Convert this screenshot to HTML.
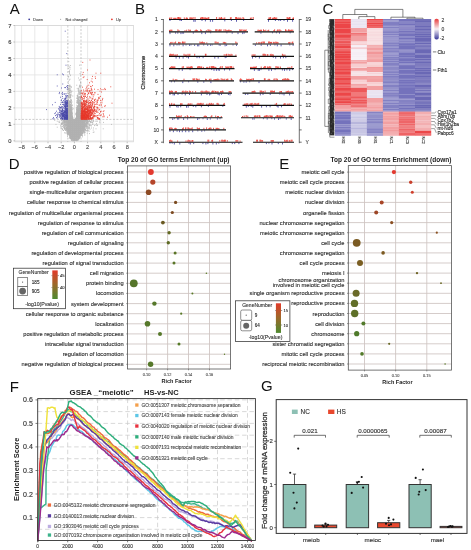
<!DOCTYPE html>
<html><head><meta charset="utf-8"><title>Figure</title>
<style>html,body{margin:0;padding:0;background:#fff;} svg{display:block;} text{font-family:'Liberation Sans',Arial,sans-serif;}</style>
</head><body>
<svg width="471" height="550" viewBox="0 0 471 550" style="font-family:'Liberation Sans',Arial,sans-serif">
<rect width="471" height="550" fill="#fff"/>
<text x="9.7" y="14" font-size="15" text-anchor="start" font-weight="normal" fill="#111" >A</text>
<text x="135.1" y="14" font-size="15" text-anchor="start" font-weight="normal" fill="#111" >B</text>
<text x="322.5" y="13.6" font-size="15" text-anchor="start" font-weight="normal" fill="#111" >C</text>
<text x="8.8" y="169.3" font-size="15" text-anchor="start" font-weight="normal" fill="#111" >D</text>
<text x="279.2" y="169.2" font-size="15" text-anchor="start" font-weight="normal" fill="#111" >E</text>
<text x="9.8" y="391.6" font-size="15" text-anchor="start" font-weight="normal" fill="#111" >F</text>
<text x="261" y="391.4" font-size="15" text-anchor="start" font-weight="normal" fill="#111" >G</text>
<path d="M21.6 25.5V141.8M34.8 25.5V141.8M48 25.5V141.8M61.2 25.5V141.8M74.4 25.5V141.8M87.6 25.5V141.8M100.8 25.5V141.8M114 25.5V141.8M127.2 25.5V141.8M14.9 140.8H133.4M14.9 124.3H133.4M14.9 107.9H133.4M14.9 91.4H133.4M14.9 74.9H133.4M14.9 58.5H133.4M14.9 42H133.4M14.9 25.5H133.4" stroke="#e2e2e2" stroke-width="0.8" fill="none"/>
<rect x="14.9" y="25.5" width="118.5" height="116.3" fill="none" stroke="#d6d6d6" stroke-width="0.8"/>
<path d="M21.6 141.8v1.5M34.8 141.8v1.5M48 141.8v1.5M61.2 141.8v1.5M74.4 141.8v1.5M87.6 141.8v1.5M100.8 141.8v1.5M114 141.8v1.5M127.2 141.8v1.5M14.9 140.8h-1.5M14.9 124.3h-1.5M14.9 107.9h-1.5M14.9 91.4h-1.5M14.9 74.9h-1.5M14.9 58.5h-1.5M14.9 42h-1.5M14.9 25.5h-1.5" stroke="#999" stroke-width="0.6"/>
<text x="21.6" y="149" font-size="5.6" text-anchor="middle" font-weight="normal" fill="#4a4a4a" stroke="#4a4a4a" stroke-width="0.12" >−8</text>
<text x="34.8" y="149" font-size="5.6" text-anchor="middle" font-weight="normal" fill="#4a4a4a" stroke="#4a4a4a" stroke-width="0.12" >−6</text>
<text x="48" y="149" font-size="5.6" text-anchor="middle" font-weight="normal" fill="#4a4a4a" stroke="#4a4a4a" stroke-width="0.12" >−4</text>
<text x="61.2" y="149" font-size="5.6" text-anchor="middle" font-weight="normal" fill="#4a4a4a" stroke="#4a4a4a" stroke-width="0.12" >−2</text>
<text x="74.4" y="149" font-size="5.6" text-anchor="middle" font-weight="normal" fill="#4a4a4a" stroke="#4a4a4a" stroke-width="0.12" >0</text>
<text x="87.6" y="149" font-size="5.6" text-anchor="middle" font-weight="normal" fill="#4a4a4a" stroke="#4a4a4a" stroke-width="0.12" >2</text>
<text x="100.8" y="149" font-size="5.6" text-anchor="middle" font-weight="normal" fill="#4a4a4a" stroke="#4a4a4a" stroke-width="0.12" >4</text>
<text x="114" y="149" font-size="5.6" text-anchor="middle" font-weight="normal" fill="#4a4a4a" stroke="#4a4a4a" stroke-width="0.12" >6</text>
<text x="127.2" y="149" font-size="5.6" text-anchor="middle" font-weight="normal" fill="#4a4a4a" stroke="#4a4a4a" stroke-width="0.12" >8</text>
<text x="11.4" y="142.8" font-size="5.8" text-anchor="end" font-weight="normal" fill="#3a3a3a" stroke="#3a3a3a" stroke-width="0.13" >0</text>
<text x="11.4" y="126.3" font-size="5.8" text-anchor="end" font-weight="normal" fill="#3a3a3a" stroke="#3a3a3a" stroke-width="0.13" >1</text>
<text x="11.4" y="109.9" font-size="5.8" text-anchor="end" font-weight="normal" fill="#3a3a3a" stroke="#3a3a3a" stroke-width="0.13" >2</text>
<text x="11.4" y="93.4" font-size="5.8" text-anchor="end" font-weight="normal" fill="#3a3a3a" stroke="#3a3a3a" stroke-width="0.13" >3</text>
<text x="11.4" y="76.9" font-size="5.8" text-anchor="end" font-weight="normal" fill="#3a3a3a" stroke="#3a3a3a" stroke-width="0.13" >4</text>
<text x="11.4" y="60.5" font-size="5.8" text-anchor="end" font-weight="normal" fill="#3a3a3a" stroke="#3a3a3a" stroke-width="0.13" >5</text>
<text x="11.4" y="44" font-size="5.8" text-anchor="end" font-weight="normal" fill="#3a3a3a" stroke="#3a3a3a" stroke-width="0.13" >6</text>
<text x="11.4" y="27.5" font-size="5.8" text-anchor="end" font-weight="normal" fill="#3a3a3a" stroke="#3a3a3a" stroke-width="0.13" >7</text>
<path d="M14.9 119.4H133.4M67.8 25.5V141.8M81 25.5V141.8" stroke="#aaa" stroke-width="0.6" stroke-dasharray="2 1.5" fill="none"/>
<circle cx="29.2" cy="19.3" r="0.9" fill="#3a3a9a"/>
<text x="33.1" y="21" font-size="3.9" text-anchor="start" font-weight="normal" fill="#444" stroke="#444" stroke-width="0.09" >Down</text>
<circle cx="60.6" cy="19.3" r="0.6" fill="#aaa"/>
<text x="65.4" y="21" font-size="3.9" text-anchor="start" font-weight="normal" fill="#444" stroke="#444" stroke-width="0.09" >Not changed</text>
<circle cx="111.9" cy="19.3" r="0.9" fill="#e53a30"/>
<text x="116" y="21" font-size="3.9" text-anchor="start" font-weight="normal" fill="#444" stroke="#444" stroke-width="0.09" >Up</text>
<path d="M68 43.6h0M68.4 58.4h0M68.8 61.6h0M68.8 65.2h0M79.6 65.2h0M70.4 65.6h0M68 66.4h0M69.2 66.8h0M70 67.6h0M68.4 68.4h0M70 69.2h0M69.6 70.8h0M68.8 71.6h0M69.6 71.6h0M69.6 72.4h0M69.6 73.6h0M80 73.6h0M80.8 74h0M70 74.4h0M70.4 75.6h0M80.4 76h0M68 76.8h0M68.4 76.8h0M68.8 76.8h0M78.4 78h0M70 79.2h0M69.6 80h0M79.2 80h0M80 80h0M68.4 81.2h0M80.4 82h0M80.4 82.4h0M80.4 82.8h0M68.4 83.2h0M80.8 84h0M69.2 85.2h0M70 85.2h0M76.8 85.2h0M79.6 85.2h0M80.8 85.2h0M68.4 85.6h0M68.8 86h0M69.6 86h0M70 86h0M79.6 86h0M80.4 86h0M70.8 86.4h0M79.6 86.4h0M69.6 86.8h0M71.2 86.8h0M80.4 86.8h0M79.2 87.2h0M68 87.6h0M71.2 87.6h0M80.8 87.6h0M70 88h0M80 88h0M68.4 88.4h0M68.8 88.4h0M69.2 88.4h0M70 88.4h0M77.2 88.4h0M78.4 88.4h0M68 88.8h0M68.8 89.2h0M69.2 89.2h0M78.4 89.2h0M68.8 89.6h0M70 89.6h0M68 90h0M68.4 90h0M70.8 90h0M78 90h0M79.2 90h0M69.2 90.4h0M69.6 90.4h0M78.8 90.4h0M80.8 90.4h0M70.4 90.8h0M70.8 90.8h0M80.8 90.8h0M69.6 91.2h0M72 91.2h0M78.8 91.2h0M79.2 91.2h0M80.8 91.2h0M68 91.6h0M68.4 91.6h0M71.2 91.6h0M78.8 91.6h0M80.4 91.6h0M69.2 92h0M80 92h0M80.4 92h0M69.6 92.4h0M70 92.4h0M78.8 92.4h0M80.8 92.4h0M69.6 92.8h0M70.8 92.8h0M71.2 92.8h0M79.2 92.8h0M80 92.8h0M68.8 93.2h0M79.6 93.2h0M68 93.6h0M68.4 93.6h0M78.8 93.6h0M80.4 93.6h0M69.2 94h0M69.6 94h0M78 94h0M80.8 94h0M70 94.4h0M70.8 94.4h0M79.6 94.4h0M80.8 94.4h0M68.8 94.8h0M70.8 94.8h0M78.8 94.8h0M71.2 95.2h0M77.6 95.2h0M69.2 95.6h0M70 95.6h0M70.4 95.6h0M77.2 95.6h0M68.4 96h0M68.8 96h0M70.4 96h0M72.8 96h0M77.2 96h0M77.6 96h0M78 96h0M80.4 96h0M68.8 96.4h0M80 96.4h0M80.4 96.4h0M68.4 96.8h0M68.8 96.8h0M70 96.8h0M70.4 96.8h0M70.8 96.8h0M77.6 96.8h0M78.4 96.8h0M79.2 96.8h0M80 96.8h0M80.4 96.8h0M80.8 96.8h0M69.2 97.2h0M80.8 97.2h0M68.4 97.6h0M70 97.6h0M70.4 97.6h0M77.2 97.6h0M78.4 97.6h0M79.2 97.6h0M80 97.6h0M68 98h0M69.6 98h0M70.8 98h0M77.2 98h0M78.8 98h0M79.6 98h0M80.4 98h0M68 98.4h0M76.8 98.4h0M77.6 98.4h0M80.4 98.4h0M78 98.8h0M78.8 98.8h0M80.4 98.8h0M80.8 98.8h0M77.6 99.2h0M78 99.2h0M78.4 99.2h0M78.8 99.2h0M80.8 99.2h0M68.4 99.6h0M70.8 99.6h0M78.4 99.6h0M68 100h0M70.8 100h0M71.6 100h0M79.6 100h0M80 100h0M68.4 100.4h0M68.8 100.4h0M71.6 100.4h0M77.6 100.4h0M78 100.4h0M78.4 100.4h0M79.2 100.4h0M79.6 100.4h0M80.4 100.4h0M80.8 100.4h0M68 100.8h0M68.4 100.8h0M68.8 100.8h0M70.4 100.8h0M76.8 100.8h0M78 100.8h0M80.4 100.8h0M69.2 101.2h0M69.6 101.2h0M70 101.2h0M71.6 101.2h0M79.2 101.2h0M79.6 101.2h0M80 101.2h0M80.4 101.2h0M68 101.6h0M70 101.6h0M70.4 101.6h0M77.6 101.6h0M78.4 101.6h0M78.8 101.6h0M80.8 101.6h0M68.8 102h0M69.2 102h0M69.6 102h0M70.4 102h0M70.8 102h0M72 102h0M76.8 102h0M77.6 102h0M80.4 102h0M68 102.4h0M68.8 102.4h0M70 102.4h0M70.4 102.4h0M78 102.4h0M78.4 102.4h0M78.8 102.4h0M79.2 102.4h0M80 102.4h0M80.4 102.4h0M80.8 102.4h0M68 102.8h0M69.2 102.8h0M70 102.8h0M71.2 102.8h0M71.6 102.8h0M76.8 102.8h0M77.2 102.8h0M77.6 102.8h0M78.4 102.8h0M78.8 102.8h0M79.2 102.8h0M80.8 102.8h0M68 103.2h0M68.4 103.2h0M70 103.2h0M78 103.2h0M78.8 103.2h0M79.2 103.2h0M79.6 103.2h0M80 103.2h0M80.4 103.2h0M68 103.6h0M69.6 103.6h0M71.2 103.6h0M78 103.6h0M78.4 103.6h0M79.2 103.6h0M80.4 103.6h0M80.8 103.6h0M68 104h0M68.4 104h0M68.8 104h0M69.2 104h0M71.6 104h0M78.4 104h0M78.8 104h0M79.2 104h0M79.6 104h0M80 104h0M80.4 104h0M80.8 104h0M68 104.4h0M68.8 104.4h0M69.2 104.4h0M70.4 104.4h0M78.8 104.4h0M79.6 104.4h0M80 104.4h0M80.8 104.4h0M69.6 104.8h0M70 104.8h0M70.4 104.8h0M70.8 104.8h0M71.2 104.8h0M78.8 104.8h0M79.2 104.8h0M79.6 104.8h0M80 104.8h0M80.8 104.8h0M68 105.2h0M68.8 105.2h0M69.6 105.2h0M70.4 105.2h0M70.8 105.2h0M72 105.2h0M72.4 105.2h0M76.8 105.2h0M78.4 105.2h0M78.8 105.2h0M79.6 105.2h0M80 105.2h0M80.4 105.2h0M80.8 105.2h0M68 105.6h0M68.4 105.6h0M68.8 105.6h0M69.6 105.6h0M71.6 105.6h0M78 105.6h0M78.4 105.6h0M79.2 105.6h0M80 105.6h0M80.8 105.6h0M69.2 106h0M69.6 106h0M70.8 106h0M77.2 106h0M77.6 106h0M78.4 106h0M78.8 106h0M79.2 106h0M79.6 106h0M68 106.4h0M68.4 106.4h0M69.2 106.4h0M70 106.4h0M70.4 106.4h0M71.6 106.4h0M77.2 106.4h0M79.6 106.4h0M80.4 106.4h0M80.8 106.4h0M68.4 106.8h0M68.8 106.8h0M69.6 106.8h0M70 106.8h0M70.8 106.8h0M77.2 106.8h0M77.6 106.8h0M78.4 106.8h0M78.8 106.8h0M79.2 106.8h0M79.6 106.8h0M80 106.8h0M80.8 106.8h0M68.8 107.2h0M69.2 107.2h0M69.6 107.2h0M70.4 107.2h0M70.8 107.2h0M71.2 107.2h0M72 107.2h0M78 107.2h0M78.4 107.2h0M78.8 107.2h0M79.2 107.2h0M80 107.2h0M80.4 107.2h0M80.8 107.2h0M68.8 107.6h0M70 107.6h0M70.4 107.6h0M70.8 107.6h0M71.2 107.6h0M71.6 107.6h0M72 107.6h0M76.4 107.6h0M77.2 107.6h0M77.6 107.6h0M78 107.6h0M78.8 107.6h0M79.2 107.6h0M79.6 107.6h0M80 107.6h0M80.4 107.6h0M80.8 107.6h0M68.8 108h0M70 108h0M70.8 108h0M71.2 108h0M71.6 108h0M76.8 108h0M77.6 108h0M78.4 108h0M79.2 108h0M79.6 108h0M80 108h0M80.4 108h0M80.8 108h0M68 108.4h0M69.2 108.4h0M70 108.4h0M70.4 108.4h0M70.8 108.4h0M71.6 108.4h0M77.6 108.4h0M78 108.4h0M78.4 108.4h0M79.2 108.4h0M79.6 108.4h0M80 108.4h0M80.4 108.4h0M80.8 108.4h0M68 108.8h0M68.4 108.8h0M68.8 108.8h0M70 108.8h0M70.4 108.8h0M70.8 108.8h0M71.2 108.8h0M72 108.8h0M73.2 108.8h0M76.8 108.8h0M78 108.8h0M78.4 108.8h0M78.8 108.8h0M79.2 108.8h0M80.8 108.8h0M68 109.2h0M68.4 109.2h0M68.8 109.2h0M69.2 109.2h0M69.6 109.2h0M70 109.2h0M70.4 109.2h0M71.2 109.2h0M71.6 109.2h0M72.4 109.2h0M76.4 109.2h0M76.8 109.2h0M77.2 109.2h0M77.6 109.2h0M78 109.2h0M79.2 109.2h0M79.6 109.2h0M80 109.2h0M80.4 109.2h0M80.8 109.2h0M68 109.6h0M68.4 109.6h0M68.8 109.6h0M69.6 109.6h0M70 109.6h0M70.4 109.6h0M70.8 109.6h0M71.2 109.6h0M76.8 109.6h0M77.2 109.6h0M77.6 109.6h0M78.4 109.6h0M78.8 109.6h0M79.2 109.6h0M79.6 109.6h0M80 109.6h0M80.4 109.6h0M68 110h0M69.2 110h0M69.6 110h0M70 110h0M70.4 110h0M70.8 110h0M72 110h0M77.6 110h0M78.4 110h0M78.8 110h0M79.2 110h0M79.6 110h0M80 110h0M80.4 110h0M80.8 110h0M68 110.4h0M68.4 110.4h0M69.2 110.4h0M69.6 110.4h0M70 110.4h0M70.4 110.4h0M71.2 110.4h0M71.6 110.4h0M76.4 110.4h0M77.2 110.4h0M77.6 110.4h0M78 110.4h0M78.4 110.4h0M78.8 110.4h0M79.2 110.4h0M79.6 110.4h0M80 110.4h0M80.4 110.4h0M80.8 110.4h0M68.4 110.8h0M68.8 110.8h0M69.2 110.8h0M69.6 110.8h0M70 110.8h0M70.4 110.8h0M70.8 110.8h0M71.6 110.8h0M72 110.8h0M77.2 110.8h0M77.6 110.8h0M78 110.8h0M78.4 110.8h0M78.8 110.8h0M79.2 110.8h0M79.6 110.8h0M80 110.8h0M80.4 110.8h0M80.8 110.8h0M68.4 111.2h0M68.8 111.2h0M69.2 111.2h0M69.6 111.2h0M70 111.2h0M70.8 111.2h0M71.2 111.2h0M76.4 111.2h0M77.2 111.2h0M78 111.2h0M78.4 111.2h0M78.8 111.2h0M79.2 111.2h0M79.6 111.2h0M80 111.2h0M80.4 111.2h0M80.8 111.2h0M68 111.6h0M68.4 111.6h0M68.8 111.6h0M69.2 111.6h0M69.6 111.6h0M70.8 111.6h0M71.2 111.6h0M71.6 111.6h0M72 111.6h0M77.2 111.6h0M77.6 111.6h0M78 111.6h0M78.4 111.6h0M78.8 111.6h0M79.2 111.6h0M79.6 111.6h0M80 111.6h0M80.4 111.6h0M80.8 111.6h0M68 112h0M68.4 112h0M69.2 112h0M69.6 112h0M70 112h0M70.4 112h0M70.8 112h0M71.2 112h0M71.6 112h0M76.4 112h0M76.8 112h0M78 112h0M78.4 112h0M78.8 112h0M79.2 112h0M79.6 112h0M80 112h0M80.4 112h0M68 112.4h0M68.4 112.4h0M68.8 112.4h0M69.2 112.4h0M69.6 112.4h0M70 112.4h0M70.4 112.4h0M70.8 112.4h0M71.6 112.4h0M72 112.4h0M76.4 112.4h0M77.2 112.4h0M77.6 112.4h0M78.8 112.4h0M79.2 112.4h0M79.6 112.4h0M80 112.4h0M80.4 112.4h0M80.8 112.4h0M68 112.8h0M68.4 112.8h0M68.8 112.8h0M69.2 112.8h0M69.6 112.8h0M70 112.8h0M70.4 112.8h0M70.8 112.8h0M71.2 112.8h0M71.6 112.8h0M72 112.8h0M76.4 112.8h0M77.2 112.8h0M77.6 112.8h0M78 112.8h0M78.4 112.8h0M78.8 112.8h0M79.2 112.8h0M79.6 112.8h0M80 112.8h0M80.4 112.8h0M80.8 112.8h0M68 113.2h0M68.4 113.2h0M68.8 113.2h0M69.2 113.2h0M69.6 113.2h0M70 113.2h0M70.4 113.2h0M70.8 113.2h0M71.2 113.2h0M72 113.2h0M72.4 113.2h0M76 113.2h0M76.4 113.2h0M77.2 113.2h0M77.6 113.2h0M78 113.2h0M78.4 113.2h0M78.8 113.2h0M79.2 113.2h0M79.6 113.2h0M80 113.2h0M80.4 113.2h0M80.8 113.2h0M68 113.6h0M68.4 113.6h0M69.2 113.6h0M69.6 113.6h0M70 113.6h0M70.4 113.6h0M70.8 113.6h0M71.6 113.6h0M72 113.6h0M76 113.6h0M76.4 113.6h0M76.8 113.6h0M77.2 113.6h0M77.6 113.6h0M78 113.6h0M78.4 113.6h0M78.8 113.6h0M79.2 113.6h0M79.6 113.6h0M80 113.6h0M80.4 113.6h0M80.8 113.6h0M68 114h0M68.4 114h0M68.8 114h0M69.2 114h0M69.6 114h0M70.4 114h0M70.8 114h0M71.2 114h0M71.6 114h0M72 114h0M76.8 114h0M77.6 114h0M78 114h0M78.4 114h0M79.2 114h0M79.6 114h0M80 114h0M80.4 114h0M80.8 114h0M68 114.4h0M68.4 114.4h0M69.2 114.4h0M70 114.4h0M70.4 114.4h0M70.8 114.4h0M71.6 114.4h0M76 114.4h0M76.4 114.4h0M76.8 114.4h0M77.2 114.4h0M77.6 114.4h0M78 114.4h0M78.4 114.4h0M78.8 114.4h0M79.2 114.4h0M79.6 114.4h0M80.8 114.4h0M68 114.8h0M68.4 114.8h0M69.2 114.8h0M69.6 114.8h0M70 114.8h0M70.4 114.8h0M70.8 114.8h0M71.2 114.8h0M71.6 114.8h0M72 114.8h0M72.4 114.8h0M76 114.8h0M76.8 114.8h0M77.2 114.8h0M77.6 114.8h0M78 114.8h0M78.4 114.8h0M78.8 114.8h0M79.2 114.8h0M79.6 114.8h0M80 114.8h0M80.4 114.8h0M80.8 114.8h0M68 115.2h0M68.4 115.2h0M68.8 115.2h0M69.6 115.2h0M70 115.2h0M71.2 115.2h0M71.6 115.2h0M76.8 115.2h0M77.2 115.2h0M77.6 115.2h0M78.4 115.2h0M78.8 115.2h0M79.2 115.2h0M79.6 115.2h0M80 115.2h0M80.4 115.2h0M80.8 115.2h0M68 115.6h0M68.4 115.6h0M68.8 115.6h0M69.2 115.6h0M69.6 115.6h0M70 115.6h0M70.4 115.6h0M70.8 115.6h0M71.2 115.6h0M71.6 115.6h0M72 115.6h0M76.4 115.6h0M76.8 115.6h0M77.2 115.6h0M77.6 115.6h0M78 115.6h0M78.4 115.6h0M78.8 115.6h0M79.2 115.6h0M79.6 115.6h0M80 115.6h0M80.4 115.6h0M80.8 115.6h0M68 116h0M68.4 116h0M68.8 116h0M69.2 116h0M69.6 116h0M70 116h0M70.4 116h0M70.8 116h0M71.2 116h0M71.6 116h0M72 116h0M72.4 116h0M76.4 116h0M76.8 116h0M77.2 116h0M77.6 116h0M78 116h0M78.4 116h0M78.8 116h0M79.2 116h0M79.6 116h0M80 116h0M80.4 116h0M80.8 116h0M68 116.4h0M68.4 116.4h0M68.8 116.4h0M69.2 116.4h0M69.6 116.4h0M70 116.4h0M70.4 116.4h0M70.8 116.4h0M71.2 116.4h0M71.6 116.4h0M72 116.4h0M72.4 116.4h0M76.8 116.4h0M77.2 116.4h0M77.6 116.4h0M78 116.4h0M78.4 116.4h0M78.8 116.4h0M79.2 116.4h0M79.6 116.4h0M80 116.4h0M80.4 116.4h0M80.8 116.4h0M68 116.8h0M68.4 116.8h0M68.8 116.8h0M69.2 116.8h0M69.6 116.8h0M70 116.8h0M70.4 116.8h0M70.8 116.8h0M71.2 116.8h0M71.6 116.8h0M72 116.8h0M72.4 116.8h0M76.4 116.8h0M76.8 116.8h0M77.2 116.8h0M77.6 116.8h0M78 116.8h0M78.4 116.8h0M78.8 116.8h0M79.2 116.8h0M79.6 116.8h0M80 116.8h0M80.4 116.8h0M80.8 116.8h0M68 117.2h0M68.4 117.2h0M68.8 117.2h0M69.2 117.2h0M69.6 117.2h0M70.4 117.2h0M70.8 117.2h0M71.2 117.2h0M71.6 117.2h0M76.4 117.2h0M76.8 117.2h0M77.2 117.2h0M77.6 117.2h0M78 117.2h0M78.4 117.2h0M78.8 117.2h0M79.2 117.2h0M79.6 117.2h0M80 117.2h0M80.4 117.2h0M80.8 117.2h0M68 117.6h0M68.4 117.6h0M69.2 117.6h0M69.6 117.6h0M70 117.6h0M70.4 117.6h0M70.8 117.6h0M71.6 117.6h0M72 117.6h0M72.4 117.6h0M72.8 117.6h0M76.4 117.6h0M76.8 117.6h0M77.2 117.6h0M77.6 117.6h0M78 117.6h0M78.4 117.6h0M78.8 117.6h0M79.2 117.6h0M79.6 117.6h0M80 117.6h0M80.4 117.6h0M80.8 117.6h0M68 118h0M68.4 118h0M68.8 118h0M69.2 118h0M69.6 118h0M70 118h0M70.4 118h0M71.2 118h0M71.6 118h0M72 118h0M72.4 118h0M72.8 118h0M76 118h0M76.4 118h0M77.2 118h0M77.6 118h0M78 118h0M78.4 118h0M78.8 118h0M79.2 118h0M79.6 118h0M80 118h0M80.4 118h0M80.8 118h0M68 118.4h0M68.4 118.4h0M68.8 118.4h0M69.2 118.4h0M69.6 118.4h0M70 118.4h0M70.4 118.4h0M70.8 118.4h0M71.2 118.4h0M71.6 118.4h0M72 118.4h0M72.4 118.4h0M75.6 118.4h0M76 118.4h0M76.4 118.4h0M76.8 118.4h0M77.2 118.4h0M77.6 118.4h0M78 118.4h0M78.4 118.4h0M78.8 118.4h0M79.2 118.4h0M79.6 118.4h0M80 118.4h0M80.4 118.4h0M80.8 118.4h0M68 118.8h0M68.4 118.8h0M68.8 118.8h0M69.2 118.8h0M69.6 118.8h0M70 118.8h0M70.4 118.8h0M70.8 118.8h0M71.2 118.8h0M71.6 118.8h0M72 118.8h0M72.8 118.8h0M76 118.8h0M76.8 118.8h0M77.2 118.8h0M77.6 118.8h0M78 118.8h0M78.4 118.8h0M78.8 118.8h0M79.2 118.8h0M79.6 118.8h0M80 118.8h0M80.4 118.8h0M80.8 118.8h0M64.8 119.2h0M68.4 119.2h0M68.8 119.2h0M69.2 119.2h0M69.6 119.2h0M70 119.2h0M70.4 119.2h0M70.8 119.2h0M71.2 119.2h0M71.6 119.2h0M72 119.2h0M72.4 119.2h0M72.8 119.2h0M73.2 119.2h0M76 119.2h0M76.4 119.2h0M76.8 119.2h0M77.2 119.2h0M77.6 119.2h0M78 119.2h0M78.4 119.2h0M78.8 119.2h0M79.2 119.2h0M79.6 119.2h0M80 119.2h0M80.4 119.2h0M80.8 119.2h0M61.2 119.6h0M62.8 119.6h0M64 119.6h0M64.8 119.6h0M65.2 119.6h0M66 119.6h0M66.4 119.6h0M67.2 119.6h0M67.6 119.6h0M68 119.6h0M68.4 119.6h0M68.8 119.6h0M69.2 119.6h0M69.6 119.6h0M70 119.6h0M70.4 119.6h0M70.8 119.6h0M71.2 119.6h0M71.6 119.6h0M72 119.6h0M72.4 119.6h0M72.8 119.6h0M73.2 119.6h0M73.6 119.6h0M74.4 119.6h0M74.8 119.6h0M75.2 119.6h0M75.6 119.6h0M76.4 119.6h0M76.8 119.6h0M77.2 119.6h0M77.6 119.6h0M78 119.6h0M78.4 119.6h0M78.8 119.6h0M79.2 119.6h0M79.6 119.6h0M80 119.6h0M80.4 119.6h0M80.8 119.6h0M81.2 119.6h0M81.6 119.6h0M82 119.6h0M82.4 119.6h0M82.8 119.6h0M83.2 119.6h0M83.6 119.6h0M84 119.6h0M84.4 119.6h0M85.2 119.6h0M85.6 119.6h0M86 119.6h0M86.8 119.6h0M87.2 119.6h0M88.4 119.6h0M88.8 119.6h0M90 119.6h0M64.4 120h0M65.2 120h0M66.8 120h0M68 120h0M68.4 120h0M68.8 120h0M69.2 120h0M69.6 120h0M70 120h0M70.4 120h0M70.8 120h0M71.2 120h0M71.6 120h0M72 120h0M72.4 120h0M72.8 120h0M73.2 120h0M74 120h0M74.4 120h0M74.8 120h0M75.2 120h0M75.6 120h0M76 120h0M76.4 120h0M76.8 120h0M77.2 120h0M77.6 120h0M78 120h0M78.4 120h0M78.8 120h0M79.2 120h0M79.6 120h0M80 120h0M80.4 120h0M80.8 120h0M81.2 120h0M81.6 120h0M82 120h0M82.4 120h0M82.8 120h0M83.2 120h0M83.6 120h0M84 120h0M84.4 120h0M85.6 120h0M86 120h0M86.4 120h0M86.8 120h0M87.2 120h0M89.6 120h0M54.8 120.4h0M61.6 120.4h0M63.6 120.4h0M64.8 120.4h0M65.6 120.4h0M66.8 120.4h0M68.4 120.4h0M68.8 120.4h0M69.6 120.4h0M70 120.4h0M70.4 120.4h0M70.8 120.4h0M71.2 120.4h0M72 120.4h0M72.4 120.4h0M72.8 120.4h0M73.6 120.4h0M74 120.4h0M74.4 120.4h0M75.2 120.4h0M75.6 120.4h0M76 120.4h0M76.4 120.4h0M76.8 120.4h0M77.2 120.4h0M77.6 120.4h0M78 120.4h0M78.4 120.4h0M78.8 120.4h0M79.2 120.4h0M79.6 120.4h0M80 120.4h0M80.4 120.4h0M80.8 120.4h0M81.2 120.4h0M81.6 120.4h0M82 120.4h0M82.4 120.4h0M82.8 120.4h0M83.2 120.4h0M83.6 120.4h0M84.4 120.4h0M85.2 120.4h0M85.6 120.4h0M86.4 120.4h0M86.8 120.4h0M87.2 120.4h0M87.6 120.4h0M62.8 120.8h0M63.6 120.8h0M64 120.8h0M64.4 120.8h0M64.8 120.8h0M66.4 120.8h0M66.8 120.8h0M67.2 120.8h0M67.6 120.8h0M68 120.8h0M68.8 120.8h0M69.2 120.8h0M69.6 120.8h0M70.4 120.8h0M70.8 120.8h0M71.2 120.8h0M71.6 120.8h0M72 120.8h0M72.4 120.8h0M72.8 120.8h0M73.2 120.8h0M73.6 120.8h0M74 120.8h0M74.4 120.8h0M74.8 120.8h0M75.6 120.8h0M76 120.8h0M76.4 120.8h0M76.8 120.8h0M77.2 120.8h0M77.6 120.8h0M78 120.8h0M78.4 120.8h0M78.8 120.8h0M79.2 120.8h0M79.6 120.8h0M80 120.8h0M80.4 120.8h0M80.8 120.8h0M81.2 120.8h0M81.6 120.8h0M82 120.8h0M82.4 120.8h0M82.8 120.8h0M83.2 120.8h0M84 120.8h0M84.4 120.8h0M84.8 120.8h0M85.2 120.8h0M85.6 120.8h0M86.4 120.8h0M86.8 120.8h0M87.6 120.8h0M88 120.8h0M89.2 120.8h0M91.6 120.8h0M92 120.8h0M93.2 120.8h0M93.6 120.8h0M100 120.8h0M57.2 121.2h0M59.2 121.2h0M62.8 121.2h0M63.2 121.2h0M63.6 121.2h0M64.4 121.2h0M64.8 121.2h0M65.6 121.2h0M66.4 121.2h0M67.2 121.2h0M67.6 121.2h0M68 121.2h0M68.8 121.2h0M69.2 121.2h0M69.6 121.2h0M70 121.2h0M70.4 121.2h0M70.8 121.2h0M71.2 121.2h0M71.6 121.2h0M72 121.2h0M72.4 121.2h0M72.8 121.2h0M73.6 121.2h0M74 121.2h0M74.4 121.2h0M74.8 121.2h0M75.2 121.2h0M75.6 121.2h0M76 121.2h0M76.4 121.2h0M76.8 121.2h0M77.2 121.2h0M77.6 121.2h0M78 121.2h0M78.4 121.2h0M78.8 121.2h0M79.2 121.2h0M79.6 121.2h0M80 121.2h0M80.4 121.2h0M80.8 121.2h0M81.2 121.2h0M81.6 121.2h0M82 121.2h0M82.4 121.2h0M82.8 121.2h0M83.6 121.2h0M84 121.2h0M84.4 121.2h0M84.8 121.2h0M85.2 121.2h0M86 121.2h0M86.8 121.2h0M87.2 121.2h0M88.8 121.2h0M89.2 121.2h0M89.6 121.2h0M90 121.2h0M92 121.2h0M93.6 121.2h0M95.2 121.2h0M96.8 121.2h0M97.2 121.2h0M64.4 121.6h0M65.6 121.6h0M66 121.6h0M66.4 121.6h0M66.8 121.6h0M67.2 121.6h0M67.6 121.6h0M68 121.6h0M68.4 121.6h0M68.8 121.6h0M69.2 121.6h0M69.6 121.6h0M70 121.6h0M70.4 121.6h0M70.8 121.6h0M71.2 121.6h0M71.6 121.6h0M72 121.6h0M72.4 121.6h0M72.8 121.6h0M73.2 121.6h0M73.6 121.6h0M74 121.6h0M74.4 121.6h0M75.2 121.6h0M75.6 121.6h0M76 121.6h0M76.4 121.6h0M76.8 121.6h0M77.2 121.6h0M77.6 121.6h0M78 121.6h0M78.4 121.6h0M78.8 121.6h0M79.2 121.6h0M79.6 121.6h0M80 121.6h0M80.4 121.6h0M80.8 121.6h0M81.2 121.6h0M81.6 121.6h0M82 121.6h0M82.4 121.6h0M82.8 121.6h0M83.6 121.6h0M84 121.6h0M84.8 121.6h0M85.6 121.6h0M87.2 121.6h0M87.6 121.6h0M88 121.6h0M88.8 121.6h0M90.4 121.6h0M58.8 122h0M64 122h0M64.4 122h0M64.8 122h0M65.2 122h0M65.6 122h0M66.8 122h0M67.2 122h0M67.6 122h0M68 122h0M68.4 122h0M68.8 122h0M69.6 122h0M70 122h0M70.4 122h0M71.2 122h0M71.6 122h0M72 122h0M72.4 122h0M72.8 122h0M73.6 122h0M74 122h0M75.2 122h0M75.6 122h0M76 122h0M76.4 122h0M76.8 122h0M77.2 122h0M77.6 122h0M78 122h0M78.4 122h0M78.8 122h0M79.2 122h0M79.6 122h0M80 122h0M80.4 122h0M80.8 122h0M81.2 122h0M81.6 122h0M82 122h0M82.4 122h0M82.8 122h0M83.6 122h0M84 122h0M86.4 122h0M90.4 122h0M99.6 122h0M59.6 122.4h0M62.8 122.4h0M64.4 122.4h0M64.8 122.4h0M65.2 122.4h0M66.4 122.4h0M67.2 122.4h0M67.6 122.4h0M68.4 122.4h0M68.8 122.4h0M69.2 122.4h0M69.6 122.4h0M70 122.4h0M70.4 122.4h0M70.8 122.4h0M71.2 122.4h0M71.6 122.4h0M72 122.4h0M72.4 122.4h0M72.8 122.4h0M73.2 122.4h0M73.6 122.4h0M74 122.4h0M74.4 122.4h0M74.8 122.4h0M75.2 122.4h0M75.6 122.4h0M76 122.4h0M76.4 122.4h0M76.8 122.4h0M77.2 122.4h0M77.6 122.4h0M78 122.4h0M78.4 122.4h0M78.8 122.4h0M79.2 122.4h0M79.6 122.4h0M80 122.4h0M80.4 122.4h0M80.8 122.4h0M81.2 122.4h0M81.6 122.4h0M82 122.4h0M82.4 122.4h0M82.8 122.4h0M83.6 122.4h0M84 122.4h0M84.4 122.4h0M84.8 122.4h0M86 122.4h0M86.4 122.4h0M86.8 122.4h0M87.2 122.4h0M87.6 122.4h0M88 122.4h0M90.4 122.4h0M91.6 122.4h0M92.4 122.4h0M103.6 122.4h0M62.8 122.8h0M63.2 122.8h0M63.6 122.8h0M65.2 122.8h0M65.6 122.8h0M66.4 122.8h0M68 122.8h0M68.4 122.8h0M68.8 122.8h0M69.2 122.8h0M69.6 122.8h0M70 122.8h0M70.4 122.8h0M70.8 122.8h0M71.2 122.8h0M71.6 122.8h0M72 122.8h0M72.4 122.8h0M72.8 122.8h0M73.2 122.8h0M73.6 122.8h0M74 122.8h0M75.2 122.8h0M75.6 122.8h0M76.4 122.8h0M76.8 122.8h0M77.2 122.8h0M77.6 122.8h0M78 122.8h0M78.4 122.8h0M78.8 122.8h0M79.2 122.8h0M79.6 122.8h0M80 122.8h0M80.4 122.8h0M80.8 122.8h0M81.6 122.8h0M82 122.8h0M82.8 122.8h0M83.2 122.8h0M83.6 122.8h0M84 122.8h0M84.4 122.8h0M85.2 122.8h0M86.8 122.8h0M88.8 122.8h0M92.8 122.8h0M100 122.8h0M61.2 123.2h0M62 123.2h0M62.4 123.2h0M63.6 123.2h0M64.8 123.2h0M66.4 123.2h0M66.8 123.2h0M67.2 123.2h0M67.6 123.2h0M68 123.2h0M68.4 123.2h0M68.8 123.2h0M69.2 123.2h0M69.6 123.2h0M70 123.2h0M70.4 123.2h0M70.8 123.2h0M71.2 123.2h0M71.6 123.2h0M72 123.2h0M72.4 123.2h0M72.8 123.2h0M73.2 123.2h0M73.6 123.2h0M74.4 123.2h0M74.8 123.2h0M75.2 123.2h0M75.6 123.2h0M76 123.2h0M76.4 123.2h0M76.8 123.2h0M77.2 123.2h0M77.6 123.2h0M78 123.2h0M78.4 123.2h0M78.8 123.2h0M79.2 123.2h0M79.6 123.2h0M80 123.2h0M80.4 123.2h0M80.8 123.2h0M81.2 123.2h0M81.6 123.2h0M82 123.2h0M82.4 123.2h0M82.8 123.2h0M83.2 123.2h0M83.6 123.2h0M84 123.2h0M84.4 123.2h0M84.8 123.2h0M85.2 123.2h0M86 123.2h0M86.8 123.2h0M87.6 123.2h0M61.6 123.6h0M62.8 123.6h0M65.2 123.6h0M67.2 123.6h0M67.6 123.6h0M68 123.6h0M68.4 123.6h0M68.8 123.6h0M69.2 123.6h0M69.6 123.6h0M70 123.6h0M70.4 123.6h0M70.8 123.6h0M71.2 123.6h0M71.6 123.6h0M72 123.6h0M72.4 123.6h0M72.8 123.6h0M73.2 123.6h0M73.6 123.6h0M74 123.6h0M74.4 123.6h0M75.2 123.6h0M75.6 123.6h0M76 123.6h0M76.4 123.6h0M76.8 123.6h0M77.2 123.6h0M77.6 123.6h0M78 123.6h0M78.4 123.6h0M78.8 123.6h0M79.2 123.6h0M79.6 123.6h0M80 123.6h0M80.4 123.6h0M80.8 123.6h0M81.2 123.6h0M81.6 123.6h0M82 123.6h0M82.4 123.6h0M82.8 123.6h0M83.2 123.6h0M83.6 123.6h0M84 123.6h0M84.4 123.6h0M85.2 123.6h0M86 123.6h0M86.8 123.6h0M87.6 123.6h0M88.8 123.6h0M96.4 123.6h0M61.6 124h0M64 124h0M64.4 124h0M64.8 124h0M65.2 124h0M66.4 124h0M67.2 124h0M68 124h0M68.4 124h0M68.8 124h0M69.2 124h0M69.6 124h0M70 124h0M70.4 124h0M70.8 124h0M71.2 124h0M71.6 124h0M72 124h0M72.4 124h0M72.8 124h0M73.2 124h0M73.6 124h0M74 124h0M74.4 124h0M74.8 124h0M75.2 124h0M75.6 124h0M76 124h0M76.4 124h0M76.8 124h0M77.2 124h0M77.6 124h0M78 124h0M78.4 124h0M78.8 124h0M79.2 124h0M79.6 124h0M80 124h0M80.4 124h0M80.8 124h0M81.2 124h0M81.6 124h0M82 124h0M82.4 124h0M82.8 124h0M83.2 124h0M83.6 124h0M84 124h0M84.8 124h0M85.6 124h0M86.4 124h0M86.8 124h0M87.2 124h0M90 124h0M92.8 124h0M56 124.4h0M61.6 124.4h0M62 124.4h0M62.8 124.4h0M64.8 124.4h0M65.6 124.4h0M66 124.4h0M66.4 124.4h0M67.2 124.4h0M67.6 124.4h0M68 124.4h0M68.4 124.4h0M68.8 124.4h0M69.2 124.4h0M69.6 124.4h0M70 124.4h0M70.4 124.4h0M70.8 124.4h0M71.2 124.4h0M71.6 124.4h0M72 124.4h0M72.4 124.4h0M72.8 124.4h0M73.2 124.4h0M73.6 124.4h0M74 124.4h0M74.4 124.4h0M74.8 124.4h0M75.2 124.4h0M75.6 124.4h0M76 124.4h0M76.4 124.4h0M76.8 124.4h0M77.2 124.4h0M77.6 124.4h0M78 124.4h0M78.4 124.4h0M78.8 124.4h0M79.2 124.4h0M79.6 124.4h0M80 124.4h0M80.4 124.4h0M80.8 124.4h0M81.2 124.4h0M81.6 124.4h0M82 124.4h0M82.4 124.4h0M82.8 124.4h0M83.2 124.4h0M83.6 124.4h0M84.4 124.4h0M85.6 124.4h0M86 124.4h0M92.8 124.4h0M111.6 124.4h0M64 124.8h0M64.4 124.8h0M65.6 124.8h0M66.4 124.8h0M67.2 124.8h0M67.6 124.8h0M68 124.8h0M68.4 124.8h0M69.2 124.8h0M69.6 124.8h0M70 124.8h0M70.4 124.8h0M70.8 124.8h0M71.2 124.8h0M71.6 124.8h0M72 124.8h0M72.4 124.8h0M72.8 124.8h0M73.2 124.8h0M73.6 124.8h0M74 124.8h0M74.4 124.8h0M74.8 124.8h0M75.2 124.8h0M75.6 124.8h0M76 124.8h0M76.4 124.8h0M76.8 124.8h0M77.2 124.8h0M77.6 124.8h0M78 124.8h0M78.4 124.8h0M78.8 124.8h0M79.2 124.8h0M79.6 124.8h0M80 124.8h0M80.4 124.8h0M80.8 124.8h0M81.2 124.8h0M81.6 124.8h0M82 124.8h0M82.8 124.8h0M83.2 124.8h0M83.6 124.8h0M84 124.8h0M84.4 124.8h0M84.8 124.8h0M85.2 124.8h0M85.6 124.8h0M86 124.8h0M86.4 124.8h0M87.2 124.8h0M88.4 124.8h0M89.6 124.8h0M95.2 124.8h0M97.2 124.8h0M60.4 125.2h0M63.6 125.2h0M64.4 125.2h0M65.2 125.2h0M65.6 125.2h0M66 125.2h0M66.4 125.2h0M67.2 125.2h0M68 125.2h0M68.4 125.2h0M68.8 125.2h0M69.2 125.2h0M69.6 125.2h0M70 125.2h0M70.4 125.2h0M70.8 125.2h0M71.2 125.2h0M71.6 125.2h0M72 125.2h0M72.4 125.2h0M72.8 125.2h0M73.2 125.2h0M73.6 125.2h0M74 125.2h0M74.4 125.2h0M74.8 125.2h0M75.2 125.2h0M75.6 125.2h0M76 125.2h0M76.4 125.2h0M76.8 125.2h0M77.2 125.2h0M77.6 125.2h0M78 125.2h0M78.4 125.2h0M78.8 125.2h0M79.2 125.2h0M79.6 125.2h0M80 125.2h0M80.4 125.2h0M80.8 125.2h0M81.2 125.2h0M81.6 125.2h0M82 125.2h0M82.4 125.2h0M83.2 125.2h0M83.6 125.2h0M84 125.2h0M84.4 125.2h0M84.8 125.2h0M85.2 125.2h0M86.8 125.2h0M89.2 125.2h0M89.6 125.2h0M90.4 125.2h0M91.2 125.2h0M96.4 125.2h0M63.6 125.6h0M65.2 125.6h0M66.4 125.6h0M67.2 125.6h0M67.6 125.6h0M68 125.6h0M68.4 125.6h0M68.8 125.6h0M69.2 125.6h0M69.6 125.6h0M70 125.6h0M70.4 125.6h0M70.8 125.6h0M71.2 125.6h0M71.6 125.6h0M72 125.6h0M72.4 125.6h0M73.2 125.6h0M73.6 125.6h0M74 125.6h0M74.4 125.6h0M74.8 125.6h0M75.6 125.6h0M76 125.6h0M76.4 125.6h0M76.8 125.6h0M77.2 125.6h0M77.6 125.6h0M78 125.6h0M78.4 125.6h0M78.8 125.6h0M79.2 125.6h0M79.6 125.6h0M80 125.6h0M80.4 125.6h0M80.8 125.6h0M81.2 125.6h0M82.8 125.6h0M83.2 125.6h0M83.6 125.6h0M84.4 125.6h0M85.2 125.6h0M86 125.6h0M86.4 125.6h0M94.4 125.6h0M97.6 125.6h0M63.2 126h0M64 126h0M66 126h0M67.2 126h0M67.6 126h0M68 126h0M68.4 126h0M68.8 126h0M69.2 126h0M69.6 126h0M70 126h0M70.4 126h0M70.8 126h0M71.2 126h0M71.6 126h0M72 126h0M72.4 126h0M72.8 126h0M73.2 126h0M73.6 126h0M74 126h0M74.4 126h0M74.8 126h0M75.6 126h0M76 126h0M76.4 126h0M76.8 126h0M77.2 126h0M77.6 126h0M78 126h0M78.4 126h0M78.8 126h0M79.2 126h0M79.6 126h0M80 126h0M80.4 126h0M80.8 126h0M81.2 126h0M81.6 126h0M82 126h0M82.4 126h0M82.8 126h0M83.2 126h0M83.6 126h0M84 126h0M84.4 126h0M85.2 126h0M85.6 126h0M86 126h0M87.2 126h0M89.6 126h0M91.2 126h0M62 126.4h0M62.8 126.4h0M65.2 126.4h0M66 126.4h0M67.2 126.4h0M67.6 126.4h0M68 126.4h0M68.4 126.4h0M68.8 126.4h0M69.2 126.4h0M69.6 126.4h0M70 126.4h0M70.4 126.4h0M70.8 126.4h0M71.2 126.4h0M71.6 126.4h0M72 126.4h0M72.4 126.4h0M72.8 126.4h0M73.2 126.4h0M74 126.4h0M74.4 126.4h0M74.8 126.4h0M75.2 126.4h0M75.6 126.4h0M76 126.4h0M76.4 126.4h0M76.8 126.4h0M77.2 126.4h0M77.6 126.4h0M78 126.4h0M78.4 126.4h0M78.8 126.4h0M79.2 126.4h0M79.6 126.4h0M80 126.4h0M80.4 126.4h0M80.8 126.4h0M81.2 126.4h0M81.6 126.4h0M82 126.4h0M82.4 126.4h0M82.8 126.4h0M83.2 126.4h0M83.6 126.4h0M84.4 126.4h0M84.8 126.4h0M86.8 126.4h0M87.2 126.4h0M88.8 126.4h0M60.8 126.8h0M64 126.8h0M64.4 126.8h0M64.8 126.8h0M67.2 126.8h0M67.6 126.8h0M68 126.8h0M68.4 126.8h0M68.8 126.8h0M69.2 126.8h0M69.6 126.8h0M70 126.8h0M70.4 126.8h0M70.8 126.8h0M71.2 126.8h0M71.6 126.8h0M72 126.8h0M72.4 126.8h0M72.8 126.8h0M73.2 126.8h0M73.6 126.8h0M74.4 126.8h0M75.2 126.8h0M75.6 126.8h0M76 126.8h0M76.4 126.8h0M76.8 126.8h0M77.2 126.8h0M77.6 126.8h0M78 126.8h0M78.4 126.8h0M78.8 126.8h0M79.2 126.8h0M79.6 126.8h0M80 126.8h0M80.4 126.8h0M80.8 126.8h0M81.2 126.8h0M81.6 126.8h0M82 126.8h0M82.4 126.8h0M82.8 126.8h0M83.2 126.8h0M83.6 126.8h0M84 126.8h0M84.4 126.8h0M84.8 126.8h0M85.2 126.8h0M85.6 126.8h0M86.4 126.8h0M86.8 126.8h0M57.2 127.2h0M66 127.2h0M66.4 127.2h0M66.8 127.2h0M67.2 127.2h0M67.6 127.2h0M68.4 127.2h0M68.8 127.2h0M69.2 127.2h0M69.6 127.2h0M70 127.2h0M70.4 127.2h0M70.8 127.2h0M71.2 127.2h0M71.6 127.2h0M72 127.2h0M72.4 127.2h0M72.8 127.2h0M73.2 127.2h0M73.6 127.2h0M74.4 127.2h0M74.8 127.2h0M75.2 127.2h0M75.6 127.2h0M76 127.2h0M76.4 127.2h0M76.8 127.2h0M77.2 127.2h0M77.6 127.2h0M78 127.2h0M78.4 127.2h0M78.8 127.2h0M79.2 127.2h0M79.6 127.2h0M80 127.2h0M80.4 127.2h0M80.8 127.2h0M81.2 127.2h0M81.6 127.2h0M82 127.2h0M82.4 127.2h0M82.8 127.2h0M83.2 127.2h0M83.6 127.2h0M84 127.2h0M84.4 127.2h0M84.8 127.2h0M86 127.2h0M87.2 127.2h0M63.6 127.6h0M64.4 127.6h0M66 127.6h0M67.2 127.6h0M67.6 127.6h0M68 127.6h0M68.4 127.6h0M68.8 127.6h0M69.2 127.6h0M69.6 127.6h0M70 127.6h0M70.4 127.6h0M70.8 127.6h0M71.2 127.6h0M71.6 127.6h0M72 127.6h0M72.4 127.6h0M72.8 127.6h0M73.2 127.6h0M73.6 127.6h0M74 127.6h0M74.8 127.6h0M75.2 127.6h0M75.6 127.6h0M76 127.6h0M76.4 127.6h0M76.8 127.6h0M77.2 127.6h0M77.6 127.6h0M78 127.6h0M78.4 127.6h0M78.8 127.6h0M79.2 127.6h0M79.6 127.6h0M80 127.6h0M80.4 127.6h0M80.8 127.6h0M81.2 127.6h0M81.6 127.6h0M82 127.6h0M82.4 127.6h0M82.8 127.6h0M83.2 127.6h0M84 127.6h0M84.4 127.6h0M88.4 127.6h0M89.6 127.6h0M61.2 128h0M64.8 128h0M65.2 128h0M66.4 128h0M66.8 128h0M67.6 128h0M68.4 128h0M69.2 128h0M70 128h0M70.4 128h0M70.8 128h0M71.2 128h0M71.6 128h0M72 128h0M72.4 128h0M72.8 128h0M73.2 128h0M73.6 128h0M74 128h0M74.4 128h0M75.2 128h0M75.6 128h0M76 128h0M76.4 128h0M76.8 128h0M77.2 128h0M77.6 128h0M78 128h0M78.4 128h0M78.8 128h0M79.2 128h0M79.6 128h0M80 128h0M80.4 128h0M80.8 128h0M81.2 128h0M81.6 128h0M82 128h0M82.4 128h0M82.8 128h0M83.2 128h0M83.6 128h0M84 128h0M84.8 128h0M86.8 128h0M87.6 128h0M91.6 128h0M93.6 128h0M61.2 128.4h0M62.8 128.4h0M64.4 128.4h0M64.8 128.4h0M65.2 128.4h0M66.4 128.4h0M66.8 128.4h0M67.2 128.4h0M67.6 128.4h0M68 128.4h0M68.4 128.4h0M69.2 128.4h0M69.6 128.4h0M70 128.4h0M70.4 128.4h0M70.8 128.4h0M71.2 128.4h0M71.6 128.4h0M72 128.4h0M72.4 128.4h0M72.8 128.4h0M73.2 128.4h0M73.6 128.4h0M74 128.4h0M74.4 128.4h0M74.8 128.4h0M75.2 128.4h0M75.6 128.4h0M76 128.4h0M76.4 128.4h0M76.8 128.4h0M77.2 128.4h0M77.6 128.4h0M78 128.4h0M78.4 128.4h0M78.8 128.4h0M79.2 128.4h0M79.6 128.4h0M80 128.4h0M80.4 128.4h0M80.8 128.4h0M81.2 128.4h0M81.6 128.4h0M82.4 128.4h0M82.8 128.4h0M83.2 128.4h0M83.6 128.4h0M84 128.4h0M84.4 128.4h0M86.8 128.4h0M88.8 128.4h0M89.2 128.4h0M64.4 128.8h0M66 128.8h0M66.4 128.8h0M66.8 128.8h0M67.6 128.8h0M68 128.8h0M68.8 128.8h0M69.2 128.8h0M69.6 128.8h0M70 128.8h0M70.4 128.8h0M70.8 128.8h0M71.2 128.8h0M71.6 128.8h0M72 128.8h0M72.4 128.8h0M72.8 128.8h0M73.2 128.8h0M73.6 128.8h0M74 128.8h0M75.2 128.8h0M75.6 128.8h0M76 128.8h0M76.4 128.8h0M76.8 128.8h0M77.2 128.8h0M77.6 128.8h0M78 128.8h0M78.4 128.8h0M78.8 128.8h0M79.2 128.8h0M79.6 128.8h0M80 128.8h0M80.4 128.8h0M80.8 128.8h0M81.2 128.8h0M81.6 128.8h0M82.4 128.8h0M83.2 128.8h0M83.6 128.8h0M84 128.8h0M84.8 128.8h0M85.2 128.8h0M96 128.8h0M103.2 128.8h0M62.4 129.2h0M64.4 129.2h0M65.2 129.2h0M65.6 129.2h0M66.8 129.2h0M67.6 129.2h0M68 129.2h0M68.4 129.2h0M68.8 129.2h0M69.2 129.2h0M69.6 129.2h0M70 129.2h0M70.4 129.2h0M70.8 129.2h0M71.2 129.2h0M71.6 129.2h0M72 129.2h0M72.4 129.2h0M72.8 129.2h0M73.2 129.2h0M73.6 129.2h0M74.4 129.2h0M74.8 129.2h0M75.2 129.2h0M75.6 129.2h0M76 129.2h0M76.4 129.2h0M76.8 129.2h0M77.2 129.2h0M77.6 129.2h0M78 129.2h0M78.4 129.2h0M78.8 129.2h0M79.2 129.2h0M79.6 129.2h0M80 129.2h0M80.4 129.2h0M80.8 129.2h0M81.2 129.2h0M81.6 129.2h0M82 129.2h0M82.4 129.2h0M82.8 129.2h0M83.2 129.2h0M83.6 129.2h0M85.2 129.2h0M88 129.2h0M90 129.2h0M62.4 129.6h0M66.4 129.6h0M66.8 129.6h0M67.2 129.6h0M67.6 129.6h0M68 129.6h0M68.4 129.6h0M69.2 129.6h0M69.6 129.6h0M70 129.6h0M70.4 129.6h0M70.8 129.6h0M71.2 129.6h0M71.6 129.6h0M72 129.6h0M72.4 129.6h0M72.8 129.6h0M73.2 129.6h0M73.6 129.6h0M74 129.6h0M74.4 129.6h0M74.8 129.6h0M75.2 129.6h0M75.6 129.6h0M76 129.6h0M76.4 129.6h0M76.8 129.6h0M77.2 129.6h0M77.6 129.6h0M78 129.6h0M78.4 129.6h0M78.8 129.6h0M79.2 129.6h0M79.6 129.6h0M80 129.6h0M80.4 129.6h0M80.8 129.6h0M81.2 129.6h0M81.6 129.6h0M82 129.6h0M82.8 129.6h0M83.6 129.6h0M84 129.6h0M84.4 129.6h0M84.8 129.6h0M85.6 129.6h0M65.2 130h0M66.8 130h0M67.2 130h0M67.6 130h0M68 130h0M68.4 130h0M68.8 130h0M69.2 130h0M69.6 130h0M70 130h0M70.4 130h0M70.8 130h0M71.2 130h0M71.6 130h0M72 130h0M72.4 130h0M72.8 130h0M73.2 130h0M73.6 130h0M74 130h0M74.4 130h0M74.8 130h0M75.2 130h0M75.6 130h0M76 130h0M76.4 130h0M76.8 130h0M77.2 130h0M77.6 130h0M78 130h0M78.4 130h0M78.8 130h0M79.2 130h0M79.6 130h0M80 130h0M80.4 130h0M80.8 130h0M81.2 130h0M81.6 130h0M82 130h0M82.4 130h0M82.8 130h0M83.2 130h0M83.6 130h0M84.4 130h0M85.6 130h0M87.2 130h0M93.2 130h0M63.2 130.4h0M63.6 130.4h0M65.6 130.4h0M66 130.4h0M67.6 130.4h0M68 130.4h0M68.4 130.4h0M68.8 130.4h0M69.2 130.4h0M69.6 130.4h0M70 130.4h0M70.4 130.4h0M70.8 130.4h0M71.2 130.4h0M71.6 130.4h0M72 130.4h0M72.4 130.4h0M72.8 130.4h0M73.2 130.4h0M73.6 130.4h0M74 130.4h0M74.4 130.4h0M74.8 130.4h0M75.2 130.4h0M75.6 130.4h0M76 130.4h0M76.4 130.4h0M76.8 130.4h0M77.2 130.4h0M77.6 130.4h0M78 130.4h0M78.4 130.4h0M78.8 130.4h0M79.2 130.4h0M79.6 130.4h0M80 130.4h0M80.4 130.4h0M80.8 130.4h0M81.2 130.4h0M81.6 130.4h0M82 130.4h0M82.4 130.4h0M83.2 130.4h0M83.6 130.4h0M84 130.4h0M86 130.4h0M66.8 130.8h0M67.2 130.8h0M67.6 130.8h0M68 130.8h0M68.4 130.8h0M68.8 130.8h0M69.2 130.8h0M69.6 130.8h0M70 130.8h0M70.4 130.8h0M70.8 130.8h0M71.2 130.8h0M71.6 130.8h0M72 130.8h0M72.4 130.8h0M72.8 130.8h0M73.2 130.8h0M73.6 130.8h0M74.4 130.8h0M74.8 130.8h0M75.2 130.8h0M75.6 130.8h0M76 130.8h0M76.4 130.8h0M76.8 130.8h0M77.2 130.8h0M77.6 130.8h0M78 130.8h0M78.4 130.8h0M78.8 130.8h0M79.2 130.8h0M79.6 130.8h0M80 130.8h0M80.4 130.8h0M80.8 130.8h0M81.2 130.8h0M81.6 130.8h0M82 130.8h0M82.8 130.8h0M83.2 130.8h0M83.6 130.8h0M84.4 130.8h0M85.6 130.8h0M86.4 130.8h0M87.2 130.8h0M87.6 130.8h0M88.4 130.8h0M66.4 131.2h0M67.6 131.2h0M68.4 131.2h0M68.8 131.2h0M69.2 131.2h0M69.6 131.2h0M70 131.2h0M70.4 131.2h0M70.8 131.2h0M71.2 131.2h0M71.6 131.2h0M72 131.2h0M72.4 131.2h0M72.8 131.2h0M73.2 131.2h0M73.6 131.2h0M74 131.2h0M74.4 131.2h0M74.8 131.2h0M75.2 131.2h0M75.6 131.2h0M76 131.2h0M76.4 131.2h0M76.8 131.2h0M77.2 131.2h0M77.6 131.2h0M78 131.2h0M78.4 131.2h0M78.8 131.2h0M79.2 131.2h0M79.6 131.2h0M80 131.2h0M80.4 131.2h0M80.8 131.2h0M81.2 131.2h0M81.6 131.2h0M82 131.2h0M82.8 131.2h0M83.2 131.2h0M83.6 131.2h0M84 131.2h0M84.8 131.2h0M89.2 131.2h0M67.6 131.6h0M68 131.6h0M68.4 131.6h0M68.8 131.6h0M69.6 131.6h0M70 131.6h0M70.4 131.6h0M70.8 131.6h0M71.2 131.6h0M71.6 131.6h0M72 131.6h0M72.4 131.6h0M72.8 131.6h0M73.2 131.6h0M73.6 131.6h0M74.4 131.6h0M74.8 131.6h0M75.2 131.6h0M75.6 131.6h0M76 131.6h0M76.4 131.6h0M76.8 131.6h0M77.2 131.6h0M77.6 131.6h0M78 131.6h0M78.4 131.6h0M78.8 131.6h0M79.2 131.6h0M79.6 131.6h0M80 131.6h0M80.4 131.6h0M80.8 131.6h0M81.2 131.6h0M81.6 131.6h0M82 131.6h0M84 131.6h0M68.4 132h0M68.8 132h0M69.2 132h0M69.6 132h0M70 132h0M70.4 132h0M70.8 132h0M71.2 132h0M71.6 132h0M72 132h0M72.4 132h0M72.8 132h0M73.2 132h0M73.6 132h0M74 132h0M74.4 132h0M74.8 132h0M75.2 132h0M75.6 132h0M76 132h0M76.4 132h0M76.8 132h0M77.2 132h0M77.6 132h0M78 132h0M78.4 132h0M78.8 132h0M79.2 132h0M79.6 132h0M80 132h0M80.4 132h0M80.8 132h0M81.2 132h0M81.6 132h0M82 132h0M82.4 132h0M83.6 132h0M84.4 132h0M94 132h0M67.2 132.4h0M67.6 132.4h0M68.8 132.4h0M69.2 132.4h0M69.6 132.4h0M70 132.4h0M70.4 132.4h0M70.8 132.4h0M71.2 132.4h0M71.6 132.4h0M72 132.4h0M72.4 132.4h0M72.8 132.4h0M73.2 132.4h0M73.6 132.4h0M74 132.4h0M74.4 132.4h0M74.8 132.4h0M75.2 132.4h0M75.6 132.4h0M76 132.4h0M76.4 132.4h0M76.8 132.4h0M77.2 132.4h0M77.6 132.4h0M78 132.4h0M78.4 132.4h0M78.8 132.4h0M79.2 132.4h0M79.6 132.4h0M80 132.4h0M80.4 132.4h0M80.8 132.4h0M81.2 132.4h0M81.6 132.4h0M82 132.4h0M82.4 132.4h0M82.8 132.4h0M84 132.4h0M85.2 132.4h0M93.2 132.4h0M64.4 132.8h0M66 132.8h0M67.2 132.8h0M67.6 132.8h0M68.4 132.8h0M69.2 132.8h0M69.6 132.8h0M70 132.8h0M70.4 132.8h0M70.8 132.8h0M71.2 132.8h0M71.6 132.8h0M72 132.8h0M72.4 132.8h0M72.8 132.8h0M73.2 132.8h0M73.6 132.8h0M74 132.8h0M74.4 132.8h0M74.8 132.8h0M75.2 132.8h0M75.6 132.8h0M76 132.8h0M76.4 132.8h0M76.8 132.8h0M77.2 132.8h0M77.6 132.8h0M78 132.8h0M78.4 132.8h0M78.8 132.8h0M79.2 132.8h0M79.6 132.8h0M80 132.8h0M80.4 132.8h0M80.8 132.8h0M81.6 132.8h0M82 132.8h0M82.8 132.8h0M84 132.8h0M84.4 132.8h0M66 133.2h0M67.6 133.2h0M68 133.2h0M68.4 133.2h0M68.8 133.2h0M69.2 133.2h0M69.6 133.2h0M70 133.2h0M70.4 133.2h0M70.8 133.2h0M71.2 133.2h0M71.6 133.2h0M72 133.2h0M72.4 133.2h0M72.8 133.2h0M73.2 133.2h0M73.6 133.2h0M74.8 133.2h0M75.2 133.2h0M75.6 133.2h0M76 133.2h0M76.4 133.2h0M76.8 133.2h0M77.2 133.2h0M77.6 133.2h0M78 133.2h0M78.4 133.2h0M78.8 133.2h0M79.2 133.2h0M79.6 133.2h0M80 133.2h0M80.4 133.2h0M80.8 133.2h0M81.2 133.2h0M81.6 133.2h0M82.4 133.2h0M82.8 133.2h0M87.2 133.2h0M67.6 133.6h0M68.8 133.6h0M69.2 133.6h0M69.6 133.6h0M70 133.6h0M70.4 133.6h0M70.8 133.6h0M71.2 133.6h0M71.6 133.6h0M72 133.6h0M72.4 133.6h0M72.8 133.6h0M73.2 133.6h0M73.6 133.6h0M74.4 133.6h0M74.8 133.6h0M75.2 133.6h0M75.6 133.6h0M76 133.6h0M76.4 133.6h0M76.8 133.6h0M77.2 133.6h0M77.6 133.6h0M78 133.6h0M78.4 133.6h0M78.8 133.6h0M79.2 133.6h0M80 133.6h0M80.4 133.6h0M81.2 133.6h0M81.6 133.6h0M82.4 133.6h0M82.8 133.6h0M89.6 133.6h0M67.2 134h0M68 134h0M68.8 134h0M69.2 134h0M69.6 134h0M70 134h0M70.4 134h0M70.8 134h0M71.2 134h0M71.6 134h0M72 134h0M72.4 134h0M72.8 134h0M73.2 134h0M73.6 134h0M74 134h0M74.4 134h0M74.8 134h0M75.2 134h0M75.6 134h0M76 134h0M76.4 134h0M76.8 134h0M77.2 134h0M77.6 134h0M78 134h0M78.4 134h0M78.8 134h0M79.2 134h0M79.6 134h0M80 134h0M80.4 134h0M81.2 134h0M81.6 134h0M82 134h0M84.8 134h0M68 134.4h0M68.8 134.4h0M69.2 134.4h0M70.4 134.4h0M70.8 134.4h0M71.2 134.4h0M71.6 134.4h0M72 134.4h0M72.4 134.4h0M72.8 134.4h0M73.2 134.4h0M73.6 134.4h0M74 134.4h0M74.4 134.4h0M74.8 134.4h0M75.2 134.4h0M75.6 134.4h0M76 134.4h0M76.4 134.4h0M76.8 134.4h0M77.2 134.4h0M77.6 134.4h0M78 134.4h0M78.4 134.4h0M78.8 134.4h0M79.2 134.4h0M79.6 134.4h0M80 134.4h0M80.4 134.4h0M81.6 134.4h0M67.6 134.8h0M69.6 134.8h0M70 134.8h0M70.4 134.8h0M70.8 134.8h0M71.2 134.8h0M71.6 134.8h0M72 134.8h0M72.4 134.8h0M72.8 134.8h0M73.2 134.8h0M73.6 134.8h0M74 134.8h0M74.4 134.8h0M74.8 134.8h0M75.2 134.8h0M75.6 134.8h0M76 134.8h0M76.4 134.8h0M76.8 134.8h0M77.2 134.8h0M77.6 134.8h0M78 134.8h0M78.4 134.8h0M78.8 134.8h0M79.2 134.8h0M79.6 134.8h0M80.4 134.8h0M81.2 134.8h0M81.6 134.8h0M82.4 134.8h0M69.2 135.2h0M69.6 135.2h0M70 135.2h0M70.4 135.2h0M70.8 135.2h0M71.2 135.2h0M71.6 135.2h0M72 135.2h0M72.4 135.2h0M72.8 135.2h0M73.2 135.2h0M73.6 135.2h0M74 135.2h0M74.4 135.2h0M74.8 135.2h0M75.2 135.2h0M75.6 135.2h0M76 135.2h0M76.4 135.2h0M76.8 135.2h0M77.2 135.2h0M77.6 135.2h0M78 135.2h0M78.4 135.2h0M78.8 135.2h0M79.2 135.2h0M80 135.2h0M80.4 135.2h0M80.8 135.2h0M81.2 135.2h0M84.8 135.2h0M69.6 135.6h0M70 135.6h0M70.4 135.6h0M70.8 135.6h0M71.2 135.6h0M71.6 135.6h0M72 135.6h0M72.4 135.6h0M72.8 135.6h0M73.2 135.6h0M73.6 135.6h0M74 135.6h0M74.4 135.6h0M74.8 135.6h0M75.2 135.6h0M75.6 135.6h0M76 135.6h0M76.4 135.6h0M76.8 135.6h0M77.2 135.6h0M77.6 135.6h0M78 135.6h0M78.4 135.6h0M78.8 135.6h0M79.2 135.6h0M79.6 135.6h0M80.8 135.6h0M81.2 135.6h0M82.4 135.6h0M69.6 136h0M70 136h0M70.4 136h0M70.8 136h0M71.2 136h0M71.6 136h0M72 136h0M72.4 136h0M72.8 136h0M73.2 136h0M73.6 136h0M74 136h0M74.4 136h0M74.8 136h0M75.2 136h0M75.6 136h0M76 136h0M76.4 136h0M76.8 136h0M77.2 136h0M77.6 136h0M78 136h0M78.4 136h0M78.8 136h0M79.2 136h0M80 136h0M80.4 136h0M67.6 136.4h0M70 136.4h0M70.4 136.4h0M70.8 136.4h0M71.2 136.4h0M71.6 136.4h0M72 136.4h0M72.4 136.4h0M72.8 136.4h0M73.2 136.4h0M73.6 136.4h0M74 136.4h0M74.4 136.4h0M74.8 136.4h0M75.2 136.4h0M75.6 136.4h0M76 136.4h0M76.4 136.4h0M76.8 136.4h0M77.2 136.4h0M77.6 136.4h0M78 136.4h0M78.4 136.4h0M79.2 136.4h0M79.6 136.4h0M80 136.4h0M70 136.8h0M70.4 136.8h0M70.8 136.8h0M71.2 136.8h0M71.6 136.8h0M72 136.8h0M72.4 136.8h0M72.8 136.8h0M73.2 136.8h0M73.6 136.8h0M74 136.8h0M74.4 136.8h0M74.8 136.8h0M75.2 136.8h0M75.6 136.8h0M76 136.8h0M76.4 136.8h0M76.8 136.8h0M77.2 136.8h0M77.6 136.8h0M78 136.8h0M78.4 136.8h0M79.2 136.8h0M79.6 136.8h0M82.4 136.8h0M70 137.2h0M70.4 137.2h0M70.8 137.2h0M71.2 137.2h0M72 137.2h0M72.4 137.2h0M72.8 137.2h0M73.2 137.2h0M73.6 137.2h0M74 137.2h0M74.4 137.2h0M74.8 137.2h0M75.2 137.2h0M75.6 137.2h0M76 137.2h0M76.4 137.2h0M76.8 137.2h0M77.2 137.2h0M77.6 137.2h0M78 137.2h0M78.8 137.2h0M79.2 137.2h0M79.6 137.2h0M80 137.2h0M69.6 137.6h0M70.4 137.6h0M70.8 137.6h0M71.6 137.6h0M72 137.6h0M72.4 137.6h0M72.8 137.6h0M73.2 137.6h0M73.6 137.6h0M74 137.6h0M74.4 137.6h0M74.8 137.6h0M75.2 137.6h0M75.6 137.6h0M76 137.6h0M76.4 137.6h0M76.8 137.6h0M77.2 137.6h0M77.6 137.6h0M78 137.6h0M78.4 137.6h0M78.8 137.6h0M79.6 137.6h0M80 137.6h0M70.4 138h0M70.8 138h0M71.2 138h0M71.6 138h0M72 138h0M72.4 138h0M72.8 138h0M73.2 138h0M73.6 138h0M74 138h0M74.4 138h0M74.8 138h0M75.2 138h0M75.6 138h0M76 138h0M76.4 138h0M76.8 138h0M77.2 138h0M77.6 138h0M78.4 138h0M78.8 138h0M79.2 138h0M79.6 138h0M69.2 138.4h0M70.4 138.4h0M70.8 138.4h0M71.2 138.4h0M71.6 138.4h0M72 138.4h0M72.4 138.4h0M72.8 138.4h0M73.2 138.4h0M73.6 138.4h0M74 138.4h0M74.4 138.4h0M74.8 138.4h0M75.2 138.4h0M75.6 138.4h0M76 138.4h0M76.4 138.4h0M77.2 138.4h0M78 138.4h0M78.4 138.4h0M78.8 138.4h0M79.2 138.4h0M71.2 138.8h0M71.6 138.8h0M72 138.8h0M72.4 138.8h0M72.8 138.8h0M73.2 138.8h0M73.6 138.8h0M74 138.8h0M74.4 138.8h0M74.8 138.8h0M75.2 138.8h0M75.6 138.8h0M76 138.8h0M76.4 138.8h0M76.8 138.8h0M77.6 138.8h0M78.4 138.8h0M79.2 138.8h0M71.2 139.2h0M72 139.2h0M72.8 139.2h0M73.2 139.2h0M73.6 139.2h0M74 139.2h0M74.4 139.2h0M74.8 139.2h0M75.2 139.2h0M75.6 139.2h0M76 139.2h0M76.4 139.2h0M76.8 139.2h0M77.2 139.2h0M77.6 139.2h0M78.8 139.2h0M71.2 139.6h0M71.6 139.6h0M72.8 139.6h0M73.2 139.6h0M73.6 139.6h0M74 139.6h0M74.4 139.6h0M74.8 139.6h0M75.2 139.6h0M75.6 139.6h0M76 139.6h0M76.8 139.6h0M77.2 139.6h0M77.6 139.6h0M78 139.6h0M78.4 139.6h0M72 140h0M72.4 140h0M73.6 140h0M74 140h0M74.4 140h0M74.8 140h0M75.2 140h0M75.6 140h0M76 140h0M76.4 140h0M77.2 140h0M77.6 140h0M71.6 140.4h0M72 140.4h0M73.6 140.4h0M74 140.4h0M74.4 140.4h0M74.8 140.4h0M75.2 140.4h0M76 140.4h0M76.4 140.4h0M76.8 140.4h0M78 140.4h0M72.4 140.8h0M73.6 140.8h0M74.4 140.8h0M76.8 140.8h0" stroke="#b2b2b2" stroke-width="1.0" stroke-linecap="round" fill="none"/>
<path d="M65.2 31.2h0M66.8 53.6h0M66 65.2h0M62.4 74h0M57.2 74.8h0M63.6 74.8h0M62.8 84h0M67.6 85.6h0M57.2 86h0M66.8 86.4h0M64.8 87.6h0M65.6 87.6h0M67.6 87.6h0M61.6 88h0M67.2 89.2h0M59.6 92.4h0M62.4 92.4h0M59.2 93.6h0M62 93.6h0M66 93.6h0M64 94h0M64.4 94h0M62.4 94.4h0M66 95.2h0M67.6 95.6h0M65.6 96h0M66.8 96h0M62.4 96.4h0M66.8 96.4h0M60.4 97.2h0M66.8 97.6h0M65.6 98h0M62.8 98.4h0M64.8 98.4h0M65.6 98.4h0M66 98.4h0M64.8 99.6h0M65.2 99.6h0M61.6 100h0M66 100h0M61.2 100.4h0M64 100.4h0M63.6 100.8h0M66 100.8h0M66.4 100.8h0M67.2 100.8h0M67.6 100.8h0M65.2 101.2h0M66 101.2h0M65.2 101.6h0M67.2 101.6h0M62.4 102h0M64.4 102h0M65.2 102h0M67.2 102h0M67.6 102h0M55.2 102.4h0M61.2 102.4h0M62.4 102.4h0M63.2 102.4h0M65.6 102.4h0M66 102.4h0M66.4 102.4h0M67.2 102.4h0M64.8 102.8h0M66.8 102.8h0M67.6 102.8h0M65.6 103.2h0M66 103.2h0M66.4 103.2h0M67.2 103.2h0M65.2 103.6h0M66 103.6h0M67.6 103.6h0M64 104h0M66.4 104h0M66.8 104h0M67.2 104h0M60.4 104.4h0M62.4 104.4h0M64 104.4h0M65.6 104.4h0M66 104.4h0M52.4 104.8h0M63.6 104.8h0M66.4 104.8h0M67.2 104.8h0M64 105.2h0M64.4 105.2h0M65.2 105.2h0M66 105.2h0M66.8 105.2h0M67.6 105.2h0M65.6 105.6h0M67.2 105.6h0M66.8 106h0M67.2 106h0M59.2 106.4h0M64.4 106.4h0M64.8 106.4h0M65.2 106.4h0M65.6 106.4h0M66.8 106.4h0M67.2 106.4h0M67.6 106.4h0M62 106.8h0M62.8 106.8h0M66 106.8h0M66.8 106.8h0M60 107.2h0M61.6 107.2h0M62 107.2h0M64 107.2h0M65.6 107.2h0M66 107.2h0M67.2 107.2h0M60 107.6h0M60.4 107.6h0M65.2 107.6h0M65.6 107.6h0M60 108h0M63.6 108h0M65.2 108h0M66 108h0M64.8 108.4h0M65.6 108.4h0M66.4 108.4h0M67.2 108.4h0M67.6 108.4h0M58.4 108.8h0M61.2 108.8h0M62.4 108.8h0M66.4 108.8h0M67.2 108.8h0M59.2 109.2h0M60 109.2h0M62.8 109.2h0M64.8 109.2h0M65.6 109.2h0M66 109.2h0M66.4 109.2h0M67.2 109.2h0M46.4 109.6h0M62.4 109.6h0M65.6 109.6h0M66 109.6h0M67.2 109.6h0M62.4 110h0M66.4 110h0M66.8 110h0M67.2 110h0M62.8 110.4h0M64 110.4h0M66 110.4h0M66.4 110.4h0M67.6 110.4h0M59.6 110.8h0M60 110.8h0M60.4 110.8h0M61.6 110.8h0M62.8 110.8h0M63.2 110.8h0M64.8 110.8h0M65.2 110.8h0M65.6 110.8h0M66.8 110.8h0M67.6 110.8h0M56.4 111.2h0M61.6 111.2h0M62.8 111.2h0M64.4 111.2h0M65.6 111.2h0M66 111.2h0M66.8 111.2h0M67.2 111.2h0M61.6 111.6h0M62.4 111.6h0M64 111.6h0M64.8 111.6h0M65.6 111.6h0M66.4 111.6h0M67.6 111.6h0M60.8 112h0M61.6 112h0M64.4 112h0M64.8 112h0M65.2 112h0M65.6 112h0M66 112h0M66.8 112h0M67.6 112h0M59.6 112.4h0M60 112.4h0M62.8 112.4h0M63.2 112.4h0M64.4 112.4h0M64.8 112.4h0M66.4 112.4h0M66.8 112.4h0M67.6 112.4h0M55.6 112.8h0M58 112.8h0M63.2 112.8h0M63.6 112.8h0M65.6 112.8h0M66 112.8h0M66.4 112.8h0M66.8 112.8h0M67.2 112.8h0M60.8 113.2h0M62 113.2h0M63.6 113.2h0M64 113.2h0M64.8 113.2h0M65.6 113.2h0M66 113.2h0M66.4 113.2h0M66.8 113.2h0M67.6 113.2h0M54.8 113.6h0M61.2 113.6h0M62 113.6h0M62.4 113.6h0M64 113.6h0M66.4 113.6h0M67.2 113.6h0M58 114h0M60.4 114h0M61.6 114h0M62 114h0M62.4 114h0M62.8 114h0M63.6 114h0M64 114h0M65.6 114h0M66 114h0M66.8 114h0M67.6 114h0M59.2 114.4h0M62.8 114.4h0M63.2 114.4h0M64 114.4h0M64.4 114.4h0M64.8 114.4h0M66 114.4h0M56.4 114.8h0M58 114.8h0M60 114.8h0M61.2 114.8h0M62 114.8h0M64.8 114.8h0M66 114.8h0M66.4 114.8h0M66.8 114.8h0M67.2 114.8h0M67.6 114.8h0M57.6 115.2h0M59.6 115.2h0M61.2 115.2h0M62.8 115.2h0M63.2 115.2h0M63.6 115.2h0M64 115.2h0M64.8 115.2h0M65.2 115.2h0M65.6 115.2h0M66 115.2h0M66.4 115.2h0M67.2 115.2h0M67.6 115.2h0M55.6 115.6h0M60.8 115.6h0M62.4 115.6h0M62.8 115.6h0M63.2 115.6h0M63.6 115.6h0M64.8 115.6h0M65.2 115.6h0M65.6 115.6h0M66.4 115.6h0M66.8 115.6h0M67.6 115.6h0M60 116h0M62.8 116h0M63.2 116h0M63.6 116h0M64.8 116h0M65.6 116h0M66 116h0M66.4 116h0M66.8 116h0M67.2 116h0M67.6 116h0M57.6 116.4h0M60.8 116.4h0M62 116.4h0M62.4 116.4h0M63.2 116.4h0M63.6 116.4h0M64.4 116.4h0M66 116.4h0M66.4 116.4h0M66.8 116.4h0M67.2 116.4h0M67.6 116.4h0M60 116.8h0M62.4 116.8h0M64 116.8h0M64.4 116.8h0M64.8 116.8h0M65.2 116.8h0M66 116.8h0M66.8 116.8h0M67.6 116.8h0M59.2 117.2h0M61.6 117.2h0M64.4 117.2h0M65.2 117.2h0M65.6 117.2h0M66.4 117.2h0M66.8 117.2h0M67.2 117.2h0M67.6 117.2h0M53.6 117.6h0M56.4 117.6h0M61.2 117.6h0M63.2 117.6h0M64.4 117.6h0M65.2 117.6h0M65.6 117.6h0M66 117.6h0M66.8 117.6h0M67.2 117.6h0M67.6 117.6h0M57.2 118h0M61.2 118h0M62.4 118h0M62.8 118h0M64 118h0M64.4 118h0M64.8 118h0M65.2 118h0M65.6 118h0M66.8 118h0M67.2 118h0M67.6 118h0M60.8 118.4h0M62 118.4h0M64.4 118.4h0M64.8 118.4h0M65.2 118.4h0M66 118.4h0M66.4 118.4h0M66.8 118.4h0M67.2 118.4h0M67.6 118.4h0M52.8 118.8h0M54 118.8h0M60.8 118.8h0M62 118.8h0M62.4 118.8h0M62.8 118.8h0M63.2 118.8h0M64.4 118.8h0M64.8 118.8h0M66 118.8h0M66.4 118.8h0M66.8 118.8h0M67.2 118.8h0M67.6 118.8h0M62.4 119.2h0M64 119.2h0M64.4 119.2h0M65.2 119.2h0M65.6 119.2h0M66.4 119.2h0M66.8 119.2h0M67.2 119.2h0M67.6 119.2h0" stroke="#4848a8" stroke-width="1.0" stroke-linecap="round" fill="none"/>
<path d="M90 60h0M82.8 62.4h0M87.6 70h0M83.2 72.4h0M96 73.2h0M100.8 73.2h0M82.8 74.4h0M92.4 76.4h0M84 76.8h0M95.2 76.8h0M83.2 77.6h0M95.6 78.4h0M92 78.8h0M87.2 79.6h0M91.2 81.2h0M92.4 82h0M89.6 82.8h0M88.8 85.2h0M92.4 85.6h0M87.2 86h0M90.4 86.4h0M91.2 86.8h0M110.8 86.8h0M82.4 87.2h0M86.4 87.2h0M88.8 88.4h0M91.2 88.4h0M104.8 88.4h0M86 88.8h0M100.4 88.8h0M87.2 89.2h0M91.6 89.2h0M94.4 89.2h0M98 89.6h0M102 89.6h0M104 89.6h0M105.6 89.6h0M83.6 90h0M91.2 90h0M92 90h0M86 90.4h0M87.2 90.4h0M89.6 90.4h0M81.6 90.8h0M88 90.8h0M90.8 90.8h0M84 91.2h0M86 91.2h0M100 91.2h0M87.2 91.6h0M89.6 91.6h0M101.6 92h0M88.8 92.4h0M90.4 92.4h0M92 92.4h0M92.4 92.4h0M82 92.8h0M83.2 92.8h0M94.4 92.8h0M95.2 92.8h0M84.8 93.2h0M91.2 93.2h0M92 93.2h0M81.2 93.6h0M82.4 93.6h0M85.2 93.6h0M88.4 93.6h0M88.8 93.6h0M90.8 93.6h0M84 94h0M85.2 94h0M84.8 94.4h0M91.6 94.4h0M98 94.4h0M82.8 94.8h0M87.6 94.8h0M92 94.8h0M93.2 94.8h0M94 94.8h0M81.6 96h0M84 96h0M85.2 96h0M83.6 96.4h0M84 96.4h0M85.6 96.4h0M100.4 96.4h0M81.6 96.8h0M87.6 96.8h0M89.6 96.8h0M93.2 96.8h0M81.2 97.2h0M84.4 97.2h0M90.8 97.2h0M99.2 97.2h0M82 97.6h0M86.4 97.6h0M81.2 98h0M82.4 98h0M90 98h0M98.4 98h0M98.8 98h0M83.2 98.4h0M92.8 98.4h0M99.2 98.4h0M102.8 98.4h0M84.4 98.8h0M88 98.8h0M92 98.8h0M82.8 99.2h0M92.8 99.2h0M95.6 99.2h0M82 99.6h0M102.4 99.6h0M86.4 100h0M88 100h0M94.4 100h0M94.8 100h0M97.2 100h0M98.4 100h0M83.6 100.4h0M84 100.4h0M89.6 100.4h0M91.2 100.4h0M91.6 100.4h0M94.4 100.4h0M97.2 100.4h0M100.4 100.4h0M83.2 100.8h0M84.4 100.8h0M86 100.8h0M86.4 100.8h0M102 100.8h0M83.6 101.2h0M84.8 101.2h0M85.2 101.2h0M86 101.2h0M87.2 101.2h0M88.4 101.2h0M97.6 101.2h0M83.6 101.6h0M84 101.6h0M86 101.6h0M90.8 101.6h0M92.4 101.6h0M96 101.6h0M81.6 102h0M83.2 102h0M85.2 102h0M86 102h0M86.4 102h0M92.8 102h0M94 102h0M84.4 102.4h0M86.4 102.4h0M87.6 102.4h0M89.6 102.4h0M90.4 102.4h0M97.2 102.4h0M81.2 102.8h0M82.4 102.8h0M83.2 102.8h0M86.8 102.8h0M88.8 102.8h0M90 102.8h0M90.4 102.8h0M91.2 102.8h0M92 102.8h0M93.2 102.8h0M94.4 102.8h0M97.2 102.8h0M100.8 102.8h0M102 102.8h0M81.2 103.2h0M81.6 103.2h0M83.2 103.2h0M84.4 103.2h0M86 103.2h0M88.4 103.2h0M90 103.2h0M112 103.2h0M81.6 103.6h0M82 103.6h0M84.8 103.6h0M85.2 103.6h0M88.8 103.6h0M92.8 103.6h0M81.6 104h0M82.4 104h0M83.2 104h0M83.6 104h0M84.8 104h0M86 104h0M92 104h0M96.4 104h0M82.4 104.4h0M82.8 104.4h0M84.4 104.4h0M84.8 104.4h0M85.2 104.4h0M86 104.4h0M86.8 104.4h0M88.8 104.4h0M90.8 104.4h0M92.8 104.4h0M94.8 104.4h0M95.2 104.4h0M97.2 104.4h0M81.2 104.8h0M83.6 104.8h0M90.4 104.8h0M92.4 104.8h0M99.2 104.8h0M101.2 104.8h0M82 105.2h0M82.8 105.2h0M84.8 105.2h0M87.2 105.2h0M90 105.2h0M101.2 105.2h0M81.2 105.6h0M82.8 105.6h0M84.4 105.6h0M84.8 105.6h0M85.2 105.6h0M85.6 105.6h0M88.4 105.6h0M89.2 105.6h0M91.2 105.6h0M92 105.6h0M99.2 105.6h0M105.2 105.6h0M82.8 106h0M86.4 106h0M88 106h0M89.6 106h0M90 106h0M92.8 106h0M94.4 106h0M81.2 106.4h0M81.6 106.4h0M83.2 106.4h0M84.4 106.4h0M84.8 106.4h0M85.2 106.4h0M86.4 106.4h0M87.6 106.4h0M89.2 106.4h0M94.4 106.4h0M94.8 106.4h0M104.8 106.4h0M82.4 106.8h0M83.2 106.8h0M84 106.8h0M88.4 106.8h0M90.4 106.8h0M90.8 106.8h0M91.6 106.8h0M92 106.8h0M94.8 106.8h0M82 107.2h0M82.4 107.2h0M83.6 107.2h0M84 107.2h0M86.8 107.2h0M88.4 107.2h0M89.2 107.2h0M93.6 107.2h0M94 107.2h0M96.4 107.2h0M97.6 107.2h0M102 107.2h0M81.2 107.6h0M82.4 107.6h0M83.2 107.6h0M85.2 107.6h0M87.2 107.6h0M87.6 107.6h0M89.2 107.6h0M89.6 107.6h0M90 107.6h0M90.4 107.6h0M91.2 107.6h0M91.6 107.6h0M94 107.6h0M97.6 107.6h0M82.8 108h0M84.4 108h0M85.2 108h0M85.6 108h0M86.8 108h0M88 108h0M91.6 108h0M93.6 108h0M98.8 108h0M81.6 108.4h0M82 108.4h0M82.4 108.4h0M82.8 108.4h0M84.8 108.4h0M85.6 108.4h0M86 108.4h0M87.2 108.4h0M88.4 108.4h0M89.6 108.4h0M81.2 108.8h0M81.6 108.8h0M82.4 108.8h0M82.8 108.8h0M83.2 108.8h0M84.4 108.8h0M86.4 108.8h0M87.2 108.8h0M87.6 108.8h0M91.2 108.8h0M91.6 108.8h0M94 108.8h0M97.6 108.8h0M83.2 109.2h0M84.4 109.2h0M86.8 109.2h0M87.2 109.2h0M90.4 109.2h0M92.4 109.2h0M94 109.2h0M94.4 109.2h0M96.8 109.2h0M82.4 109.6h0M82.8 109.6h0M84.4 109.6h0M84.8 109.6h0M85.2 109.6h0M85.6 109.6h0M86 109.6h0M86.4 109.6h0M88 109.6h0M89.2 109.6h0M91.2 109.6h0M92 109.6h0M94.4 109.6h0M99.6 109.6h0M81.2 110h0M81.6 110h0M82 110h0M82.8 110h0M83.2 110h0M85.2 110h0M86.8 110h0M87.2 110h0M87.6 110h0M88 110h0M88.4 110h0M88.8 110h0M90 110h0M90.4 110h0M91.2 110h0M92.4 110h0M95.6 110h0M98.8 110h0M81.6 110.4h0M82 110.4h0M83.2 110.4h0M84.4 110.4h0M85.2 110.4h0M87.6 110.4h0M88 110.4h0M88.8 110.4h0M89.2 110.4h0M89.6 110.4h0M90.8 110.4h0M92 110.4h0M93.2 110.4h0M94 110.4h0M94.4 110.4h0M94.8 110.4h0M82.4 110.8h0M82.8 110.8h0M83.2 110.8h0M84 110.8h0M84.4 110.8h0M84.8 110.8h0M88 110.8h0M88.4 110.8h0M89.6 110.8h0M90.4 110.8h0M90.8 110.8h0M92 110.8h0M92.8 110.8h0M96.4 110.8h0M104 110.8h0M81.2 111.2h0M82.8 111.2h0M83.2 111.2h0M83.6 111.2h0M84.4 111.2h0M84.8 111.2h0M85.2 111.2h0M86.4 111.2h0M87.6 111.2h0M88.4 111.2h0M90.8 111.2h0M93.6 111.2h0M96.4 111.2h0M97.2 111.2h0M101.2 111.2h0M81.6 111.6h0M82.4 111.6h0M82.8 111.6h0M83.2 111.6h0M83.6 111.6h0M84 111.6h0M84.4 111.6h0M85.2 111.6h0M86 111.6h0M86.8 111.6h0M87.6 111.6h0M88 111.6h0M88.8 111.6h0M89.2 111.6h0M89.6 111.6h0M90.4 111.6h0M90.8 111.6h0M92.8 111.6h0M93.6 111.6h0M94.8 111.6h0M95.6 111.6h0M100.4 111.6h0M103.2 111.6h0M81.2 112h0M81.6 112h0M82 112h0M82.8 112h0M83.6 112h0M84 112h0M84.4 112h0M85.2 112h0M85.6 112h0M86 112h0M86.4 112h0M86.8 112h0M87.2 112h0M91.2 112h0M92.8 112h0M100.4 112h0M81.6 112.4h0M82 112.4h0M82.4 112.4h0M83.2 112.4h0M84.8 112.4h0M85.2 112.4h0M85.6 112.4h0M86 112.4h0M86.4 112.4h0M87.2 112.4h0M87.6 112.4h0M88 112.4h0M89.6 112.4h0M90.4 112.4h0M90.8 112.4h0M91.2 112.4h0M92.8 112.4h0M96.8 112.4h0M98 112.4h0M82 112.8h0M82.4 112.8h0M83.2 112.8h0M84 112.8h0M84.4 112.8h0M84.8 112.8h0M85.2 112.8h0M85.6 112.8h0M86 112.8h0M87.2 112.8h0M87.6 112.8h0M88 112.8h0M88.8 112.8h0M89.6 112.8h0M90 112.8h0M91.2 112.8h0M94 112.8h0M81.2 113.2h0M81.6 113.2h0M82 113.2h0M82.4 113.2h0M82.8 113.2h0M83.2 113.2h0M84.4 113.2h0M85.2 113.2h0M85.6 113.2h0M87.2 113.2h0M88 113.2h0M88.8 113.2h0M89.2 113.2h0M90.8 113.2h0M91.2 113.2h0M92.4 113.2h0M92.8 113.2h0M94.4 113.2h0M81.2 113.6h0M81.6 113.6h0M82.4 113.6h0M82.8 113.6h0M83.2 113.6h0M84 113.6h0M84.8 113.6h0M85.2 113.6h0M85.6 113.6h0M86 113.6h0M87.2 113.6h0M88.4 113.6h0M88.8 113.6h0M89.6 113.6h0M90 113.6h0M91.2 113.6h0M92.8 113.6h0M95.2 113.6h0M99.6 113.6h0M103.2 113.6h0M81.2 114h0M81.6 114h0M82 114h0M82.4 114h0M82.8 114h0M83.6 114h0M84.4 114h0M84.8 114h0M85.6 114h0M86 114h0M86.4 114h0M86.8 114h0M88 114h0M92 114h0M82 114.4h0M82.4 114.4h0M83.2 114.4h0M83.6 114.4h0M84.4 114.4h0M84.8 114.4h0M85.6 114.4h0M86.4 114.4h0M86.8 114.4h0M88.4 114.4h0M88.8 114.4h0M89.2 114.4h0M91.2 114.4h0M92 114.4h0M81.2 114.8h0M81.6 114.8h0M82.4 114.8h0M82.8 114.8h0M83.2 114.8h0M84 114.8h0M84.8 114.8h0M85.2 114.8h0M85.6 114.8h0M86 114.8h0M86.4 114.8h0M87.2 114.8h0M87.6 114.8h0M88 114.8h0M89.2 114.8h0M90.4 114.8h0M90.8 114.8h0M93.6 114.8h0M101.2 114.8h0M103.6 114.8h0M81.2 115.2h0M82 115.2h0M82.4 115.2h0M82.8 115.2h0M83.6 115.2h0M84 115.2h0M84.4 115.2h0M84.8 115.2h0M86.4 115.2h0M86.8 115.2h0M87.2 115.2h0M88 115.2h0M88.8 115.2h0M89.2 115.2h0M90.8 115.2h0M91.6 115.2h0M92 115.2h0M94.4 115.2h0M98.8 115.2h0M100 115.2h0M109.6 115.2h0M81.2 115.6h0M81.6 115.6h0M82 115.6h0M82.8 115.6h0M83.2 115.6h0M83.6 115.6h0M84 115.6h0M84.4 115.6h0M84.8 115.6h0M85.2 115.6h0M86.4 115.6h0M86.8 115.6h0M87.2 115.6h0M87.6 115.6h0M88 115.6h0M88.4 115.6h0M88.8 115.6h0M89.2 115.6h0M90.4 115.6h0M90.8 115.6h0M91.2 115.6h0M93.2 115.6h0M94.8 115.6h0M97.6 115.6h0M100.8 115.6h0M81.2 116h0M82 116h0M82.4 116h0M82.8 116h0M83.2 116h0M84 116h0M84.4 116h0M84.8 116h0M85.2 116h0M85.6 116h0M86 116h0M87.2 116h0M87.6 116h0M88 116h0M88.4 116h0M90.4 116h0M94 116h0M95.2 116h0M96 116h0M96.8 116h0M104 116h0M81.2 116.4h0M81.6 116.4h0M82 116.4h0M82.4 116.4h0M83.2 116.4h0M83.6 116.4h0M84 116.4h0M84.4 116.4h0M84.8 116.4h0M85.2 116.4h0M86 116.4h0M86.4 116.4h0M87.2 116.4h0M87.6 116.4h0M88.8 116.4h0M89.2 116.4h0M90 116.4h0M93.2 116.4h0M94 116.4h0M81.2 116.8h0M81.6 116.8h0M82 116.8h0M82.4 116.8h0M82.8 116.8h0M83.2 116.8h0M83.6 116.8h0M84 116.8h0M84.4 116.8h0M84.8 116.8h0M85.2 116.8h0M85.6 116.8h0M86 116.8h0M86.4 116.8h0M86.8 116.8h0M87.6 116.8h0M88 116.8h0M88.4 116.8h0M88.8 116.8h0M90 116.8h0M90.4 116.8h0M93.2 116.8h0M94.8 116.8h0M102.8 116.8h0M104 116.8h0M81.2 117.2h0M81.6 117.2h0M82 117.2h0M82.4 117.2h0M82.8 117.2h0M83.2 117.2h0M83.6 117.2h0M84 117.2h0M84.4 117.2h0M84.8 117.2h0M85.6 117.2h0M86.8 117.2h0M87.2 117.2h0M87.6 117.2h0M88.4 117.2h0M88.8 117.2h0M89.2 117.2h0M92.8 117.2h0M107.6 117.2h0M81.2 117.6h0M81.6 117.6h0M82 117.6h0M82.4 117.6h0M82.8 117.6h0M83.2 117.6h0M83.6 117.6h0M84 117.6h0M84.8 117.6h0M85.2 117.6h0M85.6 117.6h0M86 117.6h0M86.4 117.6h0M86.8 117.6h0M87.2 117.6h0M88 117.6h0M88.4 117.6h0M90.4 117.6h0M90.8 117.6h0M92.4 117.6h0M97.2 117.6h0M97.6 117.6h0M98 117.6h0M81.2 118h0M81.6 118h0M82 118h0M82.4 118h0M83.2 118h0M83.6 118h0M84 118h0M84.8 118h0M85.2 118h0M86 118h0M86.4 118h0M87.2 118h0M88.4 118h0M89.2 118h0M90.8 118h0M91.6 118h0M92 118h0M92.4 118h0M92.8 118h0M93.6 118h0M98 118h0M81.2 118.4h0M81.6 118.4h0M82 118.4h0M82.4 118.4h0M82.8 118.4h0M83.2 118.4h0M84 118.4h0M84.8 118.4h0M85.2 118.4h0M86 118.4h0M86.4 118.4h0M88 118.4h0M88.4 118.4h0M88.8 118.4h0M89.6 118.4h0M90.4 118.4h0M92 118.4h0M99.2 118.4h0M81.2 118.8h0M81.6 118.8h0M82 118.8h0M82.4 118.8h0M82.8 118.8h0M83.2 118.8h0M83.6 118.8h0M84 118.8h0M84.4 118.8h0M84.8 118.8h0M85.2 118.8h0M86 118.8h0M86.4 118.8h0M87.2 118.8h0M88 118.8h0M89.2 118.8h0M90 118.8h0M90.4 118.8h0M90.8 118.8h0M91.6 118.8h0M92 118.8h0M97.6 118.8h0M98.4 118.8h0M99.6 118.8h0M81.2 119.2h0M81.6 119.2h0M82 119.2h0M82.4 119.2h0M82.8 119.2h0M83.6 119.2h0M84 119.2h0M84.4 119.2h0M84.8 119.2h0M85.2 119.2h0M85.6 119.2h0M86 119.2h0M86.4 119.2h0M86.8 119.2h0M87.2 119.2h0M88 119.2h0M88.4 119.2h0M89.6 119.2h0M90.8 119.2h0M91.6 119.2h0M98.8 119.2h0M99.6 119.2h0" stroke="#e53a2c" stroke-width="1.0" stroke-linecap="round" fill="none"/>
<path d="M163.4 19V143.2M299.3 19V143.2" stroke="#333" stroke-width="0.7" fill="none"/>
<path d="M163.4 19.5h-2.4M299.3 19.5h2.4M163.4 31.8h-2.4M299.3 31.8h2.4M163.4 44h-2.4M299.3 44h2.4M163.4 56.3h-2.4M299.3 56.3h2.4M163.4 68.6h-2.4M299.3 68.6h2.4M163.4 80.8h-2.4M299.3 80.8h2.4M163.4 93.1h-2.4M299.3 93.1h2.4M163.4 105.4h-2.4M299.3 105.4h2.4M163.4 117.7h-2.4M299.3 117.7h2.4M163.4 129.9h-2.4M299.3 129.9h2.4M163.4 142.2h-2.4M299.3 142.2h2.4" stroke="#333" stroke-width="0.7"/>
<text x="156.3" y="21.3" font-size="5.1" text-anchor="middle" font-weight="normal" fill="#3a3a3a" stroke="#3a3a3a" stroke-width="0.11" >1</text>
<text x="305.4" y="21.3" font-size="5.1" text-anchor="start" font-weight="normal" fill="#3a3a3a" stroke="#3a3a3a" stroke-width="0.11" >19</text>
<text x="156.3" y="33.6" font-size="5.1" text-anchor="middle" font-weight="normal" fill="#3a3a3a" stroke="#3a3a3a" stroke-width="0.11" >2</text>
<text x="305.4" y="33.6" font-size="5.1" text-anchor="start" font-weight="normal" fill="#3a3a3a" stroke="#3a3a3a" stroke-width="0.11" >18</text>
<text x="156.3" y="45.8" font-size="5.1" text-anchor="middle" font-weight="normal" fill="#3a3a3a" stroke="#3a3a3a" stroke-width="0.11" >3</text>
<text x="305.4" y="45.8" font-size="5.1" text-anchor="start" font-weight="normal" fill="#3a3a3a" stroke="#3a3a3a" stroke-width="0.11" >17</text>
<text x="156.3" y="58.1" font-size="5.1" text-anchor="middle" font-weight="normal" fill="#3a3a3a" stroke="#3a3a3a" stroke-width="0.11" >4</text>
<text x="305.4" y="58.1" font-size="5.1" text-anchor="start" font-weight="normal" fill="#3a3a3a" stroke="#3a3a3a" stroke-width="0.11" >16</text>
<text x="156.3" y="70.4" font-size="5.1" text-anchor="middle" font-weight="normal" fill="#3a3a3a" stroke="#3a3a3a" stroke-width="0.11" >5</text>
<text x="305.4" y="70.4" font-size="5.1" text-anchor="start" font-weight="normal" fill="#3a3a3a" stroke="#3a3a3a" stroke-width="0.11" >15</text>
<text x="156.3" y="82.6" font-size="5.1" text-anchor="middle" font-weight="normal" fill="#3a3a3a" stroke="#3a3a3a" stroke-width="0.11" >6</text>
<text x="305.4" y="82.6" font-size="5.1" text-anchor="start" font-weight="normal" fill="#3a3a3a" stroke="#3a3a3a" stroke-width="0.11" >14</text>
<text x="156.3" y="94.9" font-size="5.1" text-anchor="middle" font-weight="normal" fill="#3a3a3a" stroke="#3a3a3a" stroke-width="0.11" >7</text>
<text x="305.4" y="94.9" font-size="5.1" text-anchor="start" font-weight="normal" fill="#3a3a3a" stroke="#3a3a3a" stroke-width="0.11" >13</text>
<text x="156.3" y="107.2" font-size="5.1" text-anchor="middle" font-weight="normal" fill="#3a3a3a" stroke="#3a3a3a" stroke-width="0.11" >8</text>
<text x="305.4" y="107.2" font-size="5.1" text-anchor="start" font-weight="normal" fill="#3a3a3a" stroke="#3a3a3a" stroke-width="0.11" >12</text>
<text x="156.3" y="119.5" font-size="5.1" text-anchor="middle" font-weight="normal" fill="#3a3a3a" stroke="#3a3a3a" stroke-width="0.11" >9</text>
<text x="305.4" y="119.5" font-size="5.1" text-anchor="start" font-weight="normal" fill="#3a3a3a" stroke="#3a3a3a" stroke-width="0.11" >11</text>
<text x="156.3" y="131.7" font-size="5.1" text-anchor="middle" font-weight="normal" fill="#3a3a3a" stroke="#3a3a3a" stroke-width="0.11" >10</text>
<text x="156.3" y="144" font-size="5.1" text-anchor="middle" font-weight="normal" fill="#3a3a3a" stroke="#3a3a3a" stroke-width="0.11" >X</text>
<text x="305.4" y="144" font-size="5.1" text-anchor="start" font-weight="normal" fill="#3a3a3a" stroke="#3a3a3a" stroke-width="0.11" >Y</text>
<text transform="translate(144.9 72.8) rotate(-90)" font-size="5.6" text-anchor="middle" fill="#333" stroke="#333" stroke-width="0.25">Chromosome</text>
<path d="M169.5 19v-1.2M170.1 19v-1.6M171.7 19v-1.6M173.7 19v-1.2M174.6 19v-1.2M175.5 19v-1.2M176.9 19v-1.2M177.8 19v-2.0M178.5 19v-2.0M179.2 19v-2.0M179.8 19v-1.2M180.7 19v-1.6M184.3 19v-1.6M186.1 19v-1.2M186.7 19v-1.6M187.4 19v-1.2M189.8 19v-1.6M190.7 19v-1.6M191.3 19v-1.6M192.2 19v-1.2M193.1 19v-2.0M195 19v-2.0M200.5 19v-1.2M201.2 19v-2.0M202 19v-1.6M202.6 19v-2.0M203.3 19v-1.6M204.4 19v-1.6M205.5 19v-1.6M206.5 19v-1.2M207.2 19v-1.2M208.1 19v-1.6M208.8 19v-2.0M216.6 19v-2.0M219.2 19v-1.6M220 19v-1.6M220.7 19v-1.2M221.5 19v-2.0M222.1 19v-1.2M223.9 19v-1.2M224.8 19v-1.6M230.4 19v-1.6M231.1 19v-2.0M235.6 19v-2.0M236.5 19v-2.0M237.2 19v-1.2M238.2 19v-1.6M239.2 19v-1.2M240.1 19v-1.6M241 19v-1.2M243 19v-2.0M243.8 19v-1.2M250.4 19v-1.2M251.2 19v-1.6M253.2 19v-2.0M268.9 19v-1.6M269.7 19v-1.6M270.6 19v-2.0M272.4 19v-1.2M273.4 19v-1.2M274.2 19v-2.0M274.9 19v-2.0M275.6 19v-1.2M276.7 19v-1.6M287.1 19v-2.0M287.9 19v-1.6M288.6 19v-1.2M289.4 19v-2.0M290 19v-2.0M292.8 19v-1.2M293.5 19v-1.6M169.5 31.3v-1.2M170.2 31.3v-1.6M171.1 31.3v-1.6M171.9 31.3v-1.6M177.9 31.3v-2.0M179 31.3v-1.2M185 31.3v-1.2M186.7 31.3v-1.6M188.8 31.3v-2.0M189.8 31.3v-1.2M190.4 31.3v-1.6M195.1 31.3v-1.2M195.9 31.3v-1.6M196.5 31.3v-1.6M197.6 31.3v-1.2M200.7 31.3v-2.0M201.6 31.3v-1.2M206.3 31.3v-1.2M208 31.3v-2.0M208.9 31.3v-1.6M209.9 31.3v-1.6M210.9 31.3v-1.2M215.7 31.3v-2.0M216.4 31.3v-2.0M217.9 31.3v-2.0M218.8 31.3v-1.2M219.5 31.3v-2.0M220.3 31.3v-1.6M221.1 31.3v-2.0M224 31.3v-2.0M225.7 31.3v-2.0M226.7 31.3v-1.2M227.7 31.3v-1.2M228.4 31.3v-1.6M229.3 31.3v-1.6M230.3 31.3v-1.2M231.2 31.3v-1.2M239.7 31.3v-2.0M240.4 31.3v-1.6M241.1 31.3v-1.6M242 31.3v-2.0M243.7 31.3v-1.6M244.4 31.3v-1.6M245.5 31.3v-1.2M246.1 31.3v-2.0M257.9 31.3v-1.6M258.8 31.3v-1.6M259.5 31.3v-1.2M260.5 31.3v-1.6M261.5 31.3v-1.6M263.5 31.3v-2.0M264.3 31.3v-1.2M265.8 31.3v-1.6M267.9 31.3v-1.2M268.7 31.3v-1.6M273.8 31.3v-1.2M274.6 31.3v-2.0M277.2 31.3v-1.2M277.8 31.3v-2.0M278.9 31.3v-1.6M279.9 31.3v-2.0M280.9 31.3v-1.2M285.5 31.3v-2.0M286.2 31.3v-1.6M288 31.3v-1.2M288.6 31.3v-2.0M289.4 31.3v-1.6M290.4 31.3v-1.2M291.1 31.3v-1.6M291.8 31.3v-1.6M292.8 31.3v-1.6M170.6 43.5v-1.2M171.2 43.5v-1.6M172.9 43.5v-1.6M174.7 43.5v-1.2M175.6 43.5v-2.0M178.5 43.5v-1.6M179.2 43.5v-1.6M179.8 43.5v-1.2M180.8 43.5v-1.2M182.5 43.5v-2.0M183.2 43.5v-2.0M183.9 43.5v-1.2M184.9 43.5v-2.0M199.9 43.5v-2.0M200.7 43.5v-1.2M201.6 43.5v-1.6M202.4 43.5v-2.0M203.1 43.5v-1.2M203.8 43.5v-1.2M204.6 43.5v-1.2M206.8 43.5v-1.2M215.1 43.5v-2.0M216.1 43.5v-2.0M217.2 43.5v-1.2M218.1 43.5v-1.6M223.3 43.5v-1.6M224.4 43.5v-1.6M225 43.5v-1.2M225.8 43.5v-1.2M235.8 43.5v-2.0M236.9 43.5v-1.2M256.6 43.5v-1.2M258.5 43.5v-1.2M259.5 43.5v-1.2M260.8 43.5v-1.2M261.5 43.5v-1.2M262.1 43.5v-2.0M263.4 43.5v-2.0M264.4 43.5v-2.0M268.6 43.5v-2.0M269.4 43.5v-2.0M270.5 43.5v-1.6M271.5 43.5v-1.6M273.3 43.5v-1.6M274.1 43.5v-1.6M275 43.5v-1.2M275.9 43.5v-2.0M276.6 43.5v-1.2M277.3 43.5v-1.6M278.2 43.5v-1.2M288.5 43.5v-1.2M289.4 43.5v-1.2M290 43.5v-1.6M292.1 43.5v-1.6M292.8 43.5v-2.0M169.5 55.8v-1.2M170.2 55.8v-2.0M170.8 55.8v-2.0M171.6 55.8v-1.6M172.4 55.8v-1.6M173.3 55.8v-2.0M174.3 55.8v-1.2M175.4 55.8v-1.2M176.2 55.8v-1.2M177.3 55.8v-1.6M184 55.8v-2.0M185.1 55.8v-1.2M185.8 55.8v-1.2M186.7 55.8v-1.2M188 55.8v-2.0M189.1 55.8v-1.2M189.9 55.8v-2.0M194.7 55.8v-2.0M205.4 55.8v-2.0M206 55.8v-2.0M224.2 55.8v-1.6M225.9 55.8v-1.6M226.6 55.8v-2.0M228.2 55.8v-2.0M229.3 55.8v-1.6M230.3 55.8v-1.2M231.1 55.8v-2.0M232.1 55.8v-1.6M235.9 55.8v-1.2M252 55.8v-1.2M253.1 55.8v-1.6M254.1 55.8v-1.2M255 55.8v-1.6M263 55.8v-2.0M263.8 55.8v-2.0M264.7 55.8v-2.0M265.6 55.8v-1.6M267.3 55.8v-1.6M267.9 55.8v-1.6M270.3 55.8v-1.6M271.1 55.8v-2.0M271.8 55.8v-1.2M272.7 55.8v-1.6M273.4 55.8v-1.2M282.4 55.8v-2.0M283.2 55.8v-1.2M284.1 55.8v-1.2M285.1 55.8v-1.2M170.2 68.1v-1.2M170.8 68.1v-1.2M171.7 68.1v-2.0M172.5 68.1v-1.6M173.4 68.1v-1.6M174.2 68.1v-1.6M174.9 68.1v-1.6M182.2 68.1v-1.6M183.3 68.1v-2.0M187 68.1v-1.6M187.8 68.1v-1.2M188.8 68.1v-1.6M189.7 68.1v-1.2M190.5 68.1v-1.6M191.4 68.1v-2.0M192.3 68.1v-1.6M197.5 68.1v-1.6M198.4 68.1v-2.0M199.4 68.1v-2.0M200.2 68.1v-1.6M201.1 68.1v-1.6M201.7 68.1v-1.6M203.4 68.1v-1.2M206.7 68.1v-1.2M207.6 68.1v-1.2M209.2 68.1v-1.2M209.9 68.1v-2.0M211.5 68.1v-2.0M212.5 68.1v-2.0M213.5 68.1v-2.0M214.2 68.1v-1.6M215.2 68.1v-1.2M215.9 68.1v-1.2M220 68.1v-1.2M220.8 68.1v-2.0M222.3 68.1v-2.0M225.9 68.1v-2.0M226.7 68.1v-1.2M227.6 68.1v-1.6M228.6 68.1v-1.6M230 68.1v-2.0M230.7 68.1v-2.0M231.5 68.1v-2.0M233.1 68.1v-1.6M250.5 68.1v-1.2M251.4 68.1v-1.2M252.3 68.1v-1.2M253.3 68.1v-1.2M254 68.1v-1.6M254.6 68.1v-1.2M255.4 68.1v-1.2M256.2 68.1v-2.0M261.2 68.1v-1.6M263.7 68.1v-1.2M264.7 68.1v-2.0M265.3 68.1v-2.0M267.3 68.1v-1.6M268 68.1v-1.6M268.9 68.1v-1.2M269.7 68.1v-2.0M270.7 68.1v-1.6M275.9 68.1v-2.0M277 68.1v-2.0M277.7 68.1v-1.2M278.7 68.1v-1.6M280.4 68.1v-1.6M288 68.1v-1.2M289.9 68.1v-1.2M291.8 68.1v-2.0M173.2 80.3v-1.6M175.3 80.3v-1.2M176.8 80.3v-1.2M184 80.3v-1.6M193 80.3v-2.0M193.7 80.3v-1.6M194.7 80.3v-2.0M196.4 80.3v-2.0M197.4 80.3v-1.6M198 80.3v-1.2M199.1 80.3v-1.6M205.6 80.3v-1.6M206.4 80.3v-1.2M209.3 80.3v-1.2M209.9 80.3v-1.6M211 80.3v-1.6M213.9 80.3v-1.2M214.8 80.3v-1.2M215.5 80.3v-1.2M216.5 80.3v-1.2M217.3 80.3v-1.6M218.1 80.3v-1.6M219 80.3v-1.2M221.2 80.3v-2.0M222.7 80.3v-1.6M223.8 80.3v-1.2M224.8 80.3v-1.6M226.6 80.3v-1.2M227.2 80.3v-1.6M227.9 80.3v-1.6M231.3 80.3v-2.0M232 80.3v-1.2M240 80.3v-1.2M240.7 80.3v-2.0M241.7 80.3v-1.2M246.7 80.3v-1.6M247.6 80.3v-1.2M248.3 80.3v-1.2M249 80.3v-1.6M249.9 80.3v-1.2M250.5 80.3v-1.2M251.4 80.3v-1.2M252.1 80.3v-2.0M253.5 80.3v-2.0M264.4 80.3v-2.0M265.1 80.3v-2.0M268.1 80.3v-1.2M269 80.3v-1.6M269.7 80.3v-1.2M273.9 80.3v-1.6M275 80.3v-2.0M276.8 80.3v-2.0M277.4 80.3v-1.2M282.5 80.3v-1.2M283.3 80.3v-1.6M284.3 80.3v-1.6M285.1 80.3v-2.0M285.8 80.3v-2.0M286.7 80.3v-1.2M287.6 80.3v-2.0M288.3 80.3v-1.6M288.9 80.3v-1.2M169.5 92.6v-2.0M170.3 92.6v-1.6M171.1 92.6v-2.0M171.8 92.6v-2.0M172.6 92.6v-1.6M175.1 92.6v-1.2M175.7 92.6v-1.6M176.4 92.6v-1.6M182.3 92.6v-1.6M183.1 92.6v-2.0M184 92.6v-1.2M185 92.6v-1.2M185.8 92.6v-2.0M186.7 92.6v-1.2M187.7 92.6v-1.6M189.6 92.6v-2.0M190.6 92.6v-1.6M192.7 92.6v-1.6M195.6 92.6v-1.6M201 92.6v-1.6M201.9 92.6v-2.0M202.6 92.6v-1.2M203.3 92.6v-1.2M204.4 92.6v-1.2M205.3 92.6v-1.2M205.9 92.6v-2.0M206.7 92.6v-2.0M207.5 92.6v-1.2M208.3 92.6v-1.2M209.2 92.6v-1.2M211.5 92.6v-1.2M212.5 92.6v-2.0M213.2 92.6v-1.6M214 92.6v-2.0M215.5 92.6v-1.6M216.4 92.6v-1.2M217.5 92.6v-1.2M218.3 92.6v-1.2M220.6 92.6v-1.6M221.4 92.6v-1.6M222.5 92.6v-2.0M223.3 92.6v-1.2M229.1 92.6v-1.6M229.9 92.6v-1.6M230.8 92.6v-1.6M251.9 92.6v-1.2M252.7 92.6v-1.6M253.4 92.6v-1.6M254.4 92.6v-2.0M255.3 92.6v-1.2M260.1 92.6v-2.0M260.8 92.6v-2.0M261.6 92.6v-2.0M262.5 92.6v-1.2M263.4 92.6v-1.6M265.1 92.6v-2.0M270.6 92.6v-2.0M271.5 92.6v-2.0M272.5 92.6v-2.0M273.5 92.6v-1.6M274.5 92.6v-2.0M279.6 92.6v-1.2M280.7 92.6v-1.6M281.5 92.6v-1.6M286 92.6v-1.2M286.6 92.6v-1.2M287.6 92.6v-1.6M288.3 92.6v-2.0M289.2 92.6v-1.2M290 92.6v-1.2M291 92.6v-1.6M292 92.6v-1.2M292.7 92.6v-1.6M169.5 104.9v-1.6M171.2 104.9v-1.2M171.8 104.9v-2.0M173.7 104.9v-1.2M174.5 104.9v-1.2M180.6 104.9v-1.6M181.2 104.9v-1.6M182.1 104.9v-1.6M187.9 104.9v-1.2M188.7 104.9v-1.6M189.3 104.9v-1.2M190.4 104.9v-1.6M191.9 104.9v-1.6M197 104.9v-1.2M197.9 104.9v-2.0M198.7 104.9v-1.6M199.5 104.9v-1.6M200.6 104.9v-2.0M201.2 104.9v-2.0M202.2 104.9v-1.2M203.1 104.9v-2.0M206.6 104.9v-1.2M208 104.9v-1.2M209 104.9v-1.2M209.7 104.9v-2.0M210.6 104.9v-1.2M211.4 104.9v-2.0M212.3 104.9v-1.2M213.3 104.9v-1.6M217 104.9v-2.0M217.9 104.9v-2.0M218.7 104.9v-1.2M223.6 104.9v-1.2M224.3 104.9v-2.0M244.3 104.9v-1.2M245.2 104.9v-1.2M246.2 104.9v-1.6M247.1 104.9v-1.6M247.9 104.9v-1.6M249.7 104.9v-1.2M250.7 104.9v-1.6M251.4 104.9v-1.6M252.2 104.9v-2.0M253.9 104.9v-1.2M254.9 104.9v-2.0M255.8 104.9v-1.6M256.8 104.9v-1.2M257.7 104.9v-1.6M258.7 104.9v-2.0M275.2 104.9v-1.2M276.6 104.9v-2.0M283.7 104.9v-1.2M284.5 104.9v-1.6M285.3 104.9v-1.6M287.2 104.9v-1.2M288 104.9v-1.2M289 104.9v-1.2M289.9 104.9v-1.6M291.5 104.9v-1.2M176.6 117.2v-2.0M177.7 117.2v-1.2M178.6 117.2v-1.6M179.3 117.2v-1.6M180.2 117.2v-1.2M181.2 117.2v-2.0M185.2 117.2v-1.2M187.3 117.2v-2.0M187.9 117.2v-1.2M190.5 117.2v-1.2M191.9 117.2v-1.2M193.9 117.2v-1.2M204.1 117.2v-1.2M204.8 117.2v-1.6M205.7 117.2v-1.6M206.4 117.2v-1.2M211.1 117.2v-1.2M211.8 117.2v-2.0M215.7 117.2v-1.6M217.5 117.2v-1.2M218.5 117.2v-1.2M221.3 117.2v-1.2M242.5 117.2v-1.2M244.2 117.2v-1.6M246.2 117.2v-2.0M247.8 117.2v-1.6M254.4 117.2v-1.6M255.2 117.2v-1.6M255.9 117.2v-2.0M257 117.2v-1.2M257.8 117.2v-2.0M259.3 117.2v-2.0M260 117.2v-1.6M264.2 117.2v-1.2M264.8 117.2v-1.6M265.7 117.2v-1.6M266.4 117.2v-2.0M267.2 117.2v-2.0M268.3 117.2v-1.6M269.9 117.2v-2.0M270.6 117.2v-1.6M271.5 117.2v-1.6M272.3 117.2v-1.6M275.9 117.2v-1.2M276.9 117.2v-2.0M277.5 117.2v-2.0M278.2 117.2v-1.6M279.2 117.2v-2.0M279.9 117.2v-1.2M280.8 117.2v-2.0M281.6 117.2v-1.2M282.3 117.2v-2.0M283.9 117.2v-1.6M284.8 117.2v-1.2M289.1 117.2v-1.6M289.9 117.2v-2.0M290.6 117.2v-2.0M291.4 117.2v-1.2M292.2 117.2v-1.6M169.5 129.4v-1.6M170.1 129.4v-2.0M171.2 129.4v-2.0M172.2 129.4v-1.6M174.7 129.4v-1.2M175.4 129.4v-1.6M176.3 129.4v-1.2M182.5 129.4v-1.2M183.4 129.4v-2.0M185.5 129.4v-2.0M187.1 129.4v-2.0M188.6 129.4v-2.0M189.2 129.4v-1.2M190.2 129.4v-1.2M191.3 129.4v-1.2M192.2 129.4v-2.0M197.3 129.4v-2.0M198 129.4v-1.2M198.7 129.4v-1.2M199.5 129.4v-1.6M203.9 129.4v-1.6M206.6 129.4v-2.0M208.7 129.4v-1.2M209.5 129.4v-1.6M210.2 129.4v-2.0M211.1 129.4v-1.6M213.5 129.4v-1.6M216.1 129.4v-1.6M216.7 129.4v-1.2M217.4 129.4v-1.6M218.3 129.4v-1.2M219 129.4v-1.2M223.8 129.4v-1.6M169.5 141.7v-1.6M170.6 141.7v-2.0M171.5 141.7v-1.2M172.1 141.7v-1.2M177.6 141.7v-1.2M185.9 141.7v-1.2M187.3 141.7v-1.2M188.3 141.7v-2.0M189.3 141.7v-1.6M190.2 141.7v-1.2M191.2 141.7v-1.2M192.3 141.7v-1.6M192.9 141.7v-1.6M207.9 141.7v-2.0M208.8 141.7v-2.0M211.8 141.7v-1.6M212.6 141.7v-2.0M219.8 141.7v-1.6M221.7 141.7v-2.0M222.7 141.7v-2.0M223.7 141.7v-1.6M224.5 141.7v-2.0M225.4 141.7v-2.0M227.3 141.7v-1.6M235.9 141.7v-1.6M236.8 141.7v-1.6M237.8 141.7v-1.6M240.1 141.7v-1.2M256.6 141.7v-2.0M257.5 141.7v-2.0M259.9 141.7v-2.0M260.7 141.7v-2.0M261.7 141.7v-1.6M262.6 141.7v-1.6M271.1 141.7v-1.6M271.8 141.7v-1.6M272.6 141.7v-1.6M273.4 141.7v-1.6M284.6 141.7v-2.0M285.6 141.7v-1.2M286.4 141.7v-1.6M287.2 141.7v-2.0M287.9 141.7v-1.2M289.4 141.7v-1.6M290.1 141.7v-1.2M291.2 141.7v-2.0M292.1 141.7v-2.0" stroke="#e8372e" stroke-width="0.85" fill="none"/>
<path d="M170 20v1.0M180 20v1.0M181.5 20v1.0M193.8 20v1.8M195.2 20v1.8M202 20v1.0M205.4 20v1.4M210.4 20v1.8M212.6 20v1.8M224.8 20v1.4M231.4 20v1.0M236.5 20v1.8M243.6 20v1.0M268.5 20v1.8M275.4 20v1.0M278.8 20v1.0M280.6 20v1.0M284 20v1.0M287.5 20v1.8M292.6 20v1.8M170 32.3v1.8M175.6 32.3v1.4M177.8 32.3v1.4M180.9 32.3v1.8M182.3 32.3v1.4M183.6 32.3v1.4M193.3 32.3v1.4M201.8 32.3v1.8M205.4 32.3v1.8M210.7 32.3v1.0M226.9 32.3v1.0M232.2 32.3v1.4M238 32.3v1.8M242.7 32.3v1.8M244.2 32.3v1.4M260.9 32.3v1.4M272.5 32.3v1.0M276.4 32.3v1.0M279.5 32.3v1.4M290.2 32.3v1.0M170 44.5v1.8M173.8 44.5v1.8M177 44.5v1.0M179.1 44.5v1.0M183.1 44.5v1.8M186 44.5v1.0M189.5 44.5v1.4M191 44.5v1.0M194.6 44.5v1.4M197.6 44.5v1.8M198.8 44.5v1.8M203.7 44.5v1.0M207.7 44.5v1.4M210.6 44.5v1.4M212.2 44.5v1.0M219.1 44.5v1.0M220.2 44.5v1.4M225.1 44.5v1.8M226.6 44.5v1.4M233 44.5v1.0M236.5 44.5v1.4M255.4 44.5v1.4M261.2 44.5v1.4M267.5 44.5v1.8M270.4 44.5v1.4M274.9 44.5v1.0M277.3 44.5v1.8M281.1 44.5v1.8M289.8 44.5v1.0M293.1 44.5v1.4M176.1 56.8v1.8M179.4 56.8v1.8M183.1 56.8v1.8M186.9 56.8v1.0M188.5 56.8v1.8M197 56.8v1.4M199.3 56.8v1.4M203.1 56.8v1.4M214.8 56.8v1.8M218.2 56.8v1.8M225.2 56.8v1.4M226.2 56.8v1.0M252.5 56.8v1.8M255.7 56.8v1.0M259.4 56.8v1.8M273.3 56.8v1.0M275.7 56.8v1.8M280.5 56.8v1.8M283.4 56.8v1.4M285.8 56.8v1.4M179.1 69.1v1.4M182.3 69.1v1.8M190.1 69.1v1.0M211.7 69.1v1.0M214 69.1v1.8M216.4 69.1v1.8M218.2 69.1v1.4M219.3 69.1v1.8M224.5 69.1v1.4M229.6 69.1v1.4M254.4 69.1v1.8M258.2 69.1v1.8M259.4 69.1v1.8M261 69.1v1.0M268.9 69.1v1.8M271.5 69.1v1.8M275.1 69.1v1.0M282.4 69.1v1.4M284.5 69.1v1.8M286.9 69.1v1.4M289.7 69.1v1.8M292.5 69.1v1.0M171.4 81.3v1.0M174.5 81.3v1.0M182.8 81.3v1.8M188.6 81.3v1.0M197.8 81.3v1.4M203.8 81.3v1.4M210.9 81.3v1.8M240.5 81.3v1.0M243.9 81.3v1.4M246.2 81.3v1.4M249.7 81.3v1.0M259 81.3v1.8M170 93.6v1.4M173.1 93.6v1.8M174.5 93.6v1.8M178 93.6v1.4M182.1 93.6v1.0M185.3 93.6v1.8M189.5 93.6v1.4M201.4 93.6v1.8M207 93.6v1.4M209.6 93.6v1.8M210.8 93.6v1.0M218.1 93.6v1.4M219.3 93.6v1.8M221.5 93.6v1.4M228.4 93.6v1.4M230 93.6v1.8M245.4 93.6v1.4M247.8 93.6v1.4M260.3 93.6v1.8M263 93.6v1.4M270.2 93.6v1.4M279.8 93.6v1.0M282.1 93.6v1.0M284 93.6v1.8M289.6 93.6v1.8M170 105.9v1.8M176.7 105.9v1.4M178.1 105.9v1.8M180.7 105.9v1.4M186.5 105.9v1.8M188.2 105.9v1.8M193.3 105.9v1.0M195.8 105.9v1.4M201.4 105.9v1.4M208.4 105.9v1.0M222.8 105.9v1.0M246.3 105.9v1.8M248.3 105.9v1.0M251.2 105.9v1.0M252.8 105.9v1.8M261.6 105.9v1.8M266.4 105.9v1.4M270.1 105.9v1.4M277.1 105.9v1.0M278.1 105.9v1.8M281.5 105.9v1.4M172.7 118.2v1.8M174.3 118.2v1.0M177.5 118.2v1.4M178.7 118.2v1.4M183.6 118.2v1.8M187.6 118.2v1.4M197.6 118.2v1.8M199.1 118.2v1.0M203 118.2v1.0M207.3 118.2v1.8M210.3 118.2v1.4M217.4 118.2v1.4M220 118.2v1.0M252.7 118.2v1.4M254.2 118.2v1.4M263.4 118.2v1.0M267.2 118.2v1.4M271.8 118.2v1.0M274.5 118.2v1.4M278.5 118.2v1.8M280.1 118.2v1.0M286.3 118.2v1.4M291.2 118.2v1.8M170 130.4v1.4M173.4 130.4v1.8M177.1 130.4v1.4M179.5 130.4v1.8M182.3 130.4v1.8M185.7 130.4v1.8M188.9 130.4v1.8M192.7 130.4v1.8M197.8 130.4v1.0M201.8 130.4v1.4M204.6 130.4v1.0M215.3 130.4v1.0M170 142.7v1.0M172.2 142.7v1.0M174.3 142.7v1.8M179.8 142.7v1.8M188.9 142.7v1.0M190.3 142.7v1.8M193.7 142.7v1.4M202.9 142.7v1.4M205.9 142.7v1.8M207.9 142.7v1.4M212.9 142.7v1.8M216.3 142.7v1.8M218.8 142.7v1.0M232.3 142.7v1.4M234.7 142.7v1.4M238.9 142.7v1.4M266.4 142.7v1.4M268.9 142.7v1.0M272 142.7v1.8M278.3 142.7v1.4M282.5 142.7v1.8" stroke="#4444a4" stroke-width="0.85" fill="none"/>
<path d="M169 19.5H253.7M267.5 19.5H294M169 31.8H248M254.7 31.8H294M169 44H238M252.6 44H294M169 56.3H236.7M251.5 56.3H294M169 68.6H234.5M250 68.6H294M169 80.8H234M239.5 80.8H294M169 93.1H232M242.5 93.1H294M169 105.4H225.2M242.5 105.4H294M169 117.7H222.5M241 117.7H294M169 129.9H226M169 142.2H242.5M253 142.2H294" stroke="#111" stroke-width="1.15" fill="none"/>
<rect x="334.8" y="19" width="16.2" height="1.3" fill="#ec4648"/>
<rect x="334.8" y="20.2" width="16.2" height="1.6" fill="#ec4648"/>
<rect x="334.8" y="21.7" width="16.2" height="2.1" fill="#ec4648"/>
<rect x="334.8" y="23.7" width="16.2" height="1.3" fill="#ec4648"/>
<rect x="334.8" y="24.9" width="16.2" height="2.1" fill="#ec4648"/>
<rect x="334.8" y="26.9" width="16.2" height="1.6" fill="#ec4648"/>
<rect x="334.8" y="28.4" width="16.2" height="2.6" fill="#ec4648"/>
<rect x="334.8" y="30.9" width="16.2" height="2.6" fill="#ec4648"/>
<rect x="334.8" y="33.4" width="16.2" height="1.3" fill="#ec4648"/>
<rect x="334.8" y="34.6" width="16.2" height="2.6" fill="#ec4648"/>
<rect x="334.8" y="37.1" width="16.2" height="1.1" fill="#ec4648"/>
<rect x="334.8" y="38.1" width="16.2" height="2.6" fill="#ee6467"/>
<rect x="334.8" y="40.6" width="16.2" height="1.6" fill="#ed5b5d"/>
<rect x="334.8" y="42.1" width="16.2" height="1.3" fill="#ec4648"/>
<rect x="334.8" y="43.3" width="16.2" height="2.6" fill="#ed5b5d"/>
<rect x="334.8" y="45.8" width="16.2" height="2.6" fill="#ec4648"/>
<rect x="334.8" y="48.3" width="16.2" height="1.1" fill="#ee6466"/>
<rect x="334.8" y="49.3" width="16.2" height="1.1" fill="#ec4648"/>
<rect x="334.8" y="50.3" width="16.2" height="1.6" fill="#ec4648"/>
<rect x="334.8" y="51.8" width="16.2" height="1.6" fill="#ec4648"/>
<rect x="334.8" y="53.3" width="16.2" height="2.6" fill="#ec4648"/>
<rect x="334.8" y="55.8" width="16.2" height="1.3" fill="#ec4648"/>
<rect x="334.8" y="57" width="16.2" height="1.3" fill="#ec4648"/>
<rect x="334.8" y="58.2" width="16.2" height="2.6" fill="#ec4648"/>
<rect x="334.8" y="60.7" width="16.2" height="1.1" fill="#ec4648"/>
<rect x="334.8" y="61.7" width="16.2" height="2.6" fill="#ec4648"/>
<rect x="334.8" y="64.2" width="16.2" height="1.6" fill="#ec4648"/>
<rect x="334.8" y="65.7" width="16.2" height="2.6" fill="#ed595c"/>
<rect x="334.8" y="68.2" width="16.2" height="2.6" fill="#ec4648"/>
<rect x="334.8" y="70.7" width="16.2" height="1.1" fill="#ec4648"/>
<rect x="334.8" y="71.7" width="16.2" height="2.6" fill="#ec4648"/>
<rect x="334.8" y="74.2" width="16.2" height="1.1" fill="#ec4648"/>
<rect x="334.8" y="75.2" width="16.2" height="2.6" fill="#ed5b5d"/>
<rect x="334.8" y="77.7" width="16.2" height="2.6" fill="#ec4648"/>
<rect x="334.8" y="80.2" width="16.2" height="1.6" fill="#ec4648"/>
<rect x="334.8" y="81.7" width="16.2" height="1.1" fill="#ec4648"/>
<rect x="334.8" y="82.7" width="16.2" height="1.6" fill="#ec4648"/>
<rect x="334.8" y="84.2" width="16.2" height="1.1" fill="#ec4648"/>
<rect x="334.8" y="85.2" width="16.2" height="2.6" fill="#ee6265"/>
<rect x="334.8" y="87.7" width="16.2" height="1.3" fill="#ec4648"/>
<rect x="334.8" y="88.9" width="16.2" height="1.3" fill="#ec4648"/>
<rect x="334.8" y="90.1" width="16.2" height="1.6" fill="#ec4648"/>
<rect x="334.8" y="91.6" width="16.2" height="1.1" fill="#ec4648"/>
<rect x="334.8" y="92.6" width="16.2" height="2.6" fill="#ec4648"/>
<rect x="334.8" y="95.1" width="16.2" height="1.1" fill="#ec4648"/>
<rect x="334.8" y="96.1" width="16.2" height="2.1" fill="#ee6467"/>
<rect x="334.8" y="98.1" width="16.2" height="2.6" fill="#ec4648"/>
<rect x="334.8" y="100.6" width="16.2" height="1.3" fill="#ec4648"/>
<rect x="334.8" y="101.8" width="16.2" height="1.6" fill="#ec4648"/>
<rect x="334.8" y="103.3" width="16.2" height="1.6" fill="#ee6164"/>
<rect x="334.8" y="104.8" width="16.2" height="0.3" fill="#ec4648"/>
<rect x="334.8" y="105" width="16.2" height="1.1" fill="#f2a0a2"/>
<rect x="334.8" y="106" width="16.2" height="2.1" fill="#f2a0a2"/>
<rect x="334.8" y="108" width="16.2" height="1.6" fill="#f2a6a9"/>
<rect x="334.8" y="109.5" width="16.2" height="2.1" fill="#f2a0a2"/>
<rect x="334.8" y="111.5" width="16.2" height="0.2" fill="#f2a0a2"/>
<rect x="334.8" y="111.6" width="16.2" height="1.6" fill="#7472bc"/>
<rect x="334.8" y="113.1" width="16.2" height="1.3" fill="#7472bc"/>
<rect x="334.8" y="114.3" width="16.2" height="2.6" fill="#7472bc"/>
<rect x="334.8" y="116.8" width="16.2" height="2.6" fill="#7472bc"/>
<rect x="334.8" y="119.3" width="16.2" height="1.6" fill="#7472bc"/>
<rect x="334.8" y="120.8" width="16.2" height="1.3" fill="#7472bc"/>
<rect x="334.8" y="122" width="16.2" height="2.6" fill="#7472bc"/>
<rect x="334.8" y="124.5" width="16.2" height="2.1" fill="#8c89c6"/>
<rect x="334.8" y="126.5" width="16.2" height="2.1" fill="#7c7abf"/>
<rect x="334.8" y="128.5" width="16.2" height="1.3" fill="#7472bc"/>
<rect x="334.8" y="129.7" width="16.2" height="2.6" fill="#7472bc"/>
<rect x="334.8" y="132.2" width="16.2" height="1.1" fill="#7472bc"/>
<rect x="334.8" y="133.2" width="16.2" height="1.1" fill="#7472bc"/>
<rect x="334.8" y="134.2" width="16.2" height="1.1" fill="#8683c4"/>
<rect x="334.8" y="135.2" width="16.2" height="0.5" fill="#7472bc"/>
<rect x="350.8" y="19" width="16.2" height="1.6" fill="#e8e2f0"/>
<rect x="350.8" y="20.5" width="16.2" height="2.1" fill="#e8e2f0"/>
<rect x="350.8" y="22.5" width="16.2" height="1.3" fill="#e9e3f0"/>
<rect x="350.8" y="23.7" width="16.2" height="1.6" fill="#e8e2f0"/>
<rect x="350.8" y="25.2" width="16.2" height="1.1" fill="#ebe4f1"/>
<rect x="350.8" y="26.2" width="16.2" height="1.3" fill="#e8e2f0"/>
<rect x="350.8" y="27.4" width="16.2" height="0.8" fill="#e8e2f0"/>
<rect x="350.8" y="28" width="16.2" height="2.1" fill="#f2a0a2"/>
<rect x="350.8" y="30" width="16.2" height="2.6" fill="#f2a0a2"/>
<rect x="350.8" y="32.5" width="16.2" height="0.7" fill="#f2a0a2"/>
<rect x="350.8" y="33" width="16.2" height="1.3" fill="#ef7375"/>
<rect x="350.8" y="34.2" width="16.2" height="1.3" fill="#ef7375"/>
<rect x="350.8" y="35.4" width="16.2" height="0.7" fill="#ef7375"/>
<rect x="350.8" y="36" width="16.2" height="2.1" fill="#f2a0a2"/>
<rect x="350.8" y="38" width="16.2" height="1.1" fill="#f2a0a2"/>
<rect x="350.8" y="39" width="16.2" height="2.1" fill="#f2a0a2"/>
<rect x="350.8" y="41" width="16.2" height="1.3" fill="#f7ced0"/>
<rect x="350.8" y="42.2" width="16.2" height="1.3" fill="#f7d2d5"/>
<rect x="350.8" y="43.4" width="16.2" height="1.3" fill="#f7ced0"/>
<rect x="350.8" y="44.6" width="16.2" height="0.5" fill="#f5b5b7"/>
<rect x="350.8" y="45" width="16.2" height="1.3" fill="#f6eef4"/>
<rect x="350.8" y="46.2" width="16.2" height="1.1" fill="#f6eef4"/>
<rect x="350.8" y="47.2" width="16.2" height="2.1" fill="#f4ced3"/>
<rect x="350.8" y="49.2" width="16.2" height="1.3" fill="#f6eef4"/>
<rect x="350.8" y="50.4" width="16.2" height="1.1" fill="#f6eef4"/>
<rect x="350.8" y="51.4" width="16.2" height="2.6" fill="#f6eef4"/>
<rect x="350.8" y="53.9" width="16.2" height="1.6" fill="#f6eef4"/>
<rect x="350.8" y="55.4" width="16.2" height="2.1" fill="#f6eef4"/>
<rect x="350.8" y="57.4" width="16.2" height="1.1" fill="#f6eef4"/>
<rect x="350.8" y="58.4" width="16.2" height="1.1" fill="#f6eef4"/>
<rect x="350.8" y="59.4" width="16.2" height="0.7" fill="#f6eef4"/>
<rect x="350.8" y="60" width="16.2" height="1.6" fill="#f3adb0"/>
<rect x="350.8" y="61.5" width="16.2" height="2.1" fill="#f2a0a2"/>
<rect x="350.8" y="63.5" width="16.2" height="0.7" fill="#f2a5a7"/>
<rect x="350.8" y="64" width="16.2" height="1.1" fill="#f7ced0"/>
<rect x="350.8" y="65" width="16.2" height="2.6" fill="#f7ced0"/>
<rect x="350.8" y="67.5" width="16.2" height="0.7" fill="#f7d0d2"/>
<rect x="350.8" y="68" width="16.2" height="2.6" fill="#f2a0a2"/>
<rect x="350.8" y="70.5" width="16.2" height="0.7" fill="#f2a0a2"/>
<rect x="350.8" y="71" width="16.2" height="1.1" fill="#f6dee2"/>
<rect x="350.8" y="72" width="16.2" height="1.3" fill="#f6e1e5"/>
<rect x="350.8" y="73.2" width="16.2" height="2.1" fill="#f6e1e5"/>
<rect x="350.8" y="75.2" width="16.2" height="0.9" fill="#f6dee2"/>
<rect x="350.8" y="76" width="16.2" height="1.1" fill="#f2a0a2"/>
<rect x="350.8" y="77" width="16.2" height="1.1" fill="#f2a0a2"/>
<rect x="350.8" y="78" width="16.2" height="1.6" fill="#f2a0a2"/>
<rect x="350.8" y="79.5" width="16.2" height="0.7" fill="#f2a0a2"/>
<rect x="350.8" y="80" width="16.2" height="1.1" fill="#f7d1d4"/>
<rect x="350.8" y="81" width="16.2" height="1.6" fill="#f7ced0"/>
<rect x="350.8" y="82.5" width="16.2" height="1.3" fill="#f7ced0"/>
<rect x="350.8" y="83.7" width="16.2" height="0.4" fill="#f7ced0"/>
<rect x="350.8" y="84" width="16.2" height="1.3" fill="#f2a5a8"/>
<rect x="350.8" y="85.2" width="16.2" height="1.1" fill="#f2a0a2"/>
<rect x="350.8" y="86.2" width="16.2" height="1.9" fill="#f2a9ab"/>
<rect x="350.8" y="88" width="16.2" height="2.1" fill="#ed585a"/>
<rect x="350.8" y="90" width="16.2" height="2.6" fill="#ed585a"/>
<rect x="350.8" y="92.5" width="16.2" height="1.1" fill="#ed585a"/>
<rect x="350.8" y="93.5" width="16.2" height="1.1" fill="#ed585a"/>
<rect x="350.8" y="94.5" width="16.2" height="1.1" fill="#ed585a"/>
<rect x="350.8" y="95.5" width="16.2" height="1.3" fill="#ed585a"/>
<rect x="350.8" y="96.7" width="16.2" height="2.1" fill="#ed585a"/>
<rect x="350.8" y="98.7" width="16.2" height="1.1" fill="#ef7578"/>
<rect x="350.8" y="99.7" width="16.2" height="2.1" fill="#ed5759"/>
<rect x="350.8" y="101.7" width="16.2" height="1.6" fill="#ed585a"/>
<rect x="350.8" y="103.2" width="16.2" height="1.1" fill="#ed5759"/>
<rect x="350.8" y="104.2" width="16.2" height="2.1" fill="#ef7578"/>
<rect x="350.8" y="106.2" width="16.2" height="0.9" fill="#ed585a"/>
<rect x="350.8" y="107" width="16.2" height="1.6" fill="#f19799"/>
<rect x="350.8" y="108.5" width="16.2" height="2.1" fill="#f2a0a2"/>
<rect x="350.8" y="110.5" width="16.2" height="1.2" fill="#f18f91"/>
<rect x="350.8" y="111.6" width="16.2" height="1.6" fill="#d0cde7"/>
<rect x="350.8" y="113.1" width="16.2" height="1.3" fill="#c8c6e4"/>
<rect x="350.8" y="114.3" width="16.2" height="1.1" fill="#c8c6e4"/>
<rect x="350.8" y="115.3" width="16.2" height="1.1" fill="#d0cde7"/>
<rect x="350.8" y="116.3" width="16.2" height="2.1" fill="#c8c6e4"/>
<rect x="350.8" y="118.3" width="16.2" height="1.6" fill="#ccc9e5"/>
<rect x="350.8" y="119.8" width="16.2" height="2.1" fill="#cecbe6"/>
<rect x="350.8" y="121.8" width="16.2" height="2.6" fill="#b8b6dc"/>
<rect x="350.8" y="124.3" width="16.2" height="2.6" fill="#c8c6e4"/>
<rect x="350.8" y="126.8" width="16.2" height="1.1" fill="#c8c6e4"/>
<rect x="350.8" y="127.8" width="16.2" height="1.3" fill="#b8b6dd"/>
<rect x="350.8" y="129" width="16.2" height="1.1" fill="#c8c6e4"/>
<rect x="350.8" y="130" width="16.2" height="2.1" fill="#c8c6e4"/>
<rect x="350.8" y="132" width="16.2" height="1.3" fill="#c8c6e4"/>
<rect x="350.8" y="133.2" width="16.2" height="2.5" fill="#c8c6e4"/>
<rect x="366.9" y="19" width="16.2" height="1.6" fill="#ec4648"/>
<rect x="366.9" y="20.5" width="16.2" height="1.3" fill="#ec4648"/>
<rect x="366.9" y="21.7" width="16.2" height="1.1" fill="#ee6467"/>
<rect x="366.9" y="22.7" width="16.2" height="1.6" fill="#ec4648"/>
<rect x="366.9" y="24.2" width="16.2" height="2.6" fill="#ed5254"/>
<rect x="366.9" y="26.7" width="16.2" height="1.1" fill="#ec4648"/>
<rect x="366.9" y="27.7" width="16.2" height="0.5" fill="#ee6164"/>
<rect x="366.9" y="28" width="16.2" height="2.6" fill="#f7dde0"/>
<rect x="366.9" y="30.5" width="16.2" height="1.3" fill="#f7dbde"/>
<rect x="366.9" y="31.7" width="16.2" height="2.1" fill="#f7dbde"/>
<rect x="366.9" y="33.7" width="16.2" height="2.6" fill="#f7dbde"/>
<rect x="366.9" y="36.2" width="16.2" height="1.6" fill="#f7dbde"/>
<rect x="366.9" y="37.7" width="16.2" height="2.1" fill="#f7dce0"/>
<rect x="366.9" y="39.7" width="16.2" height="1.6" fill="#f7dbde"/>
<rect x="366.9" y="41.2" width="16.2" height="1.3" fill="#f7dbde"/>
<rect x="366.9" y="42.4" width="16.2" height="1.1" fill="#f7dbde"/>
<rect x="366.9" y="43.4" width="16.2" height="1.7" fill="#f7dbde"/>
<rect x="366.9" y="45" width="16.2" height="1.3" fill="#f3aeb0"/>
<rect x="366.9" y="46.2" width="16.2" height="1.3" fill="#f2a7a9"/>
<rect x="366.9" y="47.4" width="16.2" height="1.6" fill="#f2a0a2"/>
<rect x="366.9" y="48.9" width="16.2" height="1.6" fill="#f2a0a2"/>
<rect x="366.9" y="50.4" width="16.2" height="1.3" fill="#f2a6a8"/>
<rect x="366.9" y="51.6" width="16.2" height="2.6" fill="#f19799"/>
<rect x="366.9" y="54.1" width="16.2" height="1.1" fill="#f2a6a8"/>
<rect x="366.9" y="55.1" width="16.2" height="1.1" fill="#f2a0a2"/>
<rect x="366.9" y="56.1" width="16.2" height="1.1" fill="#f2a0a2"/>
<rect x="366.9" y="57.1" width="16.2" height="1.3" fill="#f2a8aa"/>
<rect x="366.9" y="58.3" width="16.2" height="1.6" fill="#f2a0a2"/>
<rect x="366.9" y="59.8" width="16.2" height="1.3" fill="#f2a0a2"/>
<rect x="366.9" y="61" width="16.2" height="1.1" fill="#f2a0a2"/>
<rect x="366.9" y="62" width="16.2" height="1.3" fill="#f7d3d6"/>
<rect x="366.9" y="63.2" width="16.2" height="1.6" fill="#f7ced0"/>
<rect x="366.9" y="64.7" width="16.2" height="1.3" fill="#f7ced0"/>
<rect x="366.9" y="65.9" width="16.2" height="1.1" fill="#f7ced0"/>
<rect x="366.9" y="66.9" width="16.2" height="0.2" fill="#f6bfc1"/>
<rect x="366.9" y="67" width="16.2" height="1.1" fill="#f1989a"/>
<rect x="366.9" y="68" width="16.2" height="1.3" fill="#f2a0a2"/>
<rect x="366.9" y="69.2" width="16.2" height="1.6" fill="#f18f91"/>
<rect x="366.9" y="70.7" width="16.2" height="1.4" fill="#f2a0a2"/>
<rect x="366.9" y="72" width="16.2" height="1.1" fill="#f6e0e4"/>
<rect x="366.9" y="73" width="16.2" height="1.6" fill="#f5d4d8"/>
<rect x="366.9" y="74.5" width="16.2" height="1.6" fill="#f6dee2"/>
<rect x="366.9" y="76" width="16.2" height="1.1" fill="#f2a0a2"/>
<rect x="366.9" y="77" width="16.2" height="2.1" fill="#f2a6a8"/>
<rect x="366.9" y="79" width="16.2" height="2.1" fill="#f2a0a2"/>
<rect x="366.9" y="81" width="16.2" height="1.1" fill="#f2a0a2"/>
<rect x="366.9" y="82" width="16.2" height="1.1" fill="#f7d0d3"/>
<rect x="366.9" y="83" width="16.2" height="1.6" fill="#f7ced0"/>
<rect x="366.9" y="84.5" width="16.2" height="1.3" fill="#f7ced0"/>
<rect x="366.9" y="85.7" width="16.2" height="0.4" fill="#f7d2d5"/>
<rect x="366.9" y="86" width="16.2" height="2.1" fill="#f2a0a2"/>
<rect x="366.9" y="88" width="16.2" height="2.1" fill="#f2a0a2"/>
<rect x="366.9" y="90" width="16.2" height="2.1" fill="#ebe4f1"/>
<rect x="366.9" y="92" width="16.2" height="2.6" fill="#eae4f1"/>
<rect x="366.9" y="94.5" width="16.2" height="2.6" fill="#e8e2f0"/>
<rect x="366.9" y="97" width="16.2" height="1.1" fill="#eae4f1"/>
<rect x="366.9" y="98" width="16.2" height="2.1" fill="#f2a0a2"/>
<rect x="366.9" y="100" width="16.2" height="2.1" fill="#f2a0a2"/>
<rect x="366.9" y="102" width="16.2" height="1.3" fill="#f2aaac"/>
<rect x="366.9" y="103.2" width="16.2" height="1.6" fill="#f2a8aa"/>
<rect x="366.9" y="104.7" width="16.2" height="1.6" fill="#f3acaf"/>
<rect x="366.9" y="106.2" width="16.2" height="2.1" fill="#f2a0a2"/>
<rect x="366.9" y="108.2" width="16.2" height="1.3" fill="#f2a0a2"/>
<rect x="366.9" y="109.4" width="16.2" height="2.3" fill="#f2a0a2"/>
<rect x="366.9" y="111.6" width="16.2" height="2.1" fill="#8583c4"/>
<rect x="366.9" y="113.6" width="16.2" height="1.1" fill="#8583c4"/>
<rect x="366.9" y="114.6" width="16.2" height="1.3" fill="#8583c4"/>
<rect x="366.9" y="115.8" width="16.2" height="2.6" fill="#928fc9"/>
<rect x="366.9" y="118.3" width="16.2" height="2.1" fill="#8583c4"/>
<rect x="366.9" y="120.3" width="16.2" height="1.6" fill="#8583c4"/>
<rect x="366.9" y="121.8" width="16.2" height="1.6" fill="#8583c4"/>
<rect x="366.9" y="123.3" width="16.2" height="1.3" fill="#8583c4"/>
<rect x="366.9" y="124.5" width="16.2" height="1.1" fill="#8583c4"/>
<rect x="366.9" y="125.5" width="16.2" height="1.1" fill="#8583c4"/>
<rect x="366.9" y="126.5" width="16.2" height="1.1" fill="#8280c2"/>
<rect x="366.9" y="127.5" width="16.2" height="1.3" fill="#8381c3"/>
<rect x="366.9" y="128.7" width="16.2" height="1.3" fill="#8583c4"/>
<rect x="366.9" y="129.9" width="16.2" height="2.1" fill="#8e8cc8"/>
<rect x="366.9" y="131.9" width="16.2" height="1.6" fill="#8583c4"/>
<rect x="366.9" y="133.4" width="16.2" height="1.3" fill="#928fc9"/>
<rect x="366.9" y="134.6" width="16.2" height="1.1" fill="#8583c4"/>
<rect x="382.9" y="19" width="16.2" height="1.3" fill="#8381c3"/>
<rect x="382.9" y="20.2" width="16.2" height="1.3" fill="#918fc9"/>
<rect x="382.9" y="21.4" width="16.2" height="1.6" fill="#8381c3"/>
<rect x="382.9" y="22.9" width="16.2" height="2.1" fill="#807ec2"/>
<rect x="382.9" y="24.9" width="16.2" height="1.6" fill="#8d8ac7"/>
<rect x="382.9" y="26.4" width="16.2" height="2.1" fill="#8381c3"/>
<rect x="382.9" y="28.4" width="16.2" height="1.1" fill="#8381c3"/>
<rect x="382.9" y="29.4" width="16.2" height="1.3" fill="#807ec2"/>
<rect x="382.9" y="30.6" width="16.2" height="1.3" fill="#8381c3"/>
<rect x="382.9" y="31.8" width="16.2" height="1.6" fill="#8381c3"/>
<rect x="382.9" y="33.3" width="16.2" height="2.1" fill="#8381c3"/>
<rect x="382.9" y="35.3" width="16.2" height="2.1" fill="#8e8bc8"/>
<rect x="382.9" y="37.3" width="16.2" height="1.1" fill="#817fc2"/>
<rect x="382.9" y="38.3" width="16.2" height="1.3" fill="#8381c3"/>
<rect x="382.9" y="39.5" width="16.2" height="1.3" fill="#8381c3"/>
<rect x="382.9" y="40.7" width="16.2" height="1.1" fill="#918ec9"/>
<rect x="382.9" y="41.7" width="16.2" height="1.1" fill="#8381c3"/>
<rect x="382.9" y="42.7" width="16.2" height="2.1" fill="#8381c3"/>
<rect x="382.9" y="44.7" width="16.2" height="1.6" fill="#8381c3"/>
<rect x="382.9" y="46.2" width="16.2" height="1.3" fill="#8381c3"/>
<rect x="382.9" y="47.4" width="16.2" height="1.6" fill="#8381c3"/>
<rect x="382.9" y="48.9" width="16.2" height="2.1" fill="#918ec9"/>
<rect x="382.9" y="50.9" width="16.2" height="1.1" fill="#8381c3"/>
<rect x="382.9" y="51.9" width="16.2" height="1.6" fill="#9693cb"/>
<rect x="382.9" y="53.4" width="16.2" height="1.3" fill="#8381c3"/>
<rect x="382.9" y="54.6" width="16.2" height="2.1" fill="#908dc9"/>
<rect x="382.9" y="56.6" width="16.2" height="1.6" fill="#8381c3"/>
<rect x="382.9" y="58.1" width="16.2" height="2.6" fill="#8381c3"/>
<rect x="382.9" y="60.6" width="16.2" height="2.1" fill="#817fc2"/>
<rect x="382.9" y="62.6" width="16.2" height="2.6" fill="#8381c3"/>
<rect x="382.9" y="65.1" width="16.2" height="1.6" fill="#8381c3"/>
<rect x="382.9" y="66.6" width="16.2" height="2.6" fill="#8b89c6"/>
<rect x="382.9" y="69.1" width="16.2" height="1.6" fill="#8381c3"/>
<rect x="382.9" y="70.6" width="16.2" height="1.3" fill="#8381c3"/>
<rect x="382.9" y="71.8" width="16.2" height="1.6" fill="#8381c3"/>
<rect x="382.9" y="73.3" width="16.2" height="2.1" fill="#8381c3"/>
<rect x="382.9" y="75.3" width="16.2" height="2.6" fill="#807ec2"/>
<rect x="382.9" y="77.8" width="16.2" height="1.1" fill="#8381c3"/>
<rect x="382.9" y="78.8" width="16.2" height="2.1" fill="#8f8dc8"/>
<rect x="382.9" y="80.8" width="16.2" height="1.1" fill="#8381c3"/>
<rect x="382.9" y="81.8" width="16.2" height="1.6" fill="#8381c3"/>
<rect x="382.9" y="83.3" width="16.2" height="1.3" fill="#8381c3"/>
<rect x="382.9" y="84.5" width="16.2" height="1.6" fill="#8381c3"/>
<rect x="382.9" y="86" width="16.2" height="1.3" fill="#8381c3"/>
<rect x="382.9" y="87.2" width="16.2" height="1.1" fill="#8381c3"/>
<rect x="382.9" y="88.2" width="16.2" height="1.3" fill="#8381c3"/>
<rect x="382.9" y="89.4" width="16.2" height="2.1" fill="#8381c3"/>
<rect x="382.9" y="91.4" width="16.2" height="1.3" fill="#8381c3"/>
<rect x="382.9" y="92.6" width="16.2" height="1.6" fill="#8381c3"/>
<rect x="382.9" y="94.1" width="16.2" height="2.1" fill="#8381c3"/>
<rect x="382.9" y="96.1" width="16.2" height="1.3" fill="#8381c3"/>
<rect x="382.9" y="97.3" width="16.2" height="1.3" fill="#8381c3"/>
<rect x="382.9" y="98.5" width="16.2" height="1.1" fill="#8c8ac7"/>
<rect x="382.9" y="99.5" width="16.2" height="2.1" fill="#8381c3"/>
<rect x="382.9" y="101.5" width="16.2" height="1.1" fill="#8381c3"/>
<rect x="382.9" y="102.5" width="16.2" height="2.1" fill="#8381c3"/>
<rect x="382.9" y="104.5" width="16.2" height="2.6" fill="#8381c3"/>
<rect x="382.9" y="107" width="16.2" height="1.6" fill="#8381c3"/>
<rect x="382.9" y="108.5" width="16.2" height="2.1" fill="#807ec2"/>
<rect x="382.9" y="110.5" width="16.2" height="1.1" fill="#8381c3"/>
<rect x="382.9" y="111.5" width="16.2" height="0.2" fill="#8381c3"/>
<rect x="382.9" y="111.6" width="16.2" height="1.1" fill="#f2a0a2"/>
<rect x="382.9" y="112.6" width="16.2" height="1.6" fill="#f2a0a2"/>
<rect x="382.9" y="114.1" width="16.2" height="1.3" fill="#f2a0a2"/>
<rect x="382.9" y="115.3" width="16.2" height="2.6" fill="#f2a0a2"/>
<rect x="382.9" y="117.8" width="16.2" height="1.3" fill="#f2a0a2"/>
<rect x="382.9" y="119" width="16.2" height="1.6" fill="#f2a0a2"/>
<rect x="382.9" y="120.5" width="16.2" height="1.3" fill="#f2a0a2"/>
<rect x="382.9" y="121.7" width="16.2" height="2.6" fill="#f2a0a2"/>
<rect x="382.9" y="124.2" width="16.2" height="2.6" fill="#f3aeb1"/>
<rect x="382.9" y="126.7" width="16.2" height="2.6" fill="#f2a0a2"/>
<rect x="382.9" y="129.2" width="16.2" height="2.6" fill="#f29a9c"/>
<rect x="382.9" y="131.7" width="16.2" height="1.1" fill="#f2a0a2"/>
<rect x="382.9" y="132.7" width="16.2" height="1.1" fill="#f2a0a2"/>
<rect x="382.9" y="133.7" width="16.2" height="1.1" fill="#f2a7a9"/>
<rect x="382.9" y="134.7" width="16.2" height="1" fill="#f2a6a8"/>
<rect x="398.9" y="19" width="16.2" height="1.1" fill="#7472bc"/>
<rect x="398.9" y="20" width="16.2" height="1.3" fill="#7472bc"/>
<rect x="398.9" y="21.2" width="16.2" height="1.1" fill="#7472bc"/>
<rect x="398.9" y="22.2" width="16.2" height="1.6" fill="#7472bc"/>
<rect x="398.9" y="23.7" width="16.2" height="1.6" fill="#7472bc"/>
<rect x="398.9" y="25.2" width="16.2" height="1.6" fill="#7d7bc0"/>
<rect x="398.9" y="26.7" width="16.2" height="2.6" fill="#8e8ac7"/>
<rect x="398.9" y="29.2" width="16.2" height="1.3" fill="#7472bc"/>
<rect x="398.9" y="30.4" width="16.2" height="1.6" fill="#7472bc"/>
<rect x="398.9" y="31.9" width="16.2" height="2.1" fill="#8784c4"/>
<rect x="398.9" y="33.9" width="16.2" height="2.6" fill="#7472bc"/>
<rect x="398.9" y="36.4" width="16.2" height="1.3" fill="#7472bc"/>
<rect x="398.9" y="37.6" width="16.2" height="2.1" fill="#7472bc"/>
<rect x="398.9" y="39.6" width="16.2" height="1.1" fill="#7472bc"/>
<rect x="398.9" y="40.6" width="16.2" height="2.1" fill="#8684c4"/>
<rect x="398.9" y="42.6" width="16.2" height="1.3" fill="#7472bc"/>
<rect x="398.9" y="43.8" width="16.2" height="2.1" fill="#7472bc"/>
<rect x="398.9" y="45.8" width="16.2" height="1.3" fill="#7472bc"/>
<rect x="398.9" y="47" width="16.2" height="2.1" fill="#7472bc"/>
<rect x="398.9" y="49" width="16.2" height="1.3" fill="#8d8ac7"/>
<rect x="398.9" y="50.2" width="16.2" height="1.3" fill="#8784c4"/>
<rect x="398.9" y="51.4" width="16.2" height="1.3" fill="#7472bc"/>
<rect x="398.9" y="52.6" width="16.2" height="2.6" fill="#7472bc"/>
<rect x="398.9" y="55.1" width="16.2" height="2.6" fill="#7472bc"/>
<rect x="398.9" y="57.6" width="16.2" height="1.3" fill="#7472bc"/>
<rect x="398.9" y="58.8" width="16.2" height="1.3" fill="#7472bc"/>
<rect x="398.9" y="60" width="16.2" height="1.3" fill="#7472bc"/>
<rect x="398.9" y="61.2" width="16.2" height="2.1" fill="#7472bc"/>
<rect x="398.9" y="63.2" width="16.2" height="1.3" fill="#817fc2"/>
<rect x="398.9" y="64.4" width="16.2" height="1.6" fill="#7d7bc0"/>
<rect x="398.9" y="65.9" width="16.2" height="2.1" fill="#7472bc"/>
<rect x="398.9" y="67.9" width="16.2" height="1.6" fill="#7472bc"/>
<rect x="398.9" y="69.4" width="16.2" height="2.6" fill="#7472bc"/>
<rect x="398.9" y="71.9" width="16.2" height="1.1" fill="#7472bc"/>
<rect x="398.9" y="72.9" width="16.2" height="1.6" fill="#7d7ac0"/>
<rect x="398.9" y="74.4" width="16.2" height="2.6" fill="#7472bc"/>
<rect x="398.9" y="76.9" width="16.2" height="1.3" fill="#7472bc"/>
<rect x="398.9" y="78.1" width="16.2" height="1.3" fill="#7472bc"/>
<rect x="398.9" y="79.3" width="16.2" height="2.6" fill="#7472bc"/>
<rect x="398.9" y="81.8" width="16.2" height="2.1" fill="#7472bc"/>
<rect x="398.9" y="83.8" width="16.2" height="1.1" fill="#7d7bc0"/>
<rect x="398.9" y="84.8" width="16.2" height="2.1" fill="#7472bc"/>
<rect x="398.9" y="86.8" width="16.2" height="1.1" fill="#7472bc"/>
<rect x="398.9" y="87.8" width="16.2" height="1.3" fill="#7472bc"/>
<rect x="398.9" y="89" width="16.2" height="2.1" fill="#7472bc"/>
<rect x="398.9" y="91" width="16.2" height="2.1" fill="#7472bc"/>
<rect x="398.9" y="93" width="16.2" height="1.6" fill="#7472bc"/>
<rect x="398.9" y="94.5" width="16.2" height="1.6" fill="#7472bc"/>
<rect x="398.9" y="96" width="16.2" height="1.1" fill="#7472bc"/>
<rect x="398.9" y="97" width="16.2" height="1.1" fill="#7472bc"/>
<rect x="398.9" y="98" width="16.2" height="1.6" fill="#8b88c6"/>
<rect x="398.9" y="99.5" width="16.2" height="2.6" fill="#8482c3"/>
<rect x="398.9" y="102" width="16.2" height="2.6" fill="#8885c5"/>
<rect x="398.9" y="104.5" width="16.2" height="1.6" fill="#7472bc"/>
<rect x="398.9" y="106" width="16.2" height="1.1" fill="#8886c5"/>
<rect x="398.9" y="107" width="16.2" height="1.1" fill="#8c89c6"/>
<rect x="398.9" y="108" width="16.2" height="1.3" fill="#7472bc"/>
<rect x="398.9" y="109.2" width="16.2" height="1.1" fill="#7472bc"/>
<rect x="398.9" y="110.2" width="16.2" height="1.5" fill="#7472bc"/>
<rect x="398.9" y="111.6" width="16.2" height="1.3" fill="#ee6264"/>
<rect x="398.9" y="112.8" width="16.2" height="2.1" fill="#ee6668"/>
<rect x="398.9" y="114.8" width="16.2" height="1.6" fill="#ef7375"/>
<rect x="398.9" y="116.3" width="16.2" height="2.6" fill="#ef7375"/>
<rect x="398.9" y="118.8" width="16.2" height="2.1" fill="#ee6668"/>
<rect x="398.9" y="120.8" width="16.2" height="1.3" fill="#ee6668"/>
<rect x="398.9" y="122" width="16.2" height="1.6" fill="#ee6668"/>
<rect x="398.9" y="123.5" width="16.2" height="2.1" fill="#ee6668"/>
<rect x="398.9" y="125.5" width="16.2" height="1.3" fill="#ee6668"/>
<rect x="398.9" y="126.7" width="16.2" height="2.1" fill="#ef7e80"/>
<rect x="398.9" y="128.7" width="16.2" height="1.6" fill="#ee6668"/>
<rect x="398.9" y="130.2" width="16.2" height="1.1" fill="#ee6264"/>
<rect x="398.9" y="131.2" width="16.2" height="1.3" fill="#ee6668"/>
<rect x="398.9" y="132.4" width="16.2" height="2.6" fill="#ee6365"/>
<rect x="398.9" y="134.9" width="16.2" height="0.8" fill="#ee6668"/>
<rect x="415" y="19" width="16.2" height="2.1" fill="#7270b9"/>
<rect x="415" y="21" width="16.2" height="1.3" fill="#6a68b5"/>
<rect x="415" y="22.2" width="16.2" height="1.1" fill="#6a68b5"/>
<rect x="415" y="23.2" width="16.2" height="1.6" fill="#6a68b5"/>
<rect x="415" y="24.7" width="16.2" height="1.1" fill="#6a68b5"/>
<rect x="415" y="25.7" width="16.2" height="1.6" fill="#6b69b6"/>
<rect x="415" y="27.2" width="16.2" height="1.6" fill="#6a68b5"/>
<rect x="415" y="28.7" width="16.2" height="1.6" fill="#6a68b5"/>
<rect x="415" y="30.2" width="16.2" height="1.6" fill="#6a68b5"/>
<rect x="415" y="31.7" width="16.2" height="1.6" fill="#7774bb"/>
<rect x="415" y="33.2" width="16.2" height="2.1" fill="#6a68b5"/>
<rect x="415" y="35.2" width="16.2" height="2.6" fill="#6a68b5"/>
<rect x="415" y="37.7" width="16.2" height="1.3" fill="#6a68b5"/>
<rect x="415" y="38.9" width="16.2" height="1.1" fill="#6a68b5"/>
<rect x="415" y="39.9" width="16.2" height="1.3" fill="#6a68b5"/>
<rect x="415" y="41.1" width="16.2" height="1.6" fill="#6c6ab6"/>
<rect x="415" y="42.6" width="16.2" height="2.1" fill="#6a68b5"/>
<rect x="415" y="44.6" width="16.2" height="1.6" fill="#7d7abe"/>
<rect x="415" y="46.1" width="16.2" height="1.6" fill="#6a68b5"/>
<rect x="415" y="47.6" width="16.2" height="1.1" fill="#6a68b5"/>
<rect x="415" y="48.6" width="16.2" height="1.3" fill="#6a68b5"/>
<rect x="415" y="49.8" width="16.2" height="1.3" fill="#6a68b5"/>
<rect x="415" y="51" width="16.2" height="2.6" fill="#6a68b5"/>
<rect x="415" y="53.5" width="16.2" height="1.1" fill="#6a68b5"/>
<rect x="415" y="54.5" width="16.2" height="2.6" fill="#6a68b5"/>
<rect x="415" y="57" width="16.2" height="1.6" fill="#6a68b5"/>
<rect x="415" y="58.5" width="16.2" height="2.1" fill="#6a68b5"/>
<rect x="415" y="60.5" width="16.2" height="1.3" fill="#6a68b5"/>
<rect x="415" y="61.7" width="16.2" height="1.6" fill="#6b69b6"/>
<rect x="415" y="63.2" width="16.2" height="1.6" fill="#6a68b5"/>
<rect x="415" y="64.7" width="16.2" height="1.1" fill="#6b69b5"/>
<rect x="415" y="65.7" width="16.2" height="1.1" fill="#6a68b5"/>
<rect x="415" y="66.7" width="16.2" height="1.1" fill="#7b79bd"/>
<rect x="415" y="67.7" width="16.2" height="2.1" fill="#6b69b6"/>
<rect x="415" y="69.7" width="16.2" height="2.1" fill="#6b69b6"/>
<rect x="415" y="71.7" width="16.2" height="2.6" fill="#6a68b5"/>
<rect x="415" y="74.2" width="16.2" height="1.6" fill="#6a68b5"/>
<rect x="415" y="75.7" width="16.2" height="1.6" fill="#6a68b5"/>
<rect x="415" y="77.2" width="16.2" height="1.6" fill="#6a68b5"/>
<rect x="415" y="78.7" width="16.2" height="1.1" fill="#6a68b5"/>
<rect x="415" y="79.7" width="16.2" height="2.6" fill="#7b78bd"/>
<rect x="415" y="82.2" width="16.2" height="1.1" fill="#6a68b5"/>
<rect x="415" y="83.2" width="16.2" height="1.3" fill="#7a77bc"/>
<rect x="415" y="84.4" width="16.2" height="1.6" fill="#6a68b5"/>
<rect x="415" y="85.9" width="16.2" height="1.1" fill="#6a68b5"/>
<rect x="415" y="86.9" width="16.2" height="2.6" fill="#7e7bbe"/>
<rect x="415" y="89.4" width="16.2" height="2.1" fill="#7572ba"/>
<rect x="415" y="91.4" width="16.2" height="1.1" fill="#7875bb"/>
<rect x="415" y="92.4" width="16.2" height="2.6" fill="#6a68b5"/>
<rect x="415" y="94.9" width="16.2" height="1.6" fill="#827fc0"/>
<rect x="415" y="96.4" width="16.2" height="2.6" fill="#6a68b5"/>
<rect x="415" y="98.9" width="16.2" height="1.3" fill="#6a68b5"/>
<rect x="415" y="100.1" width="16.2" height="2.1" fill="#7f7cbe"/>
<rect x="415" y="102.1" width="16.2" height="1.1" fill="#6a68b5"/>
<rect x="415" y="103.1" width="16.2" height="1.3" fill="#6c6ab6"/>
<rect x="415" y="104.3" width="16.2" height="2.6" fill="#6a68b5"/>
<rect x="415" y="106.8" width="16.2" height="1.3" fill="#6a68b5"/>
<rect x="415" y="108" width="16.2" height="2.6" fill="#8380c0"/>
<rect x="415" y="110.5" width="16.2" height="1.2" fill="#6a68b5"/>
<rect x="415" y="111.6" width="16.2" height="2.6" fill="#f3aeb0"/>
<rect x="415" y="114.1" width="16.2" height="1.3" fill="#f4babd"/>
<rect x="415" y="115.3" width="16.2" height="2.6" fill="#f3aeb0"/>
<rect x="415" y="117.8" width="16.2" height="1.1" fill="#f3aeb0"/>
<rect x="415" y="118.8" width="16.2" height="1.6" fill="#f3b2b5"/>
<rect x="415" y="120.3" width="16.2" height="2.6" fill="#f3b6b9"/>
<rect x="415" y="122.8" width="16.2" height="1.3" fill="#f3aeb0"/>
<rect x="415" y="124" width="16.2" height="1.3" fill="#f3aeb0"/>
<rect x="415" y="125.2" width="16.2" height="1.3" fill="#f3b6b8"/>
<rect x="415" y="126.4" width="16.2" height="1.1" fill="#f3aeb0"/>
<rect x="415" y="127.4" width="16.2" height="2.6" fill="#f3aeb0"/>
<rect x="415" y="129.9" width="16.2" height="1.2" fill="#f2a2a4"/>
<rect x="415" y="131" width="16.2" height="2.6" fill="#ec4648"/>
<rect x="415" y="133.5" width="16.2" height="1.1" fill="#ed5052"/>
<rect x="415" y="134.5" width="16.2" height="1.1" fill="#ec4648"/>
<rect x="329.6" y="19.2" width="4.6" height="116.2" fill="#2a2a2a"/>
<path d="M329.9 19.5V20.6M329.7 21.3V22.6M329.4 23V24.1M333.3 25.3V27.4M332.7 28V29.9M331.2 30.9V32.5M329.5 33.2V34M331 35.1V37.5M332.9 38.1V39.5M331.8 39.9V41.7M332.7 42.6V45.2M331.6 46.3V47.7M331.6 48.2V50.1M333.2 50.5V52.4M329.6 52.8V54.4M331.4 55.4V57.2M331.4 57.7V59.4M332.6 60.2V61.9M333.5 62.4V63.9M332.1 64.2V66.3M330.6 67.2V69.5M331.1 70.2V72.5M331.4 72.7V75M330.4 75.7V77.7M333 78.9V80.8M333.8 81.7V83.8M330.4 84.7V86.6M330.9 87.2V88.6M333 89V91.3M332.4 92V94M328.9 94.3V96.8M331.6 97.6V99.8M333.7 100.3V102M332.2 102.8V105M332.5 106.2V107.2M329.5 108V109.8M333.5 110V112.2M333.7 113.3V115.2M331.3 116.3V117.6M333.4 118.7V120.2M333.1 120.6V122.8M331.6 123.3V124.5M329.3 124.8V127.3M331 127.6V128.7M333.1 129.9V132.1M331.3 133.1V134M330.7 134.9V136.5" stroke="#fff" stroke-width="0.35" fill="none" opacity="0.8"/>
<path d="M334.4 19.5H329.6V21.8H334.4M334.4 23.1H329.5V24.9H334.4M334.4 25.5H328.7V28.5H334.4M334.4 29.4H329.6V33H334.4M334.4 34H328.3V37.1H334.4M334.4 38.1H328.4V40.2H334.4M334.4 41.5H329.1V44.8H334.4M334.4 46.5H328.7V48.1H334.4M334.4 50.9H328.4V53.1H334.4M334.4 55.6H328.8V59.9H334.4M334.4 61.5H328.4V65.8H334.4M334.4 68.3H328.4V72.3H334.4M334.4 72.8H329.8V76.3H334.4M334.4 78.4H329V82.8H334.4M334.4 83.7H328.5V85.4H334.4M334.4 87.2H328.7V90.9H334.4M334.4 91.8H329V96.2H334.4M334.4 99H328.3V103.7H334.4M334.4 106.3H328.7V109.4H334.4M334.4 110.4H328.7V113.6H334.4M334.4 115H328.9V118.6H334.4M334.4 121.6H328.4V123.8H334.4M334.4 124.8H329.5V130.7H334.4M334.4 132.9H329.8V137.2H334.4" stroke="#333" stroke-width="0.5" fill="none"/>
<path d="M328.8 50.2H324.8V126.4H328.8M328.2 30V70M328.4 113V133" stroke="#333" stroke-width="0.55" fill="none"/>
<path d="M358.8 19.0V16.6H374.9V19.0M342.8 19.0V14.5H366.9V16.6M406.9 19.0V18.2H423V19.0M390.9 19.0V17.2H415V18.2M354.8 14.5V9.4H402.9V17.2" stroke="#333" stroke-width="0.6" fill="none"/>
<text transform="translate(341.5 136.6) rotate(90)" font-size="3.6" fill="#333" stroke="#333" stroke-width="0.15">HS2</text>
<text transform="translate(357.5 136.6) rotate(90)" font-size="3.6" fill="#333" stroke="#333" stroke-width="0.15">HS3</text>
<text transform="translate(373.6 136.6) rotate(90)" font-size="3.6" fill="#333" stroke="#333" stroke-width="0.15">HS1</text>
<text transform="translate(389.6 136.6) rotate(90)" font-size="3.6" fill="#333" stroke="#333" stroke-width="0.15">NC1</text>
<text transform="translate(405.6 136.6) rotate(90)" font-size="3.6" fill="#333" stroke="#333" stroke-width="0.15">NC3</text>
<text transform="translate(421.7 136.6) rotate(90)" font-size="3.6" fill="#333" stroke="#333" stroke-width="0.15">NC2</text>
<defs><linearGradient id="hg" x1="0" y1="0" x2="0" y2="1"><stop offset="0" stop-color="#e83a3a"/><stop offset="0.5" stop-color="#f6f0f4"/><stop offset="1" stop-color="#3a3a9a"/></linearGradient><linearGradient id="dg" x1="0" y1="0" x2="0" y2="1"><stop offset="0" stop-color="#e23a2a"/><stop offset="0.5" stop-color="#9a6a2a"/><stop offset="1" stop-color="#4e8a30"/></linearGradient></defs>
<rect x="434.4" y="18.8" width="4.4" height="20.6" rx="2" fill="url(#hg)"/>
<text x="441.5" y="21.6" font-size="5" text-anchor="start" font-weight="normal" fill="#333" stroke="#333" stroke-width="0.11" >2</text>
<text x="441.5" y="30.6" font-size="5" text-anchor="start" font-weight="normal" fill="#333" stroke="#333" stroke-width="0.11" >0</text>
<text x="439.8" y="39.6" font-size="5" text-anchor="start" font-weight="normal" fill="#333" stroke="#333" stroke-width="0.11" >-2</text>
<path d="M432.9 51.9h3.4M432.9 70h3.4" stroke="#222" stroke-width="0.6"/>
<text x="437.4" y="53.6" font-size="5" text-anchor="start" font-weight="normal" fill="#222" stroke="#222" stroke-width="0.11" >Clu</text>
<text x="437.4" y="71.7" font-size="5" text-anchor="start" font-weight="normal" fill="#222" stroke="#222" stroke-width="0.11" >Fth1</text>
<path d="M431.2 113L434.5 113L436.3 111.6M431.2 115.6L434.5 115.6L436.3 115.8M431.2 118.4L434.5 118.4L436.3 119.7M431.2 121.5L434.5 121.5L436.3 124.3M431.2 124.8L434.5 124.8L436.3 128.3M431.2 128.6L434.5 128.6L436.3 132.9" stroke="#333" stroke-width="0.45" fill="none"/>
<text x="437.4" y="113.5" font-size="4.8" text-anchor="start" font-weight="normal" fill="#222" stroke="#222" stroke-width="0.11" >Cyp17a1</text>
<text x="437.4" y="117.7" font-size="4.8" text-anchor="start" font-weight="normal" fill="#222" stroke="#222" stroke-width="0.11" >Abm70b</text>
<text x="437.4" y="121.6" font-size="4.8" text-anchor="start" font-weight="normal" fill="#222" stroke="#222" stroke-width="0.11" >Cox7b2</text>
<text x="437.4" y="126.2" font-size="4.8" text-anchor="start" font-weight="normal" fill="#222" stroke="#222" stroke-width="0.11" >Hist1h2ba</text>
<text x="437.4" y="130.2" font-size="4.8" text-anchor="start" font-weight="normal" fill="#222" stroke="#222" stroke-width="0.11" >mt-Nd6</text>
<text x="437.4" y="134.8" font-size="4.8" text-anchor="start" font-weight="normal" fill="#222" stroke="#222" stroke-width="0.11" >Pabpc6</text>
<path d="M127.5 172H230.6M127.5 182.1H230.6M127.5 192.2H230.6M127.5 202.4H230.6M127.5 212.5H230.6M127.5 222.6H230.6M127.5 232.7H230.6M127.5 242.8H230.6M127.5 253H230.6M127.5 263.1H230.6M127.5 273.2H230.6M127.5 283.3H230.6M127.5 293.4H230.6M127.5 303.6H230.6M127.5 313.7H230.6M127.5 323.8H230.6M127.5 333.9H230.6M127.5 344H230.6M127.5 354.2H230.6M127.5 364.3H230.6M146.6 165.9V369.0M167.6 165.9V369.0M188.5 165.9V369.0M209.5 165.9V369.0" stroke="#cdc3c1" stroke-width="0.85" fill="none"/>
<rect x="127.5" y="165.9" width="103.1" height="203.1" fill="none" stroke="#555" stroke-width="0.8"/>
<path d="M127.5 172h-1.3M127.5 182.1h-1.3M127.5 192.2h-1.3M127.5 202.4h-1.3M127.5 212.5h-1.3M127.5 222.6h-1.3M127.5 232.7h-1.3M127.5 242.8h-1.3M127.5 253h-1.3M127.5 263.1h-1.3M127.5 273.2h-1.3M127.5 283.3h-1.3M127.5 293.4h-1.3M127.5 303.6h-1.3M127.5 313.7h-1.3M127.5 323.8h-1.3M127.5 333.9h-1.3M127.5 344h-1.3M127.5 354.2h-1.3M127.5 364.3h-1.3M146.6 369.0v1.3M167.6 369.0v1.3M188.5 369.0v1.3M209.5 369.0v1.3" stroke="#555" stroke-width="0.6"/>
<text x="123.6" y="174" font-size="5.74" text-anchor="end" font-weight="normal" fill="#333" stroke="#333" stroke-width="0.13" >positive regulation of biological process</text>
<text x="123.6" y="184.1" font-size="5.74" text-anchor="end" font-weight="normal" fill="#333" stroke="#333" stroke-width="0.13" >positive regulation of cellular process</text>
<text x="123.6" y="194.2" font-size="5.74" text-anchor="end" font-weight="normal" fill="#333" stroke="#333" stroke-width="0.13" >single-multicellular organism process</text>
<text x="123.6" y="204.4" font-size="5.74" text-anchor="end" font-weight="normal" fill="#333" stroke="#333" stroke-width="0.13" >cellular response to chemical stimulus</text>
<text x="123.6" y="214.5" font-size="5.74" text-anchor="end" font-weight="normal" fill="#333" stroke="#333" stroke-width="0.13" >regulation of multicellular organismal process</text>
<text x="123.6" y="224.6" font-size="5.74" text-anchor="end" font-weight="normal" fill="#333" stroke="#333" stroke-width="0.13" >regulation of response to stimulus</text>
<text x="123.6" y="234.7" font-size="5.74" text-anchor="end" font-weight="normal" fill="#333" stroke="#333" stroke-width="0.13" >regulation of cell communication</text>
<text x="123.6" y="244.8" font-size="5.74" text-anchor="end" font-weight="normal" fill="#333" stroke="#333" stroke-width="0.13" >regulation of signaling</text>
<text x="123.6" y="255" font-size="5.74" text-anchor="end" font-weight="normal" fill="#333" stroke="#333" stroke-width="0.13" >regulation of developmental process</text>
<text x="123.6" y="265.1" font-size="5.74" text-anchor="end" font-weight="normal" fill="#333" stroke="#333" stroke-width="0.13" >regulation of signal transduction</text>
<text x="123.6" y="275.2" font-size="5.74" text-anchor="end" font-weight="normal" fill="#333" stroke="#333" stroke-width="0.13" >cell migration</text>
<text x="123.6" y="285.3" font-size="5.74" text-anchor="end" font-weight="normal" fill="#333" stroke="#333" stroke-width="0.13" >protein binding</text>
<text x="123.6" y="295.4" font-size="5.74" text-anchor="end" font-weight="normal" fill="#333" stroke="#333" stroke-width="0.13" >locomotion</text>
<text x="123.6" y="305.6" font-size="5.74" text-anchor="end" font-weight="normal" fill="#333" stroke="#333" stroke-width="0.13" >system development</text>
<text x="123.6" y="315.7" font-size="5.74" text-anchor="end" font-weight="normal" fill="#333" stroke="#333" stroke-width="0.13" >cellular response to organic substance</text>
<text x="123.6" y="325.8" font-size="5.74" text-anchor="end" font-weight="normal" fill="#333" stroke="#333" stroke-width="0.13" >localization</text>
<text x="123.6" y="335.9" font-size="5.74" text-anchor="end" font-weight="normal" fill="#333" stroke="#333" stroke-width="0.13" >positive regulation of metabolic process</text>
<text x="123.6" y="346" font-size="5.74" text-anchor="end" font-weight="normal" fill="#333" stroke="#333" stroke-width="0.13" >intracellular signal transduction</text>
<text x="123.6" y="356.2" font-size="5.74" text-anchor="end" font-weight="normal" fill="#333" stroke="#333" stroke-width="0.13" >regulation of locomotion</text>
<text x="123.6" y="366.3" font-size="5.74" text-anchor="end" font-weight="normal" fill="#333" stroke="#333" stroke-width="0.13" >negative regulation of biological process</text>
<text x="146.6" y="375.5" font-size="3.9" text-anchor="middle" font-weight="normal" fill="#444" stroke="#444" stroke-width="0.09" >0.10</text>
<text x="167.6" y="375.5" font-size="3.9" text-anchor="middle" font-weight="normal" fill="#444" stroke="#444" stroke-width="0.09" >0.12</text>
<text x="188.5" y="375.5" font-size="3.9" text-anchor="middle" font-weight="normal" fill="#444" stroke="#444" stroke-width="0.09" >0.14</text>
<text x="209.5" y="375.5" font-size="3.9" text-anchor="middle" font-weight="normal" fill="#444" stroke="#444" stroke-width="0.09" >0.16</text>
<text x="176.6" y="383.3" font-size="5.5" text-anchor="middle" font-weight="bold" fill="#222" >Rich Factor</text>
<text x="117.8" y="162.1" font-size="6.53" text-anchor="start" font-weight="bold" fill="#222" >Top 20 of GO terms Enrichment (up)</text>
<circle cx="150.9" cy="172" r="2.9" fill="#e3392f"/>
<circle cx="152.8" cy="182.1" r="2.6" fill="#b5452a"/>
<circle cx="148.6" cy="192.2" r="2.8" fill="#8c4a24"/>
<circle cx="175.6" cy="202.4" r="1.6" fill="#7a4a1e"/>
<circle cx="172.3" cy="212.5" r="1.6" fill="#7c4a20"/>
<circle cx="162.9" cy="222.6" r="1.9" fill="#6a5a22"/>
<circle cx="169.1" cy="232.7" r="1.7" fill="#626822"/>
<circle cx="168.3" cy="242.8" r="1.7" fill="#5e6a24"/>
<circle cx="175.1" cy="253" r="1.5" fill="#5a7426"/>
<circle cx="174" cy="263.1" r="1.5" fill="#5a7628"/>
<circle cx="206.4" cy="273.2" r="0.8" fill="#5a7a28"/>
<circle cx="133.8" cy="283.3" r="3.9" fill="#56752a"/>
<circle cx="192.4" cy="293.4" r="1.0" fill="#5a7a28"/>
<circle cx="154.4" cy="303.6" r="2.2" fill="#56782a"/>
<circle cx="181.2" cy="313.7" r="1.1" fill="#5a7a28"/>
<circle cx="147.5" cy="323.8" r="2.8" fill="#56782a"/>
<circle cx="160" cy="333.9" r="2.0" fill="#56782a"/>
<circle cx="179" cy="344" r="1.5" fill="#567a28"/>
<circle cx="224.5" cy="354.2" r="0.7" fill="#5a7a28"/>
<circle cx="150.6" cy="364.3" r="2.7" fill="#56782a"/>
<path d="M348.3 172.1H451.6M348.3 182.2H451.6M348.3 192.3H451.6M348.3 202.4H451.6M348.3 212.5H451.6M348.3 222.6H451.6M348.3 232.7H451.6M348.3 242.8H451.6M348.3 252.9H451.6M348.3 263H451.6M348.3 273.1H451.6M348.3 283.2H451.6M348.3 293.3H451.6M348.3 303.4H451.6M348.3 313.5H451.6M348.3 323.6H451.6M348.3 333.7H451.6M348.3 343.8H451.6M348.3 353.9H451.6M348.3 364H451.6M364.5 165.6V370.1M395.6 165.6V370.1M426.8 165.6V370.1" stroke="#cdc3c1" stroke-width="0.85" fill="none"/>
<rect x="348.3" y="165.6" width="103.3" height="204.5" fill="none" stroke="#555" stroke-width="0.8"/>
<path d="M348.3 172.1h-1.3M348.3 182.2h-1.3M348.3 192.3h-1.3M348.3 202.4h-1.3M348.3 212.5h-1.3M348.3 222.6h-1.3M348.3 232.7h-1.3M348.3 242.8h-1.3M348.3 252.9h-1.3M348.3 263h-1.3M348.3 273.1h-1.3M348.3 283.2h-1.3M348.3 293.3h-1.3M348.3 303.4h-1.3M348.3 313.5h-1.3M348.3 323.6h-1.3M348.3 333.7h-1.3M348.3 343.8h-1.3M348.3 353.9h-1.3M348.3 364h-1.3M364.5 370.1v1.3M395.6 370.1v1.3M426.8 370.1v1.3" stroke="#555" stroke-width="0.6"/>
<text x="344.5" y="174.1" font-size="5.74" text-anchor="end" font-weight="normal" fill="#333" stroke="#333" stroke-width="0.13" >meiotic cell cycle</text>
<text x="344.5" y="184.2" font-size="5.74" text-anchor="end" font-weight="normal" fill="#333" stroke="#333" stroke-width="0.13" >meiotic cell cycle process</text>
<text x="344.5" y="194.3" font-size="5.74" text-anchor="end" font-weight="normal" fill="#333" stroke="#333" stroke-width="0.13" >meiotic nuclear division</text>
<text x="344.5" y="204.4" font-size="5.74" text-anchor="end" font-weight="normal" fill="#333" stroke="#333" stroke-width="0.13" >nuclear division</text>
<text x="344.5" y="214.5" font-size="5.74" text-anchor="end" font-weight="normal" fill="#333" stroke="#333" stroke-width="0.13" >organelle fission</text>
<text x="344.5" y="224.6" font-size="5.74" text-anchor="end" font-weight="normal" fill="#333" stroke="#333" stroke-width="0.13" >nuclear chromosome segregation</text>
<text x="344.5" y="234.7" font-size="5.74" text-anchor="end" font-weight="normal" fill="#333" stroke="#333" stroke-width="0.13" >meiotic chromosome segregation</text>
<text x="344.5" y="244.8" font-size="5.74" text-anchor="end" font-weight="normal" fill="#333" stroke="#333" stroke-width="0.13" >cell cycle</text>
<text x="344.5" y="254.9" font-size="5.74" text-anchor="end" font-weight="normal" fill="#333" stroke="#333" stroke-width="0.13" >chromosome segregation</text>
<text x="344.5" y="265" font-size="5.74" text-anchor="end" font-weight="normal" fill="#333" stroke="#333" stroke-width="0.13" >cell cycle process</text>
<text x="344.5" y="275.1" font-size="5.74" text-anchor="end" font-weight="normal" fill="#333" stroke="#333" stroke-width="0.13" >meiosis I</text>
<text x="344.5" y="282.2" font-size="5.74" text-anchor="end" font-weight="normal" fill="#333" stroke="#333" stroke-width="0.13" >chromosome organization</text>
<text x="344.5" y="286.5" font-size="5.74" text-anchor="end" font-weight="normal" fill="#333" stroke="#333" stroke-width="0.13" >involved in meiotic cell cycle</text>
<text x="344.5" y="295.3" font-size="5.74" text-anchor="end" font-weight="normal" fill="#333" stroke="#333" stroke-width="0.13" >single organism reproductive process</text>
<text x="344.5" y="305.4" font-size="5.74" text-anchor="end" font-weight="normal" fill="#333" stroke="#333" stroke-width="0.13" >reproductive process</text>
<text x="344.5" y="315.5" font-size="5.74" text-anchor="end" font-weight="normal" fill="#333" stroke="#333" stroke-width="0.13" >reproduction</text>
<text x="344.5" y="325.6" font-size="5.74" text-anchor="end" font-weight="normal" fill="#333" stroke="#333" stroke-width="0.13" >cell division</text>
<text x="344.5" y="335.7" font-size="5.74" text-anchor="end" font-weight="normal" fill="#333" stroke="#333" stroke-width="0.13" >chromosome</text>
<text x="344.5" y="345.8" font-size="5.74" text-anchor="end" font-weight="normal" fill="#333" stroke="#333" stroke-width="0.13" >sister chromatid segregation</text>
<text x="344.5" y="355.9" font-size="5.74" text-anchor="end" font-weight="normal" fill="#333" stroke="#333" stroke-width="0.13" >mitotic cell cycle process</text>
<text x="344.5" y="366" font-size="5.74" text-anchor="end" font-weight="normal" fill="#333" stroke="#333" stroke-width="0.13" >reciprocal meiotic recombination</text>
<text x="364.5" y="376.6" font-size="3.9" text-anchor="middle" font-weight="normal" fill="#444" stroke="#444" stroke-width="0.09" >0.05</text>
<text x="395.6" y="376.6" font-size="3.9" text-anchor="middle" font-weight="normal" fill="#444" stroke="#444" stroke-width="0.09" >0.10</text>
<text x="426.8" y="376.6" font-size="3.9" text-anchor="middle" font-weight="normal" fill="#444" stroke="#444" stroke-width="0.09" >0.15</text>
<text x="397.5" y="384.4" font-size="5.5" text-anchor="middle" font-weight="bold" fill="#222" >Rich Factor</text>
<text x="330.6" y="161.8" font-size="6.53" text-anchor="start" font-weight="bold" fill="#222" >Top 20 of GO terms Enrichment (down)</text>
<circle cx="393.9" cy="172.1" r="2.1" fill="#e3392f"/>
<circle cx="410.7" cy="182.2" r="1.7" fill="#c8402c"/>
<circle cx="412.3" cy="192.3" r="1.5" fill="#d0402c"/>
<circle cx="381.7" cy="202.4" r="2.0" fill="#a84628"/>
<circle cx="376.2" cy="212.5" r="2.0" fill="#9c4626"/>
<circle cx="391.7" cy="222.6" r="1.6" fill="#8a4e22"/>
<circle cx="436.8" cy="232.7" r="1.1" fill="#8a5020"/>
<circle cx="356.7" cy="242.8" r="3.9" fill="#7a5a22"/>
<circle cx="383.1" cy="252.9" r="1.8" fill="#7c5a22"/>
<circle cx="360" cy="263" r="3.0" fill="#7a5e22"/>
<circle cx="417" cy="273.1" r="1.2" fill="#6e6424"/>
<circle cx="441" cy="283.2" r="0.9" fill="#6a6a26"/>
<circle cx="356.1" cy="293.3" r="3.5" fill="#6a6a28"/>
<circle cx="354.5" cy="303.4" r="3.7" fill="#626e28"/>
<circle cx="354.7" cy="313.5" r="3.7" fill="#5e7028"/>
<circle cx="363.4" cy="323.6" r="2.0" fill="#527a2a"/>
<circle cx="356.7" cy="333.7" r="2.6" fill="#4e7a2a"/>
<circle cx="389.2" cy="343.8" r="1.1" fill="#6a6a26"/>
<circle cx="362" cy="353.9" r="1.8" fill="#527a2a"/>
<circle cx="445.1" cy="364" r="0.8" fill="#5a7a28"/>
<rect x="13.4" y="268.2" width="52" height="40.5" fill="#fff" stroke="#333" stroke-width="0.75"/>
<text x="18.6" y="274.3" font-size="5.0" text-anchor="start" font-weight="normal" fill="#333" stroke="#333" stroke-width="0.11" >GeneNumber</text>
<rect x="17.8" y="277.5" width="9.7" height="9.1" rx="0" fill="#fff" stroke="#444" stroke-width="0.6"/>
<rect x="17.8" y="286.6" width="9.7" height="9.1" rx="0" fill="#fff" stroke="#444" stroke-width="0.6"/>
<circle cx="22.6" cy="282.1" r="0.6" fill="#555"/>
<circle cx="22.6" cy="291.1" r="3.4" fill="#666"/>
<text x="31.8" y="283.8" font-size="4.6" text-anchor="start" font-weight="normal" fill="#222" stroke="#222" stroke-width="0.10" >185</text>
<text x="31.8" y="292.8" font-size="4.6" text-anchor="start" font-weight="normal" fill="#222" stroke="#222" stroke-width="0.10" >905</text>
<rect x="52.3" y="270.4" width="5.4" height="28.6" fill="url(#dg)"/>
<path d="M57.7 275.6h1.2M57.7 287.5h1.2M52.3 275.6h-0.8M52.3 287.5h-0.8" stroke="#333" stroke-width="0.5"/>
<text x="60.1" y="277.1" font-size="4.1" text-anchor="start" font-weight="normal" fill="#222" stroke="#222" stroke-width="0.09" >45</text>
<text x="60.1" y="289" font-size="4.1" text-anchor="start" font-weight="normal" fill="#222" stroke="#222" stroke-width="0.09" >40</text>
<text x="42" y="305.5" font-size="5.2" text-anchor="middle" font-weight="normal" fill="#333" stroke="#333" stroke-width="0.11" >-log10(Pvalue)</text>
<rect x="235.6" y="300.8" width="54.3" height="40.8" fill="#fff" stroke="#333" stroke-width="0.75"/>
<text x="242.2" y="307.1" font-size="5.0" text-anchor="start" font-weight="normal" fill="#333" stroke="#333" stroke-width="0.11" >GeneNumber</text>
<rect x="240.7" y="310.0" width="11" height="10.4" rx="1.6" fill="#fff" stroke="#444" stroke-width="0.6"/>
<rect x="240.7" y="320.4" width="11" height="10.4" rx="1.6" fill="#fff" stroke="#444" stroke-width="0.6"/>
<circle cx="246.2" cy="315.2" r="0.6" fill="#555"/>
<circle cx="246.2" cy="325.7" r="3.0" fill="#666"/>
<text x="254.8" y="316.9" font-size="4.6" text-anchor="start" font-weight="normal" fill="#222" stroke="#222" stroke-width="0.10" >9</text>
<text x="254.8" y="327.4" font-size="4.6" text-anchor="start" font-weight="normal" fill="#222" stroke="#222" stroke-width="0.10" >64</text>
<rect x="275.9" y="303.3" width="5.1" height="29.6" fill="url(#dg)"/>
<path d="M281.0 310.5h1.2M281.0 325.0h1.2M275.9 310.5h-0.8M275.9 325.0h-0.8" stroke="#333" stroke-width="0.5"/>
<text x="283.4" y="312" font-size="4.1" text-anchor="start" font-weight="normal" fill="#222" stroke="#222" stroke-width="0.09" >15</text>
<text x="283.4" y="326.5" font-size="4.1" text-anchor="start" font-weight="normal" fill="#222" stroke="#222" stroke-width="0.09" >10</text>
<text x="265.5" y="339" font-size="5.2" text-anchor="middle" font-weight="normal" fill="#333" stroke="#333" stroke-width="0.11" >-log10(Pvalue)</text>
<path d="M37.7 529.3H255.4M37.7 517.6H255.4M37.7 505.8H255.4M37.7 494H255.4M37.7 482.2H255.4M37.7 470.5H255.4M37.7 458.7H255.4M37.7 446.9H255.4M37.7 435.2H255.4M37.7 423.4H255.4M37.7 411.6H255.4M37.7 399.9H255.4M67.7 398.6V540.5M97.6 398.6V540.5M127.6 398.6V540.5M157.6 398.6V540.5M187.6 398.6V540.5M217.5 398.6V540.5M247.5 398.6V540.5" stroke="#c9c9c9" stroke-width="0.7" stroke-dasharray="4.5 2.8" fill="none"/>
<path d="M37.7 541.1L38.9 527L40.1 512.9L40.7 505.8L41.3 496.4L42.5 477.3L43.7 458.5L44.4 445.5L44.9 444.5L46.1 442.2L47.3 441.6L48.5 439.7L49.7 440.1L50.9 438.7L52.1 438.2L53.3 436.4L54.5 435.1L55.7 433.1L56.9 430.7L57.2 431.8L58.1 429.9L59.3 429.2L60.5 427.6L61.7 424.5L62.9 422.9L64.1 421.8L65.3 419.3L66.5 417.4L67.7 417.8L68.9 418.3L70.1 419L71.3 420.6L72.5 419.4L73.7 420.1L74.9 421.6L76.1 422.6L77.3 423.1L78.5 424.4L79.7 425.3L80.9 426.2L82.1 427.2L83.3 427.9L84.5 428.8L85.7 429.8L86.9 431.3L88 432.1L89.2 433.5L90.4 434.2L91.6 435.1L92.8 435.7L94 437.6L95.2 438.2L96.4 439L97.6 440.5L98.8 441.4L100 442.1L101.2 443.1L102.4 443.9L103.6 445.4L104.8 446.2L106 447L107.2 448.7L108.4 449.8L109.6 450.9L110.8 452.5L112 453.8L113.2 454.2L114.4 454.7L115.6 456.2L116.8 457.1L118 457.7L119.2 459.4L120.4 460.6L121.6 461.1L122.8 462.1L124 462.7L125.2 463.8L126.4 464.8L127.6 465.9L128.8 466.8L130 468.4L131.2 469.9L132.4 470.3L133.6 471.8L134.8 472.4L136 473.9L137.2 475.1L138.4 476.5L139.6 477.7L140.8 477.8L142 479.1L143.2 479.5L144.4 481.2L145.6 482.3L146.8 483.1L148 483.5L149.2 485.1L150.4 486.3L151.6 487.3L152.8 488.5L154 490L155.2 490.8L156.4 491.5L157.6 492.5L158.8 493.4L160 494.8L161.2 496L162.4 496.8L163.6 498.2L164.8 499.2L166 499.5L167.2 500.1L168.4 500.9L169.6 502.3L170.8 503L172 504.3L173.2 506L174.4 507L175.6 507.4L176.8 508.8L178 510.1L178.6 511L179.2 511.2L180.4 511.9L181.6 511.6L182.8 512.1L184 512.8L185.2 513.4L186.4 513.7L187.6 514.5L188.7 514.4L189.9 515.2L191.1 515.6L192.3 515.5L193.5 516.2L194.7 516.9L195.9 517L197.1 517.1L198.3 517.6L199.5 518.4L200.7 518.5L201.9 519.6L202.5 519.3L203.1 519.5L204.3 520.3L205.5 520.8L206.7 521.2L207.9 521.4L209.1 521.1L210.3 521L211.5 521.1L212.7 521.5L213.9 522L215.1 522.6L216.3 522.5L217.5 522.3L218.7 522.6L219.9 523.5L221.1 524.5L222.3 525.1L223.5 525.9L224.7 526.5L225.9 526.6L227.1 526.8L228.3 527.7L229.5 527.5L230.7 528.7L231.9 529.5L232.5 529.1L233.1 529.3L234.3 530.2L235.5 531.2L236.7 531.6L237.9 532.4L239.1 533.6L240.3 534.1L241.5 534.2L242.7 534.7L243.9 536.1L245.1 536.8L246.3 537.6L247.5 538.4L248.7 539.1L249.9 539.8L251.1 540.5L252 541.1" stroke="#bcaee2" stroke-width="1.45" fill="none" stroke-linejoin="round"/>
<path d="M37.7 541.1L38.9 527L40.1 512.9L40.7 505.8L41.3 498.7L42.5 483.7L43.7 468.8L44.9 463.2L45.9 458.3L46.1 457L47.3 456L48.5 454.2L49.7 451.9L50.9 448.3L51.2 446.8L52.1 445.3L53.3 443.3L54.5 441.4L55.7 440L56.9 436.2L57.6 435.4L58.1 434.9L59.3 435.2L60.5 435.1L61.7 434.9L62.9 431.3L64.1 430.3L65.3 428.5L66.5 425.9L67.7 424.9L68.9 424.8L70.1 425L71.3 424.5L72.5 424.5L73.7 425.6L74.9 427L76.1 427.4L77.3 429L78.5 429.4L79.7 430.6L80.9 431.2L82.1 431.9L83.3 433L84.5 434.2L85.7 435.2L86.9 436.8L88 437L89.2 437.5L90.4 439.3L91.6 439.6L92.8 441.1L94 442.6L95.2 442.8L96.4 444.2L97.6 445.3L98.8 445.8L100 446.5L101.2 447.8L102.4 449.2L103.6 449.7L104.6 451L104.8 450.7L106 451.8L107.2 452.7L108.4 454.2L109.6 455.3L110.8 455.8L112 457.5L113.2 458.5L114.4 459L115.6 460.1L116.8 461.4L118 462L119.2 463.1L120.4 464.2L121.6 465.2L122.8 466.2L124 467.9L125.2 469.6L126.4 471.1L127.6 471.8L128.8 472.5L130 473.9L131.2 475L132.4 476.3L133.6 477.5L134.8 478.6L136 479.5L137.2 480.7L138.4 481.6L139.6 482.3L140.8 483.2L142 484.8L143.2 485.9L144.4 486.8L145.6 488.1L146.8 489.2L148 490.5L148.6 490.6L149.2 491.3L150.4 492.8L151.6 493.7L152.8 494.2L154 495.8L155.2 497.2L156.4 498.5L157.6 499.6L158.8 500.5L160 501.1L161.2 502.2L162.4 502.9L163.6 504.3L164.8 505.8L166 506.1L167.2 507.1L168.4 508.3L169.6 509.9L170.8 510.7L172 511.3L173.2 512.9L174.4 514.4L175.6 515.3L176.8 516L178 517.6L178.6 518.3L179.2 517.9L180.4 518.6L181.6 519.4L182.8 520.2L184 521.9L185.2 522.4L186.4 523.8L187.6 525L188.7 525.3L189.9 526.6L191.1 527.9L192.3 528.3L193.5 529.4L194.7 529.9L195 530.7L195.9 530.8L197.1 531.2L198.3 531.5L199.5 531.2L200.7 531.3L201.9 531.5L203.1 531L204.3 530.9L205.5 531.4L206.7 531.9L207.9 531.5L209.1 532.1L210 532.3L210.3 532.3L211.5 531L212.7 531L213.9 530.5L215.1 529.6L216.3 528.6L217.5 527.9L218.7 527.4L219.9 526.5L220.5 526.6L221.1 526.3L222.3 526.5L223.5 526.7L224.7 527.2L225.9 527.9L227.1 528.5L228.3 528.4L229.5 529.1L230.7 529.4L231.9 529.4L232.5 528.9L233.1 529.3L234.3 530L235.5 531.3L236.7 532.5L237.9 533.1L239.1 533.5L240.3 534.7L241.5 535.4L242.7 536.3L243.9 536.6L245.1 537.1L246.3 537.8L247.5 538.5L248.7 539.2L249.9 539.9L251.1 540.6L252 541.1" stroke="#5cc6e6" stroke-width="1.45" fill="none" stroke-linejoin="round"/>
<path d="M37.7 541.1L38.9 523.5L39.9 508.1L40.1 508.1L41.3 507.6L42.5 506.6L43.7 505.7L44.9 504.6L45.9 504.2L46.1 469.7L47.3 460.2L48.5 449.3L49.7 437.6L50.9 434.7L52.1 431.9L53.3 430.9L54.5 428.8L55.7 428.1L56.9 426.6L58.1 425.9L59.3 423.3L60.5 421.5L61.7 419.5L62.9 417.7L64.1 415.5L65.3 412.7L66.5 410.4L67.7 410L68.9 409.8L70.1 411.2L71.3 411.8L72.5 411.7L73.7 412.1L74.9 413.8L76.1 415.3L77.3 416.5L78.5 416.7L79.7 418.3L80.9 419.6L82.1 420.5L83.3 421.3L84.5 421.6L85.7 423L86.9 424.3L88 425.6L89.2 426.1L90.4 426.8L91.6 428L92.8 429.5L94 430.1L95.2 431.3L96.4 432.7L97.6 433.8L98.8 435L100 435.7L101.2 436.8L102.4 437.1L103.6 438.1L104.8 439.5L106 440.6L107.2 441.3L108.4 441.6L109.6 442.2L110.8 443L112 444.5L113.2 446.1L114.4 446.8L115.6 447.6L116.8 449.2L118 450.4L119.2 451.7L120.4 453L121.6 453.4L122.8 454.6L124 455.3L125.2 456.2L126.4 457.5L127.6 458.8L128.8 459.3L130 459.8L131.2 461.3L132.4 462.3L133.6 462.9L134.8 463.6L136 465.3L137.2 466.1L138.4 467.1L139.6 467.8L140.8 469.4L142 470.4L143.2 471.6L144.4 472.5L145.6 472.8L146.8 473.5L148 475.4L149.2 476.6L150.4 477.7L151.6 478.6L152.8 479.3L154 480.4L155.2 481.6L156.4 482.8L157.6 483.4L158.8 484.4L160 485.3L161.2 486.5L162.4 487.5L163.6 488.2L164.8 489.3L166 490.9L167.2 491.5L168.4 492.5L169.6 493.3L170.8 494.7L172 495.5L173.2 496.5L174.4 496.9L175.6 498.5L176.8 498.9L178 499.6L179.2 500.6L180.4 501.7L181.6 502.5L182.8 502.4L184 503L185.2 502.8L186.4 502.8L187.6 503.6L188.7 503L189.9 503.6L191.1 504.1L192.3 503.9L193.5 503.8L194.7 503.7L195.9 504.5L197.1 505.1L198.3 505.3L199.5 506.4L200.7 506.7L201.9 507.6L203.1 508.1L204.3 508.4L205.5 509.1L206.7 509.5L207.9 509.5L209.1 509.9L210 510.3L210.3 510.8L211.5 511.2L212.7 511.9L213.9 512.5L215.1 513L216.3 514.1L217.5 514.4L218.7 515.3L219.9 516.7L221.1 517.2L222.3 518.4L223.5 519.4L224.7 520.5L225.9 520.4L227.1 521.4L228.3 522.6L229.5 522.4L230.7 523.6L231 523.6L231.9 523.3L233.1 523.1L234.3 522.8L235.5 521.8L236.7 521.7L237 520.9L237.9 521.8L239.1 524.1L240.3 525.8L241.5 526.8L242.7 528.7L243.9 530.4L245.1 532L246.3 533.5L247.5 535.1L248.7 536.7L249.9 538.3L251.1 539.9L252 541.1" stroke="#3cb48c" stroke-width="1.45" fill="none" stroke-linejoin="round"/>
<path d="M37.7 541.1L38.9 494L40.1 465.8L40.7 451.6L41.3 449L42.5 442.7L43.7 438.4L44.4 435.1L44.9 434.2L46.1 433L47.3 433.6L48.5 433.3L49.7 432.6L50.9 432.2L51.2 430L52.1 428.3L53.3 425.9L54.5 424.2L55.7 423.1L56.9 421.6L58.1 421.3L58.7 421.8L59.3 419.6L60.5 417.9L61.7 416L62.9 415.2L64.1 414.3L65.3 410.5L66.5 409.9L67.7 407.2L68.9 407.3L70.1 407.3L71.3 407.9L72.5 409.6L73.7 409.4L74.9 410.9L76.1 411.3L77.3 411.9L78.5 413.8L79.7 414.6L80.9 416L82.1 417.5L83.3 417.9L84.5 419L85.7 420.4L86.9 421.7L88 422.8L89.2 423.4L90.4 424.3L91.6 425.8L92.8 426.9L94 427.3L95.2 429.1L96.4 429.7L97.6 431.3L98.8 432L100 432.8L101.2 434.2L102.4 434.9L103.6 436.5L104.8 437.8L106 438.1L107.2 439.2L108.4 439.8L109.6 441.1L110.8 442.9L112 444.4L113.2 445.5L114.4 446.5L115.6 446.8L116.8 447.7L118 448.9L119.2 450L120.4 450.7L121.6 452.1L122.8 453.2L124 454.5L125.2 455.2L126.4 456L127.6 456.8L128.8 458.6L130 460L131.2 460.5L132.4 461.7L133.6 463.3L134.8 464.5L136 466L137.2 467.2L138.4 468L139.6 468.5L140.8 469.6L142 470.8L143.2 471.8L144.4 472.7L145.6 473.5L146.8 474.4L148 475.4L149.2 476.8L150.4 478.4L151.6 479.4L152.8 479.9L154 480.6L155.2 482.4L156.4 483.2L157.6 484.5L158.8 486L160 486.4L161.2 488L162.4 488.5L163.6 489.5L164.8 491.1L166 492.1L167.2 492.7L168.4 494.3L169.6 495.5L170.8 497L172 498.1L173.2 498.8L174.4 499.4L175.6 500.8L176.8 501.5L178 502.3L178.6 503.3L179.2 503.3L180.4 504.4L181.6 504.8L182.8 505.2L184 505.2L185.2 505.7L186.4 506.8L187.6 507.1L188.7 508.2L189.9 508L191.1 508.7L192.3 509.3L193.5 509.4L194.7 509.9L195 510.3L195.9 510.2L197.1 511.2L198.3 512L199.5 511.7L200.7 512.4L201.9 512.5L203.1 513L204.3 513.7L205.5 514.4L206.7 514.3L207.9 514.2L209.1 515.1L210.3 515.3L211.5 516L212.7 516.1L213.9 516.5L215.1 517.3L216.3 516.9L217.5 517L218.7 518L219.9 518.4L221.1 519.3L222.3 520.7L223.5 521.5L224.7 521.8L225.9 522.1L227.1 523L228.3 523.9L229.5 524.3L230.7 525.7L231.9 526.7L232.5 527.5L233.1 527.4L234.3 527.7L235.5 529.2L236.7 530.3L237.9 531.3L239.1 531.7L240.3 532.2L241.5 533.8L242.7 534.4L243.9 534.8L245.1 535.8L246.3 536.8L247.5 537.7L248.7 538.7L249.9 539.5L251.1 540.4L252 541.1" stroke="#f06c3c" stroke-width="1.45" fill="none" stroke-linejoin="round"/>
<path d="M37.7 541.1L38.9 509.7L39.5 494L40.1 484.6L41.3 465.8L42.2 451.6L42.5 450L43.7 449L44.9 445.6L46.1 443.4L46.7 442.2L47.3 442.6L48.5 441L49.7 438.9L50.9 437L51.2 436.3L52.1 434.5L53.3 433L54.5 432.5L55.7 431.2L56.9 429.1L58.1 426.8L59.3 425L60.5 423.6L61.7 422.4L62.9 421.1L64.1 419L65.3 418.4L66.5 415.9L67.7 413.4L68.9 413.5L70.1 415.3L71.3 417L72.5 417.7L73.7 416.8L74.9 416.5L75.2 416.1L76.1 417.1L77.3 418.7L78.5 419.5L79.7 420L80.9 421.3L82.1 423L83.3 424.1L84.5 424.9L85.7 426.2L86.9 427.3L88 427.6L89.2 428.2L90.4 429.4L91.6 430.3L92.8 430.9L94 432.6L95.2 433.7L96.4 435.3L97.6 436.2L98.8 437.1L100 437.7L101.2 438.6L102.4 439.9L103.6 441.3L104.8 442.6L106 443.7L107.2 444.8L108.4 445.6L109.6 445.9L110.8 446.5L112 448L113.2 449.3L114.4 449.9L115.6 450.2L116.8 451.6L118 452.3L119.2 453L120.4 454L121.6 455.1L122.8 456.2L124 457.1L125.2 457.9L126.4 459.6L127.6 460.7L128.8 461.7L130 462.8L131.2 464.2L132.4 464.5L133.6 465.7L134.8 467.1L136 467.9L137.2 468.6L138.4 469.8L139.6 470.7L140.8 471.7L142 472.3L143.2 473.4L144.4 474.3L145.6 475.8L146.8 476.2L148 477.8L149.2 478.9L150.4 479.7L151.6 480.9L152.8 481.7L154 483.1L155.2 484.4L156.4 485.4L157.6 485.7L158.8 487.2L160 488.6L161.2 489.7L162.4 490.2L163.6 490.8L164.8 491.5L166 492.1L167.2 493.4L168.4 494.3L169.6 495.9L170.8 496.5L172 497.7L173.2 498.7L174.4 499.4L175.6 500.2L176.8 501.6L178 502.3L179.2 504L180.4 505.5L181.6 506.2L182.8 506L184 505.7L185.2 505.9L186.4 506.1L187.6 506.8L188.7 507L189.9 506.5L191.1 506.8L192.3 506.8L193.5 507.3L194.7 506.8L195.9 507L197.1 506.8L198.3 507.2L199.5 507.3L200.7 507.9L201.9 508.6L202.5 508.9L203.1 508.9L204.3 509L205.5 509.7L206.7 509.5L207.9 509.6L209.1 510L210.3 510.9L211.5 511.2L212.7 512.3L213.9 512.5L215.1 513L216.3 513.2L217.5 513.4L218.7 513.9L219.9 514.8L221.1 515L222.3 515.5L223.5 516L224.7 516.5L225.9 516.3L227.1 517L228.3 517.6L229.5 518.2L230.7 518L231 518.1L231.9 518.7L233.1 519.4L234.3 520.6L235.5 521.4L236.7 522.2L237 521.8L237.9 522.7L239.1 524.1L240.3 526.4L241.5 527.8L242.7 529.8L243.9 530.8L245.1 532.4L246.3 533.9L247.5 535.4L248.7 536.9L249.9 538.5L251.1 540L252 541.1" stroke="#f4a04c" stroke-width="1.45" fill="none" stroke-linejoin="round"/>
<path d="M37.7 541.1L38.9 516L39.9 494L40.1 492.1L41.3 477.1L42.5 461.6L43.7 446.6L44.9 445.1L46.1 442.1L47.3 439.3L48.5 438.5L49.7 436.5L50.9 436.3L52.1 434.2L53.3 432.6L54.5 429.9L55.7 429.7L56.9 427.8L57.2 428L58.1 427.3L59.3 426.1L60.5 425.5L61.7 423.5L62.9 422.3L63.2 421.4L64.1 420.9L65.3 419.3L66.5 415.7L67.7 414.5L68.9 414.1L70.1 415.2L71.3 415.5L72.5 414.6L73.7 414.7L74.9 416L76.1 417.3L77.3 418.3L78.5 418.8L79.7 419.6L80.9 421.4L82.1 422.5L83.3 424L84.5 425.4L85.7 425.7L86.9 426.8L88 427.9L89.2 428.5L90.4 429.7L91.6 431.3L92.8 432.2L94 432.7L95.2 433.6L96.4 434.4L97.6 436.1L98.8 437.8L100 439.1L101.2 439.4L102.4 440L103.6 441.7L104.8 442.8L106 443.9L107.2 444.8L108.4 445.6L109.6 447.3L110.8 447.7L112 449.1L113.2 450.5L114.4 451.3L115.6 452.4L116.8 453.5L118 454.4L119.2 456L120.4 456.9L121.6 458.2L122.8 459.6L124 460.2L125.2 461.7L126.4 462L127.6 462.7L128.8 463.8L130 464.8L131.2 465.9L132.4 466.6L133.6 467.9L134.8 469.6L136 470.7L137.2 471.2L138.4 472.4L139.6 473.7L140.8 475.1L142 476.5L143.2 476.7L144.4 477.5L145.6 478.5L146.8 479.9L148 481.1L149.2 482.5L150.4 483.6L151.6 484.3L152.8 485.9L154 486.7L155.2 487.6L156.4 489.1L157.6 490.2L158.8 490.7L160 491.2L161.2 492.7L162.4 494.1L163.6 495.1L164.8 496L166 497.1L167.2 498.2L168.4 499.1L169.6 499.7L170.8 500.7L172 502.4L173.2 503.9L174.4 504.4L175.6 505.3L176.8 506.2L178 507.7L178.6 508.6L179.2 508.5L180.4 509.4L181.6 510.1L182.8 510.2L184 510.8L185.2 511.9L186.4 511.9L187.6 512.1L188.7 513.4L189.9 514L191.1 515L192.3 515.9L193.5 515.6L194.7 515.9L195.9 516.5L197.1 517.7L198.3 518.4L199.5 519.2L200.7 520L201.9 520.3L202.5 520.5L203.1 520.3L204.3 520.6L205.5 521.4L206.7 521L207.9 521.9L209.1 522.5L210.3 522.1L211.5 522.5L212.7 523L213.9 522.6L215.1 523.6L216.3 523.3L217.5 523.3L218.7 523.4L219.9 524L221.1 524.5L222.3 525.1L223.5 525.9L224.7 526.1L225 526.3L225.9 525.7L227.1 525.8L228.3 526.2L229.5 525.9L230.7 526.3L231.9 526.6L232.5 527.3L233.1 527.5L234.3 526.6L235.5 526.2L236.7 525.8L237.9 525.4L239.1 525.5L240 524.7L240.3 525.1L241.5 526.4L242.7 527.8L243.9 529.9L245.1 531.6L246.3 533.2L247.5 534.9L248.7 536.6L249.9 538.2L251.1 539.9L252 541.1" stroke="#5a3ca2" stroke-width="1.45" fill="none" stroke-linejoin="round"/>
<path d="M37.7 541.1L38.9 522.3L40.1 503.4L41.3 484.6L42.2 470.5L42.5 468.5L43.7 455.8L44.9 443.2L45.9 430.5L46.1 428.6L47.3 410.5L47.4 407.9L48.5 407.8L49.7 408.3L50.9 407.3L52.1 407.3L53.3 407.4L54.5 408.6L54.9 407.7L55.7 412.5L56.4 415.4L56.9 417.3L58.1 418.4L59.3 418.3L60.2 419.8L60.5 418.4L61.7 416.5L62.9 414.7L64.1 414.5L65.3 412L66.5 412.1L67.7 411.3L68.9 410.9L70.1 410.5L71.3 410.8L72.5 411.3L73.7 411.9L74.9 412.7L75.2 413.2L76.1 414.7L77.3 415.4L78.5 416.2L79.7 418L80.9 419.1L82.1 419.6L83.3 420.3L84.5 422.1L85.7 423.2L86.9 423.8L88 424.5L89.2 426.1L90.4 427.4L91.6 428.4L92.8 429.1L94 430.8L95.2 432.2L96.4 432.6L97.6 434.2L98.8 434.7L100 435.5L101.2 436.4L102.4 437.8L103.6 439.4L104.8 440.4L106 440.7L107.2 441.8L108.4 443.5L109.6 444L110.8 444.7L112 446L113.2 446.8L114.4 448.1L115.6 448.8L116.8 450.6L118 451.1L119.2 452.7L120.4 453.9L121.6 454.4L122.8 456.1L124 456.5L125.2 457.9L126.4 458.4L127.6 460L128.8 461.1L130 462.1L131.2 462.7L132.4 463.3L133.6 464.1L134.8 466L136 467.5L137.2 468.2L138.4 469.4L139.6 470.8L140.8 471.5L142 472.6L143.2 473.2L144.4 474.3L145.6 475.8L146.8 476.7L148 477.9L149.2 479.3L150.4 479.9L151.6 481.5L152.8 481.8L154 483.3L155.2 484.4L156.4 485.9L157.6 486.8L158.8 487.3L160 487.8L161.2 488.8L162.4 489.7L163.6 490.9L164.8 492.2L166 493.8L167.2 494.8L168.4 496.1L169.6 497.3L170.8 497.6L172 499.2L173.2 499.6L174.4 500.8L175.6 502.3L176.8 503.2L178 504.7L179.2 504.9L180.1 505.6L180.4 506.3L181.6 506.8L182.8 507.6L184 507.8L185.2 508.4L186.4 509.1L187.6 509.6L188.7 510.2L189.9 510.2L191.1 510.4L192.3 511.7L193.5 512.3L194.7 513.1L195 513.5L195.9 513.5L197.1 513.6L198.3 514.1L199.5 513.7L200.7 513.6L201.9 514.3L203.1 514.4L204.3 515.2L205.5 515.7L206.7 516.2L207.9 516.2L209.1 516.3L210.3 516.3L211.5 516.6L212.7 517L213.9 516.9L215.1 516.9L216.3 517.2L217.5 517.9L218.7 518.8L219.9 518.5L221.1 518.6L222.3 518.7L223.5 519.6L224.7 520L225.9 520.6L227.1 520.9L228.3 522L229.5 522.5L230.7 521.4L231.9 519.9L233.1 518.7L234.3 517.2L235.5 515.2L236.7 517.3L237.9 518.7L239.1 520.4L240.3 522.3L241.5 524.2L242.7 526.1L243.9 528.6L245.1 530.4L246.3 532.2L247.5 534.1L248.7 535.9L249.9 537.8L251.1 539.7L252 541.1" stroke="#efe23c" stroke-width="1.45" fill="none" stroke-linejoin="round"/>
<path d="M37.7 541.1L38.4 517.6L38.9 501.3L39.9 463.4L40.1 462.3L41.3 453.6L42.5 444.2L43.7 435.1L44.1 431.7L44.9 433.1L46.1 432.1L47.3 430.3L48.5 431L49.7 431.6L50.9 431.3L51.2 430.5L52.1 428.9L53.3 427.8L54.5 426.7L55.7 425.5L56.9 424.7L57.2 424.5L58.1 424.1L59.3 421.3L60.5 419L61.7 416.6L62.9 415.3L63.2 415.3L64.1 413.7L65.3 412.6L66.5 410L67.7 407.9L68.9 407.2L70.1 408.9L71.3 410.1L72.2 409.1L72.5 410L73.7 415.1L74.9 419.3L76.1 423.3L77.3 427.2L77.8 428.8L78.5 427.9L79.3 426.1L79.7 426.8L80.9 427.9L82.1 428.7L83.3 429.8L84.5 430.2L85.7 431.4L86.9 433L88 433.6L89.2 435L90.4 436.3L91.6 437.6L92.8 438.7L94 439.4L95.2 439.9L96.4 441.2L97.6 442.6L98.8 443.7L100 444.6L101.2 445.9L102.4 447.2L103.6 448.1L104.8 448.5L106 449.7L107.2 450.4L108.4 451.7L109.6 452.2L110.8 453.7L112 454.9L113.2 456.3L114.4 456.9L115.6 457.5L116.8 458.3L118 459.4L119.2 461.2L120.4 462L121.6 462.9L122.8 463.8L124 465.7L125.2 466.9L126.4 468L127.6 469.2L128.8 470.4L130 470.8L131.2 471.8L132.4 473.1L133.6 474L134.8 475.3L136 476.9L137.2 477.4L138.4 478.5L139.6 479.3L140.8 480.6L142 481.6L143.2 482.5L144.4 483.9L145.6 485.2L146.8 485.9L148 486.9L149.2 487.9L150.4 489.2L151.6 489.9L152.8 490.5L154 492.3L155.2 492.9L156.4 494L157.6 494.9L158.8 496L160 497L161.2 498.1L162.4 499.2L163.6 500.4L164.8 501.7L166 502.6L167.2 503.7L168.4 505.2L169.6 505.6L170.8 506.9L172 507.6L173.2 509.1L174.4 509.9L175.6 510.9L176.8 512.4L178 513.2L178.6 514.3L179.2 514.4L180.4 515L181.6 516L182.8 516.7L184 518.1L185.2 519.1L186.4 520.5L187.6 520.8L188.7 521.3L189.9 522.6L191.1 524.3L192.3 525.3L193.5 525.6L194.7 527L195 527.5L195.9 527.9L197.1 528.6L198.3 529.2L199.5 529.5L200.7 529.6L201.9 530.6L203.1 531L204.3 531.8L205.5 532.3L206.7 533.1L207.9 533.3L209.1 533.8L210.3 534.5L211.5 534.9L212.7 536.1L213.9 536.6L214.5 536.6L215.1 536.1L216.3 535.9L217.5 535.3L218.7 534L219.9 532.8L221.1 532.4L222 531.9L222.3 531.2L223.5 529.8L224.7 529L225.9 527.6L226.5 526.5L227.1 527.4L228.3 528.1L229.5 528.5L230.7 529.3L231.9 529.9L233.1 530.6L234.3 531.6L235.5 531.5L236.7 532.3L237.9 533.2L239.1 533.8L240.3 534.1L241.5 535.4L242.7 536.1L243.9 536.5L245.1 537.2L246.3 537.9L247.5 538.5L248.7 539.2L249.9 539.9L251.1 540.6L252 541.1" stroke="#e8333f" stroke-width="1.45" fill="none" stroke-linejoin="round"/>
<path d="M37.7 541.1L38.9 512.9L39.2 505.8L40.1 487L41.3 461.8L41.4 458.7L42.5 449.1L43.7 439L44.4 431.6L44.9 432.3L46.1 433.1L47.3 431.7L48.5 431.9L49.7 430.9L50.9 428.9L52.1 428.2L53.3 426.1L54.5 424.9L55.7 422.7L56.9 420.6L58.1 418.8L59.3 416.1L60.5 413.7L61.7 412.6L62.9 412.3L64.1 412.8L65.3 412.2L66.5 411.7L66.9 410.8L67.7 407L68.9 401.4L70.1 401.5L71.3 401L72.5 402.6L73.7 402.7L74.9 403.8L75.2 403.8L76.1 404.4L77.3 405.6L78.5 406.4L79.7 406.7L80.9 407.5L82.1 408.7L83.3 409.3L84.5 410.8L85.7 411.5L86.8 412.8L86.9 413.2L88 414.5L89.2 415.3L90.4 416.1L91.6 417.4L92.8 418.9L94 420.2L95.2 421L96.4 422.1L97.6 422.9L98.8 423.5L100 424.8L101.2 426.2L102.4 427.4L103.6 428L104.8 428.8L106 430.5L107.2 431.9L108.4 433.2L109.6 434.2L110.8 435L112 436.4L113.2 437L114.4 438.6L115.6 439.3L116.8 440.3L118 441L119.2 442.7L119.5 443.3L120.4 443.9L121.6 444.8L122.8 445.3L124 446.3L125.2 447.9L126.4 448.4L127.6 449.8L128.8 450.9L130 452L131.2 453.4L132.4 454.4L133.6 455.8L134.8 456.2L136 457.7L137.2 459.2L138.4 459.9L139.6 460.6L140.8 462L142 463L143.2 464.2L144.4 464.7L145.6 466L146.8 466.8L148 468L149.2 468.6L149.2 468.9L150.4 470.4L151.6 471.7L152.8 473L154 474.9L155.2 477L156.4 478L157.6 480L158.8 481.1L160 482.7L161.2 483.8L162.4 485.4L163.6 486.5L164.8 488.5L166 490.6L167.2 492.4L168.4 493.1L169.6 494.8L170 495.7L170.8 495.5L172 496.1L173.2 497.2L174.4 497.7L175.6 498.7L176.8 499.6L178 500.2L178.9 500.7L179.2 501.2L180.4 502.8L181.6 504.4L182.8 505.6L183.4 505.8L184 504.5L185.2 501.8L185.3 502L186.4 502.1L187.6 501.6L188.7 501.5L189.9 501.9L191.1 501.5L192.3 501.5L193.5 501.4L194.7 501.9L194.8 501.6L195.9 502.1L197.1 502.5L198.3 502.1L199.5 502.2L200.7 502.8L201.9 503.6L202.5 503.4L203.1 504.1L204.3 505L205.5 505.4L206.7 506.4L207.9 508L209.1 508.7L210.1 510L210.3 510.3L211.5 511.5L212.7 511.9L213.9 512.7L215.1 513.9L216.3 514.7L217.5 515.2L218.7 516.5L219.9 517.4L221.1 517.9L222.3 518.6L223.5 519.8L224.7 520.8L225.9 521.6L227.1 522.1L228.3 523L229.5 524L230.7 525.2L231.2 525.3L231.9 524.7L233.1 523.5L234.3 522.3L235.5 520.5L236.7 522.4L237.9 524.3L239.1 525.4L240.3 526.5L241.5 528.1L242.7 529.5L243.9 531L245.1 533.1L246.3 535L246.4 535.3L247.5 536.4L248.7 537.6L249.9 538.8L251.1 540L252.2 541.1" stroke="#2eae7c" stroke-width="1.45" fill="none" stroke-linejoin="round"/>
<path d="M37.7 541.1L38.9 528.5L39.9 517.6L40.1 515.7L41.3 500.6L42.5 484.6L43.7 469.4L44.9 461.1L46.1 452.6L46.9 446.7L47.3 447.5L48.5 447.6L49.7 445.6L50.9 444.7L51.2 444.2L52.1 442.9L53.3 441.1L54.5 440.1L55.7 441L56.9 439.5L57.2 440.9L58.1 440L59.3 438.7L60.5 437L61.7 434.8L62.9 434.2L63.2 434.6L64.1 434.5L65.3 431.7L66.5 431.7L67.7 429.7L68.9 427.2L70.1 425.4L70.4 425.5L71.3 425L72.5 425.8L73.7 427.7L74.9 428.3L76.1 429.9L77.3 430.9L78.5 430.9L79.7 432.2L80.9 432.9L82.1 433.1L83.3 434.1L84.5 435.1L85.7 436.1L86.9 436.3L88 437.1L89.2 438.3L89.7 437.9L90.4 439L91.6 439.5L92.8 440.5L94 441.9L95.2 442.8L96.4 444.2L97.6 445.1L98.8 446.6L100 447.4L101.2 448.4L102.4 449.6L103.6 450.2L104.8 451.2L106 452.9L107.2 453.5L108.4 455L109.6 455.6L110.8 456.3L112 458.1L113.2 459.3L114.4 460.9L115.6 461.3L116.8 462.3L118 463.8L119.2 464.2L119.5 464.8L120.4 466L121.6 466.3L122.8 467L124 468.7L125.2 469.2L126.4 469.8L127.6 470.8L128.8 472.2L130 473.3L131.2 474.9L132.4 475.7L133.6 476.2L134.8 477.1L136 478.7L137.2 479.6L138.4 480.4L139.6 482L140.8 482.4L142 484.1L143.2 485.5L144.4 486.5L145.6 487.3L146.8 488.1L148 488.5L149.2 489.3L149.2 489.3L150.4 490.5L151.6 491.6L152.8 493.5L154 494.3L155.2 495.4L156.4 496.5L157.6 497.6L158.8 499.4L160 500.3L161.2 500.9L162.4 502.7L163.6 503.5L164.8 504.2L166 505.9L167.2 507L168.4 508L169.6 508.8L170 509.4L170.8 509.7L172 511.1L173.2 511.5L174.4 512.4L175.6 513.8L176.8 514.6L178 515.4L178.9 516.4L179.2 516.5L180.4 517.2L181.6 517.6L182.8 518.3L184 519.3L185.2 520.1L186.4 521.3L187.6 522.4L188.7 522.7L189.9 523.4L191.1 523.4L192 524.3L192.3 524.4L193.5 524.8L194.7 525.2L195.9 526.1L197.1 526.9L198.3 527.2L199.5 527.4L200.7 527.6L201.9 528.5L202.5 529.3L203.1 529.4L204.3 529.4L205.5 530L206.7 531.1L207.9 531.5L209.1 531.8L210.3 532.6L211.5 532.2L212.7 532.8L213.9 533.2L215.1 534L216.3 534.4L217.5 535.2L218.7 535.2L219.9 535.2L221.1 536.3L222.3 537.1L223.5 537.6L224.7 537.9L225 537.4L225.9 536.3L227.1 535L228.3 534.4L229.5 534.1L230.7 532.6L231.9 531.7L232.5 531.4L233.1 531.9L234.3 532.6L235.5 532.8L236.7 533L237.9 533.6L239.1 534L240.3 534.5L241.5 534.7L242.7 535.5L243.9 536.2L245.1 536.8L246.3 537.5L247.5 538.2L248.7 539L249.9 539.7L251.1 540.5L252 541.1" stroke="#9e2a8c" stroke-width="1.45" fill="none" stroke-linejoin="round"/>
<rect x="37.7" y="398.6" width="217.7" height="141.9" fill="none" stroke="#333" stroke-width="0.9"/>
<path d="M37.7 517.6h-2.2M37.7 494h-2.2M37.7 470.5h-2.2M37.7 446.9h-2.2M37.7 423.4h-2.2M37.7 399.9h-2.2M37.7 540.5v1.8M67.7 540.5v1.8M97.6 540.5v1.8M127.6 540.5v1.8M157.6 540.5v1.8M187.6 540.5v1.8M217.5 540.5v1.8M247.5 540.5v1.8" stroke="#444" stroke-width="0.7"/>
<text x="32.8" y="520.1" font-size="7.0" text-anchor="end" font-weight="normal" fill="#333" stroke="#333" stroke-width="0.15" >0.1</text>
<text x="32.8" y="496.5" font-size="7.0" text-anchor="end" font-weight="normal" fill="#333" stroke="#333" stroke-width="0.15" >0.2</text>
<text x="32.8" y="473" font-size="7.0" text-anchor="end" font-weight="normal" fill="#333" stroke="#333" stroke-width="0.15" >0.3</text>
<text x="32.8" y="449.4" font-size="7.0" text-anchor="end" font-weight="normal" fill="#333" stroke="#333" stroke-width="0.15" >0.4</text>
<text x="32.8" y="425.9" font-size="7.0" text-anchor="end" font-weight="normal" fill="#333" stroke="#333" stroke-width="0.15" >0.5</text>
<text x="32.8" y="402.4" font-size="7.0" text-anchor="end" font-weight="normal" fill="#333" stroke="#333" stroke-width="0.15" >0.6</text>
<text x="37.7" y="548.4" font-size="4.8" text-anchor="middle" font-weight="normal" fill="#333" stroke="#333" stroke-width="0.11" >0</text>
<text x="67.7" y="548.4" font-size="4.8" text-anchor="middle" font-weight="normal" fill="#333" stroke="#333" stroke-width="0.11" >2000</text>
<text x="97.6" y="548.4" font-size="4.8" text-anchor="middle" font-weight="normal" fill="#333" stroke="#333" stroke-width="0.11" >4000</text>
<text x="127.6" y="548.4" font-size="4.8" text-anchor="middle" font-weight="normal" fill="#333" stroke="#333" stroke-width="0.11" >6000</text>
<text x="157.6" y="548.4" font-size="4.8" text-anchor="middle" font-weight="normal" fill="#333" stroke="#333" stroke-width="0.11" >8000</text>
<text x="187.6" y="548.4" font-size="4.8" text-anchor="middle" font-weight="normal" fill="#333" stroke="#333" stroke-width="0.11" >10000</text>
<text x="217.5" y="548.4" font-size="4.8" text-anchor="middle" font-weight="normal" fill="#333" stroke="#333" stroke-width="0.11" >12000</text>
<text x="247.5" y="548.4" font-size="4.8" text-anchor="middle" font-weight="normal" fill="#333" stroke="#333" stroke-width="0.11" >14000</text>
<text transform="translate(18.6 469.3) rotate(-90)" font-size="7.4" font-weight="bold" text-anchor="middle" fill="#222">Enrichment Score</text>
<text x="69.6" y="395.0" font-size="7.9" font-weight="bold" fill="#222">GSEA _“meiotic”</text>
<text x="144.1" y="395.0" font-size="7.5" font-weight="bold" fill="#222">HS-vs-NC</text>
<rect x="135.2" y="403.4" width="3.3" height="3.3" fill="#f4a04c"/>
<text x="141.4" y="406.7" font-size="4.92" text-anchor="start" font-weight="normal" fill="#4a4a4a" stroke="#4a4a4a" stroke-width="0.11" >GO:0051307 meiotic chromosome separation</text>
<rect x="135.2" y="413.9" width="3.3" height="3.3" fill="#5cc6e6"/>
<text x="141.4" y="417.2" font-size="4.92" text-anchor="start" font-weight="normal" fill="#4a4a4a" stroke="#4a4a4a" stroke-width="0.11" >GO:0007143 female meiotic nuclear division</text>
<rect x="135.2" y="424.4" width="3.3" height="3.3" fill="#e8333f"/>
<text x="141.4" y="427.7" font-size="4.92" text-anchor="start" font-weight="normal" fill="#4a4a4a" stroke="#4a4a4a" stroke-width="0.11" >GO:0040020 regulation of meiotic nuclear division</text>
<rect x="135.2" y="435.2" width="3.3" height="3.3" fill="#2eae7c"/>
<text x="141.4" y="438.5" font-size="4.92" text-anchor="start" font-weight="normal" fill="#4a4a4a" stroke="#4a4a4a" stroke-width="0.11" >GO:0007140 male meiotic nuclear division</text>
<rect x="135.2" y="445.7" width="3.3" height="3.3" fill="#efe23c"/>
<text x="141.4" y="449" font-size="4.92" text-anchor="start" font-weight="normal" fill="#4a4a4a" stroke="#4a4a4a" stroke-width="0.11" >GO:0007131 reciprocal meiotic recombination</text>
<rect x="135.2" y="456.2" width="3.3" height="3.3" fill="#9e2a8c"/>
<text x="141.4" y="459.5" font-size="4.92" text-anchor="start" font-weight="normal" fill="#4a4a4a" stroke="#4a4a4a" stroke-width="0.11" >GO:0051321 meiotic cell cycle</text>
<rect x="47.8" y="503.4" width="3.3" height="3.3" fill="#f06c3c"/>
<text x="53.8" y="506.7" font-size="4.92" text-anchor="start" font-weight="normal" fill="#4a4a4a" stroke="#4a4a4a" stroke-width="0.11" >GO:0045132 meiotic chromosome segregation</text>
<rect x="47.8" y="514.2" width="3.3" height="3.3" fill="#5a3ca2"/>
<text x="53.8" y="517.5" font-size="4.92" text-anchor="start" font-weight="normal" fill="#4a4a4a" stroke="#4a4a4a" stroke-width="0.11" >GO:0140013 meiotic nuclear division</text>
<rect x="47.8" y="524.8" width="3.3" height="3.3" fill="#bcaee2"/>
<text x="53.8" y="528.1" font-size="4.92" text-anchor="start" font-weight="normal" fill="#4a4a4a" stroke="#4a4a4a" stroke-width="0.11" >GO:1903046 meiotic cell cycle process</text>
<rect x="47.8" y="533.4" width="3.3" height="3.3" fill="#3cb48c"/>
<text x="53.8" y="536.7" font-size="4.92" text-anchor="start" font-weight="normal" fill="#4a4a4a" stroke="#4a4a4a" stroke-width="0.11" >GO:0070192 chromosome organization involved in meiotic cell cycle</text>
<rect x="276.2" y="399.6" width="190.8" height="133.8" fill="none" stroke="#333" stroke-width="1.0"/>
<path d="M276.2 527.7h-2M276.2 484.5h-2M276.2 441.3h-2M294.5 533.4v1.6M325.7 533.4v1.6M357.4 533.4v1.6M388.7 533.4v1.6M420.1 533.4v1.6M451 533.4v1.6" stroke="#333" stroke-width="0.7"/>
<text x="272.9" y="529.8" font-size="6.0" text-anchor="end" font-weight="normal" fill="#333" stroke="#333" stroke-width="0.13" >0</text>
<text x="272.9" y="486.6" font-size="6.0" text-anchor="end" font-weight="normal" fill="#333" stroke="#333" stroke-width="0.13" >1</text>
<text x="272.9" y="443.4" font-size="6.0" text-anchor="end" font-weight="normal" fill="#333" stroke="#333" stroke-width="0.13" >2</text>
<text transform="translate(267.3 470.5) rotate(-90)" font-size="7.85" text-anchor="middle" fill="#333" stroke="#333" stroke-width="0.3">Fold change of mRNA expression</text>
<text x="311.2" y="541.6" font-size="6.2" text-anchor="middle" font-weight="normal" fill="#333" stroke="#333" stroke-width="0.14" >meiob</text>
<text x="372.8" y="541.6" font-size="6.2" text-anchor="middle" font-weight="normal" fill="#333" stroke="#333" stroke-width="0.14" >meioc</text>
<text x="437.4" y="541.6" font-size="6.2" text-anchor="middle" font-weight="normal" fill="#333" stroke="#333" stroke-width="0.14" >mael</text>
<rect x="283.2" y="484.5" width="22.7" height="43.2" fill="#8dc0b4" stroke="#333" stroke-width="1.0"/>
<rect x="314.7" y="525.1" width="22" height="2.6" fill="#e8482e" stroke="#333" stroke-width="1.0"/>
<rect x="346.2" y="484.5" width="22.4" height="43.2" fill="#8dc0b4" stroke="#333" stroke-width="1.0"/>
<rect x="377.6" y="522.7" width="22.2" height="5" fill="#e8482e" stroke="#333" stroke-width="1.0"/>
<rect x="409.0" y="484.5" width="22.2" height="43.2" fill="#8dc0b4" stroke="#333" stroke-width="1.0"/>
<rect x="440.1" y="526.4" width="21.8" height="1.3" fill="#e8482e" stroke="#333" stroke-width="1.0"/>
<path d="M294.5 484.5V474.1M292.9 474.1h3.2M325.7 525.1V524.2M324.1 524.2h3.2M357.4 484.5V481.9M355.8 481.9h3.2M388.7 522.7V520.4M387.1 520.4h3.2M420.1 484.5V479.7M418.5 479.7h3.2M451 526.4V526M449.4 526h3.2" stroke="#333" stroke-width="0.8" fill="none"/>
<circle cx="298.2" cy="448.6" r="1.05" fill="#111"/>
<circle cx="290.2" cy="472.7" r="1.05" fill="#111"/>
<circle cx="293.5" cy="492.8" r="1.05" fill="#111"/>
<circle cx="296.8" cy="502.6" r="1.05" fill="#111"/>
<circle cx="294.4" cy="508.4" r="1.05" fill="#111"/>
<circle cx="322.5" cy="525.6" r="1.05" fill="#111"/>
<circle cx="325.5" cy="523.6" r="1.05" fill="#111"/>
<circle cx="328" cy="524.8" r="1.05" fill="#111"/>
<circle cx="326.5" cy="526.4" r="1.05" fill="#111"/>
<circle cx="323.8" cy="526.6" r="1.05" fill="#111"/>
<circle cx="361.7" cy="477" r="1.05" fill="#111"/>
<circle cx="358.9" cy="481.8" r="1.05" fill="#111"/>
<circle cx="357.2" cy="482.6" r="1.05" fill="#111"/>
<circle cx="363.1" cy="487.6" r="1.05" fill="#111"/>
<circle cx="351.7" cy="492.9" r="1.05" fill="#111"/>
<circle cx="388.7" cy="517.9" r="1.05" fill="#111"/>
<circle cx="393.4" cy="519.6" r="1.05" fill="#111"/>
<circle cx="386" cy="523.8" r="1.05" fill="#111"/>
<circle cx="389" cy="525.2" r="1.05" fill="#111"/>
<circle cx="391" cy="524.4" r="1.05" fill="#111"/>
<circle cx="422.9" cy="469.5" r="1.05" fill="#111"/>
<circle cx="415.7" cy="477.9" r="1.05" fill="#111"/>
<circle cx="425.7" cy="490.1" r="1.05" fill="#111"/>
<circle cx="419.3" cy="491.8" r="1.05" fill="#111"/>
<circle cx="418.7" cy="494.5" r="1.05" fill="#111"/>
<circle cx="449" cy="526.6" r="1.05" fill="#111"/>
<circle cx="450.4" cy="526" r="1.05" fill="#111"/>
<circle cx="451.8" cy="526.8" r="1.05" fill="#111"/>
<circle cx="448" cy="527" r="1.05" fill="#111"/>
<circle cx="452.6" cy="526.4" r="1.05" fill="#111"/>
<text x="309.9" y="433.2" font-size="6.2" text-anchor="middle" font-weight="normal" fill="#333" stroke="#333" stroke-width="0.14" >0.021</text>
<text x="372.8" y="433.2" font-size="6.2" text-anchor="middle" font-weight="normal" fill="#333" stroke="#333" stroke-width="0.14" >0.0000065</text>
<text x="435.4" y="433.2" font-size="6.2" text-anchor="middle" font-weight="normal" fill="#333" stroke="#333" stroke-width="0.14" >0.00087</text>
<path d="M294.2 437.6V435.3H325.5V437.6M357.2 437.6V435.3H389.2V437.6M419.8 437.6V435.3H451.3V437.6" stroke="#333" stroke-width="0.7" fill="none"/>
<rect x="291.9" y="409.6" width="5.8" height="4.4" fill="#8dc0b4"/>
<text x="300.6" y="414.3" font-size="6.4" text-anchor="start" font-weight="normal" fill="#333" stroke="#333" stroke-width="0.14" >NC</text>
<rect x="328.1" y="409.6" width="6.3" height="4.4" fill="#e8482e"/>
<text x="336.7" y="414.3" font-size="6.5" text-anchor="start" font-weight="normal" fill="#333" stroke="#333" stroke-width="0.14" >HS</text>
</svg>
</body></html>
